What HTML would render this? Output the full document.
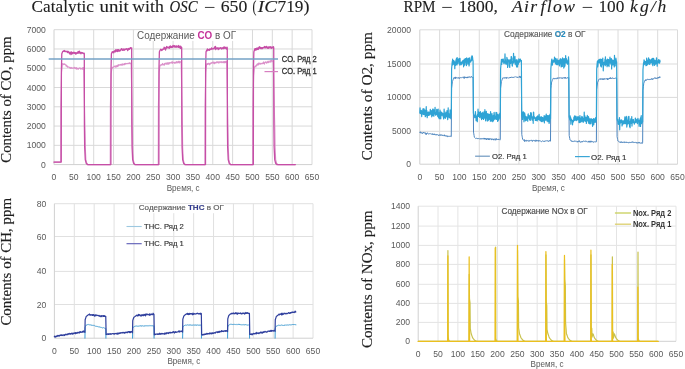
<!DOCTYPE html>
<html><head><meta charset="utf-8"><title>Charts</title>
<style>html,body{margin:0;padding:0;background:#fff;overflow:hidden;width:685px;height:369px;} svg{display:block;}</style>
</head><body>
<svg width="685" height="369" viewBox="0 0 685 369">
<rect width="685" height="369" fill="#fff"/>
<line x1="54.00" y1="145.33" x2="312.00" y2="145.33" stroke="#d9d9d9" stroke-width="1"/>
<line x1="54.00" y1="126.06" x2="312.00" y2="126.06" stroke="#d9d9d9" stroke-width="1"/>
<line x1="54.00" y1="106.79" x2="312.00" y2="106.79" stroke="#d9d9d9" stroke-width="1"/>
<line x1="54.00" y1="87.51" x2="312.00" y2="87.51" stroke="#d9d9d9" stroke-width="1"/>
<line x1="54.00" y1="68.24" x2="312.00" y2="68.24" stroke="#d9d9d9" stroke-width="1"/>
<line x1="54.00" y1="48.97" x2="312.00" y2="48.97" stroke="#d9d9d9" stroke-width="1"/>
<line x1="54.00" y1="29.70" x2="312.00" y2="29.70" stroke="#d9d9d9" stroke-width="1"/>
<line x1="73.85" y1="29.70" x2="73.85" y2="164.60" stroke="#d9d9d9" stroke-width="1"/>
<line x1="93.69" y1="29.70" x2="93.69" y2="164.60" stroke="#d9d9d9" stroke-width="1"/>
<line x1="113.54" y1="29.70" x2="113.54" y2="164.60" stroke="#d9d9d9" stroke-width="1"/>
<line x1="133.38" y1="29.70" x2="133.38" y2="164.60" stroke="#d9d9d9" stroke-width="1"/>
<line x1="153.23" y1="29.70" x2="153.23" y2="164.60" stroke="#d9d9d9" stroke-width="1"/>
<line x1="173.08" y1="29.70" x2="173.08" y2="164.60" stroke="#d9d9d9" stroke-width="1"/>
<line x1="192.92" y1="29.70" x2="192.92" y2="164.60" stroke="#d9d9d9" stroke-width="1"/>
<line x1="212.77" y1="29.70" x2="212.77" y2="164.60" stroke="#d9d9d9" stroke-width="1"/>
<line x1="232.62" y1="29.70" x2="232.62" y2="164.60" stroke="#d9d9d9" stroke-width="1"/>
<line x1="252.46" y1="29.70" x2="252.46" y2="164.60" stroke="#d9d9d9" stroke-width="1"/>
<line x1="272.31" y1="29.70" x2="272.31" y2="164.60" stroke="#d9d9d9" stroke-width="1"/>
<line x1="292.15" y1="29.70" x2="292.15" y2="164.60" stroke="#d9d9d9" stroke-width="1"/>
<line x1="312.00" y1="29.70" x2="312.00" y2="164.60" stroke="#d9d9d9" stroke-width="1"/>
<line x1="54.00" y1="29.70" x2="54.00" y2="164.60" stroke="#d0d0d0" stroke-width="1"/>
<line x1="54.00" y1="164.60" x2="312.00" y2="164.60" stroke="#d0d0d0" stroke-width="1"/>
<text x="45.80" y="167.60" text-anchor="end" font-family="'Liberation Sans', 'DejaVu Sans', sans-serif" font-size="8.6" fill="#595959">0</text>
<text x="45.80" y="148.33" text-anchor="end" font-family="'Liberation Sans', 'DejaVu Sans', sans-serif" font-size="8.6" fill="#595959">1000</text>
<text x="45.80" y="129.06" text-anchor="end" font-family="'Liberation Sans', 'DejaVu Sans', sans-serif" font-size="8.6" fill="#595959">2000</text>
<text x="45.80" y="109.79" text-anchor="end" font-family="'Liberation Sans', 'DejaVu Sans', sans-serif" font-size="8.6" fill="#595959">3000</text>
<text x="45.80" y="90.51" text-anchor="end" font-family="'Liberation Sans', 'DejaVu Sans', sans-serif" font-size="8.6" fill="#595959">4000</text>
<text x="45.80" y="71.24" text-anchor="end" font-family="'Liberation Sans', 'DejaVu Sans', sans-serif" font-size="8.6" fill="#595959">5000</text>
<text x="45.80" y="51.97" text-anchor="end" font-family="'Liberation Sans', 'DejaVu Sans', sans-serif" font-size="8.6" fill="#595959">6000</text>
<text x="45.80" y="32.70" text-anchor="end" font-family="'Liberation Sans', 'DejaVu Sans', sans-serif" font-size="8.6" fill="#595959">7000</text>
<text x="54.00" y="180.00" text-anchor="middle" font-family="'Liberation Sans', 'DejaVu Sans', sans-serif" font-size="8.6" fill="#595959">0</text>
<text x="73.85" y="180.00" text-anchor="middle" font-family="'Liberation Sans', 'DejaVu Sans', sans-serif" font-size="8.6" fill="#595959">50</text>
<text x="93.69" y="180.00" text-anchor="middle" font-family="'Liberation Sans', 'DejaVu Sans', sans-serif" font-size="8.6" fill="#595959">100</text>
<text x="113.54" y="180.00" text-anchor="middle" font-family="'Liberation Sans', 'DejaVu Sans', sans-serif" font-size="8.6" fill="#595959">150</text>
<text x="133.38" y="180.00" text-anchor="middle" font-family="'Liberation Sans', 'DejaVu Sans', sans-serif" font-size="8.6" fill="#595959">200</text>
<text x="153.23" y="180.00" text-anchor="middle" font-family="'Liberation Sans', 'DejaVu Sans', sans-serif" font-size="8.6" fill="#595959">250</text>
<text x="173.08" y="180.00" text-anchor="middle" font-family="'Liberation Sans', 'DejaVu Sans', sans-serif" font-size="8.6" fill="#595959">300</text>
<text x="192.92" y="180.00" text-anchor="middle" font-family="'Liberation Sans', 'DejaVu Sans', sans-serif" font-size="8.6" fill="#595959">350</text>
<text x="212.77" y="180.00" text-anchor="middle" font-family="'Liberation Sans', 'DejaVu Sans', sans-serif" font-size="8.6" fill="#595959">400</text>
<text x="232.62" y="180.00" text-anchor="middle" font-family="'Liberation Sans', 'DejaVu Sans', sans-serif" font-size="8.6" fill="#595959">450</text>
<text x="252.46" y="180.00" text-anchor="middle" font-family="'Liberation Sans', 'DejaVu Sans', sans-serif" font-size="8.6" fill="#595959">500</text>
<text x="272.31" y="180.00" text-anchor="middle" font-family="'Liberation Sans', 'DejaVu Sans', sans-serif" font-size="8.6" fill="#595959">550</text>
<text x="292.15" y="180.00" text-anchor="middle" font-family="'Liberation Sans', 'DejaVu Sans', sans-serif" font-size="8.6" fill="#595959">600</text>
<text x="312.00" y="180.00" text-anchor="middle" font-family="'Liberation Sans', 'DejaVu Sans', sans-serif" font-size="8.6" fill="#595959">650</text>
<rect x="135" y="30.4" width="103" height="10.5" fill="#fff"/>
<text x="137" y="38.7" font-family="'Liberation Sans', 'DejaVu Sans', sans-serif" font-size="10" fill="#595959" textLength="99" lengthAdjust="spacingAndGlyphs">Содержание <tspan font-weight="bold" fill="#c5339a">CO</tspan> в ОГ</text>
<polyline points="54.00,162.09 54.28,162.09 54.55,162.09 54.83,162.09 55.10,162.09 55.38,162.09 55.66,162.09 55.93,162.09 56.21,162.09 56.49,162.09 56.76,162.09 57.04,162.09 57.31,162.09 57.59,162.09 57.87,162.09 58.14,162.09 58.42,162.09 58.70,162.09 58.97,162.09 59.25,162.09 59.52,162.09 59.80,162.09 60.08,162.09 60.35,162.09 60.63,162.09 60.75,106.79 61.01,95.22 61.28,83.66 61.54,72.10 61.81,69.33 62.07,66.57 62.34,63.81 62.60,64.00 62.86,63.69 63.13,64.11 63.39,64.22 63.66,64.58 63.92,64.30 64.19,63.72 64.45,64.12 64.72,64.39 64.99,64.08 65.27,64.65 65.55,64.78 65.83,65.07 66.11,66.15 66.38,65.13 66.66,65.49 66.94,65.69 67.22,66.94 67.50,66.32 67.78,67.33 68.07,67.09 68.36,67.07 68.65,66.87 68.94,67.21 69.23,67.12 69.52,67.85 69.80,67.57 70.09,67.70 70.38,68.39 70.67,68.24 70.95,67.39 71.24,67.92 71.52,67.58 71.80,68.43 72.09,68.46 72.37,68.24 72.66,68.10 72.94,67.72 73.22,67.88 73.51,68.18 73.79,68.40 74.07,68.16 74.36,67.30 74.64,67.86 74.92,68.30 75.21,67.85 75.49,67.82 75.77,68.80 76.06,68.11 76.34,67.56 76.62,69.21 76.91,68.45 77.19,68.40 77.48,68.80 77.76,68.22 78.04,68.55 78.33,69.28 78.61,68.63 78.88,68.21 79.15,68.27 79.42,68.11 79.70,67.85 79.97,68.35 80.24,68.45 80.51,69.11 80.78,68.17 81.05,68.74 81.33,68.64 81.60,69.01 81.87,68.85 82.14,68.62 82.41,67.72 82.68,69.30 82.95,69.01 83.23,68.17 83.50,67.57 83.77,68.24 84.08,83.62 84.38,100.47 84.69,116.43 85.00,130.88 85.28,147.26 85.58,153.52 85.87,159.78 86.12,160.70 86.37,161.61 86.62,162.53 86.87,163.44 87.16,163.73 87.46,164.02 87.76,164.31 88.06,164.60 88.33,164.60 88.61,164.60 88.89,164.60 89.17,164.60 89.44,164.60 89.72,164.60 90.00,164.60 90.27,164.60 90.55,164.60 90.83,164.60 91.11,164.60 91.38,164.60 91.66,164.60 91.94,164.60 92.22,164.60 92.49,164.60 92.77,164.60 93.05,164.60 93.33,164.60 93.60,164.60 93.88,164.60 94.16,164.60 94.44,164.60 94.71,164.60 94.99,164.60 95.27,164.60 95.54,164.60 95.82,164.60 96.10,164.60 96.38,164.60 96.65,164.60 96.93,164.60 97.21,164.60 97.49,164.60 97.76,164.60 98.04,164.60 98.32,164.60 98.60,164.60 98.87,164.60 99.15,164.60 99.43,164.60 99.70,164.60 99.98,164.60 100.26,164.60 100.54,164.60 100.81,164.60 101.09,164.60 101.37,164.60 101.65,164.60 101.92,164.60 102.20,164.60 102.48,164.60 102.76,164.60 103.03,164.60 103.31,164.60 103.59,164.60 103.86,164.60 104.14,164.60 104.42,164.60 104.70,164.60 104.97,164.60 105.25,164.60 105.53,164.60 105.81,164.60 106.08,164.60 106.36,164.60 106.64,164.60 106.92,164.60 107.19,164.60 107.47,164.60 107.75,164.60 108.03,164.60 108.30,164.60 108.58,164.60 108.86,164.60 109.13,164.60 109.41,164.60 109.69,164.60 109.97,164.60 110.24,164.60 110.36,106.79 110.63,95.87 110.89,84.94 111.16,74.02 111.42,71.97 111.69,69.91 111.95,67.86 112.23,67.58 112.50,67.99 112.78,68.07 113.06,66.95 113.33,66.78 113.61,67.13 113.88,66.98 114.16,66.78 114.44,66.11 114.71,66.47 114.99,66.41 115.26,66.29 115.54,67.20 115.82,65.71 116.09,65.76 116.37,65.86 116.64,66.96 116.92,66.20 117.20,65.38 117.47,66.55 117.75,65.66 118.03,64.97 118.30,65.35 118.58,65.93 118.85,64.47 119.12,64.93 119.40,65.21 119.67,64.93 119.94,64.72 120.22,64.92 120.49,64.37 120.77,65.19 121.04,65.02 121.31,64.27 121.59,64.70 121.86,65.09 122.13,64.15 122.41,63.85 122.68,64.72 122.96,65.11 123.23,64.46 123.50,64.41 123.78,64.43 124.05,63.56 124.32,64.68 124.60,63.52 124.87,64.69 125.15,64.40 125.42,63.67 125.69,63.37 125.97,63.45 126.24,63.81 126.51,63.62 126.79,63.70 127.06,63.67 127.33,63.45 127.61,63.79 127.88,63.55 128.15,63.38 128.43,63.64 128.70,63.25 128.97,63.32 129.25,62.61 129.52,63.40 129.79,63.74 130.07,63.69 130.34,63.50 130.61,63.02 130.89,63.61 131.16,63.42 131.47,79.68 131.78,95.42 132.08,113.98 132.39,129.19 132.67,147.26 132.97,153.52 133.27,159.78 133.51,160.70 133.76,161.61 134.01,162.53 134.26,163.44 134.56,163.73 134.85,164.02 135.15,164.31 135.45,164.60 135.73,164.60 136.01,164.60 136.28,164.60 136.56,164.60 136.84,164.60 137.12,164.60 137.40,164.60 137.68,164.60 137.95,164.60 138.23,164.60 138.51,164.60 138.79,164.60 139.07,164.60 139.35,164.60 139.62,164.60 139.90,164.60 140.18,164.60 140.46,164.60 140.74,164.60 141.02,164.60 141.29,164.60 141.57,164.60 141.85,164.60 142.13,164.60 142.41,164.60 142.69,164.60 142.96,164.60 143.24,164.60 143.52,164.60 143.80,164.60 144.08,164.60 144.36,164.60 144.63,164.60 144.91,164.60 145.19,164.60 145.47,164.60 145.75,164.60 146.03,164.60 146.30,164.60 146.58,164.60 146.86,164.60 147.14,164.60 147.42,164.60 147.70,164.60 147.97,164.60 148.25,164.60 148.53,164.60 148.81,164.60 149.09,164.60 149.37,164.60 149.64,164.60 149.92,164.60 150.20,164.60 150.48,164.60 150.76,164.60 151.04,164.60 151.31,164.60 151.59,164.60 151.87,164.60 152.15,164.60 152.43,164.60 152.71,164.60 152.98,164.60 153.26,164.60 153.54,164.60 153.82,164.60 154.10,164.60 154.38,164.60 154.65,164.60 154.93,164.60 155.21,164.60 155.49,164.60 155.77,164.60 156.05,164.60 156.32,164.60 156.60,164.60 156.88,164.60 157.16,164.60 157.44,164.60 157.72,164.60 157.99,164.60 158.27,164.60 158.39,106.79 158.66,95.22 158.92,83.66 159.18,72.10 159.45,69.85 159.71,67.60 159.98,65.35 160.25,65.81 160.53,65.07 160.81,64.91 161.08,64.90 161.36,65.14 161.64,64.53 161.91,64.63 162.19,64.93 162.46,63.43 162.74,64.34 163.02,64.70 163.29,64.39 163.57,64.37 163.84,64.21 164.12,65.41 164.40,64.25 164.67,63.44 164.95,64.41 165.22,63.79 165.50,63.22 165.78,63.18 166.05,62.79 166.33,63.42 166.61,64.22 166.89,63.54 167.17,63.50 167.45,63.01 167.73,62.75 168.01,64.54 168.29,62.70 168.57,63.89 168.85,62.83 169.13,63.85 169.41,63.02 169.69,62.50 169.97,63.12 170.25,62.93 170.53,62.60 170.81,62.89 171.09,62.97 171.37,62.16 171.65,62.37 171.93,62.98 172.21,61.49 172.49,63.34 172.77,62.32 173.05,62.85 173.33,62.63 173.61,62.33 173.89,62.53 174.17,62.30 174.45,63.32 174.73,63.28 175.01,62.23 175.29,62.96 175.57,62.96 175.85,63.14 176.13,61.80 176.41,62.02 176.69,61.64 176.97,62.77 177.25,62.29 177.53,62.81 177.81,61.86 178.09,61.44 178.37,62.60 178.65,61.39 178.93,61.64 179.21,62.17 179.49,63.01 179.77,61.35 180.05,62.05 180.33,62.26 180.61,61.75 180.89,61.71 181.17,61.88 181.48,77.85 181.79,95.76 182.10,111.41 182.40,128.65 182.68,147.26 182.98,153.52 183.28,159.78 183.53,160.70 183.77,161.61 184.02,162.53 184.27,163.44 184.57,163.73 184.87,164.02 185.16,164.31 185.46,164.60 185.74,164.60 186.02,164.60 186.29,164.60 186.57,164.60 186.85,164.60 187.13,164.60 187.41,164.60 187.68,164.60 187.96,164.60 188.24,164.60 188.52,164.60 188.80,164.60 189.07,164.60 189.35,164.60 189.63,164.60 189.91,164.60 190.18,164.60 190.46,164.60 190.74,164.60 191.02,164.60 191.30,164.60 191.57,164.60 191.85,164.60 192.13,164.60 192.41,164.60 192.68,164.60 192.96,164.60 193.24,164.60 193.52,164.60 193.80,164.60 194.07,164.60 194.35,164.60 194.63,164.60 194.91,164.60 195.19,164.60 195.46,164.60 195.74,164.60 196.02,164.60 196.30,164.60 196.57,164.60 196.85,164.60 197.13,164.60 197.41,164.60 197.69,164.60 197.96,164.60 198.24,164.60 198.52,164.60 198.80,164.60 199.08,164.60 199.35,164.60 199.63,164.60 199.91,164.60 200.19,164.60 200.46,164.60 200.74,164.60 201.02,164.60 201.30,164.60 201.58,164.60 201.85,164.60 202.13,164.60 202.41,164.60 202.69,164.60 202.97,164.60 203.24,164.60 203.52,164.60 203.80,164.60 204.08,164.60 204.35,164.60 204.63,164.60 204.91,164.60 205.03,106.79 205.29,95.22 205.56,83.66 205.82,72.10 206.09,69.53 206.35,66.96 206.62,64.39 206.89,63.60 207.17,63.55 207.45,64.27 207.72,64.48 208.00,63.56 208.27,63.93 208.55,63.86 208.83,63.17 209.10,63.91 209.38,64.82 209.65,63.84 209.93,64.48 210.21,63.12 210.48,63.30 210.76,63.68 211.03,63.32 211.31,62.85 211.59,63.14 211.86,62.48 212.14,63.08 212.42,62.48 212.69,62.20 212.97,62.85 213.24,62.04 213.52,63.12 213.79,62.34 214.07,63.64 214.35,63.23 214.62,63.63 214.90,62.14 215.17,63.22 215.45,62.61 215.72,62.67 216.00,62.56 216.27,62.81 216.55,62.38 216.82,61.61 217.10,62.42 217.38,62.16 217.65,61.91 217.93,62.46 218.20,62.94 218.48,62.57 218.75,61.76 219.03,63.05 219.30,62.51 219.58,61.71 219.85,61.79 220.13,62.14 220.41,61.73 220.68,62.01 220.96,62.63 221.23,62.79 221.51,62.32 221.78,61.54 222.06,62.23 222.33,62.36 222.61,62.27 222.88,62.61 223.16,61.91 223.44,62.39 223.71,61.62 223.99,62.90 224.26,61.58 224.54,62.02 224.81,62.62 225.09,61.31 225.36,61.77 225.64,62.68 225.91,62.00 226.19,61.41 226.47,61.75 226.74,61.50 227.05,77.88 227.36,94.65 227.66,111.44 227.97,128.51 228.25,147.26 228.55,153.52 228.84,159.78 229.09,160.70 229.34,161.61 229.59,162.53 229.84,163.44 230.13,163.73 230.43,164.02 230.73,164.31 231.03,164.60 231.31,164.60 231.58,164.60 231.86,164.60 232.14,164.60 232.42,164.60 232.70,164.60 232.98,164.60 233.25,164.60 233.53,164.60 233.81,164.60 234.09,164.60 234.37,164.60 234.65,164.60 234.92,164.60 235.20,164.60 235.48,164.60 235.76,164.60 236.04,164.60 236.32,164.60 236.59,164.60 236.87,164.60 237.15,164.60 237.43,164.60 237.71,164.60 237.99,164.60 238.26,164.60 238.54,164.60 238.82,164.60 239.10,164.60 239.38,164.60 239.66,164.60 239.94,164.60 240.21,164.60 240.49,164.60 240.77,164.60 241.05,164.60 241.33,164.60 241.61,164.60 241.88,164.60 242.16,164.60 242.44,164.60 242.72,164.60 243.00,164.60 243.28,164.60 243.55,164.60 243.83,164.60 244.11,164.60 244.39,164.60 244.67,164.60 244.95,164.60 245.22,164.60 245.50,164.60 245.78,164.60 246.06,164.60 246.34,164.60 246.62,164.60 246.89,164.60 247.17,164.60 247.45,164.60 247.73,164.60 248.01,164.60 248.29,164.60 248.56,164.60 248.84,164.60 249.12,164.60 249.40,164.60 249.68,164.60 249.96,164.60 250.23,164.60 250.51,164.60 250.79,164.60 251.07,164.60 251.35,164.60 251.63,164.60 251.90,164.60 252.18,164.60 252.46,164.60 252.74,164.60 252.86,106.79 253.12,96.51 253.39,86.23 253.65,75.95 253.92,73.06 254.18,70.17 254.45,67.28 254.73,66.86 255.02,66.11 255.31,66.17 255.60,66.01 255.89,66.97 256.18,65.27 256.47,64.81 256.76,65.32 257.04,65.14 257.33,63.72 257.62,64.39 257.90,65.18 258.17,64.04 258.45,63.04 258.72,64.60 259.00,63.76 259.27,63.12 259.55,64.03 259.82,63.64 260.09,63.42 260.37,64.23 260.64,63.78 260.92,63.54 261.19,63.22 261.47,63.58 261.74,63.59 262.02,63.93 262.29,63.55 262.57,62.89 262.84,63.21 263.12,63.61 263.39,63.55 263.67,61.80 263.94,62.48 264.22,62.66 264.49,64.16 264.77,62.85 265.05,62.48 265.33,62.49 265.61,61.84 265.89,62.38 266.18,62.56 266.46,62.21 266.74,63.33 267.02,61.84 267.30,62.11 267.58,62.54 267.87,61.50 268.15,61.20 268.43,62.69 268.71,62.27 268.99,61.74 269.28,61.73 269.56,61.95 269.84,62.16 270.12,60.60 270.40,61.06 270.68,62.07 270.97,62.08 271.25,60.55 271.53,60.83 271.81,60.36 272.09,60.79 272.38,61.53 272.66,60.92 272.94,62.02 273.22,60.92 273.49,72.51 273.75,83.41 274.01,94.36 274.28,106.20 274.54,117.14 274.81,128.31 275.09,147.26 275.38,153.52 275.68,159.78 275.93,160.70 276.18,161.61 276.43,162.53 276.67,163.44 276.97,163.73 277.27,164.02 277.57,164.31 277.86,164.60 278.14,164.60 278.42,164.60 278.70,164.60 278.97,164.60 279.25,164.60 279.53,164.60 279.81,164.60 280.08,164.60 280.36,164.60 280.64,164.60 280.91,164.60 281.19,164.60 281.47,164.60 281.75,164.60 282.02,164.60 282.30,164.60 282.58,164.60 282.85,164.60 283.13,164.60 283.41,164.60 283.69,164.60 283.96,164.60 284.24,164.60 284.52,164.60 284.80,164.60 285.07,164.60 285.35,164.60 285.63,164.60 285.90,164.60 286.18,164.60 286.46,164.60 286.74,164.60 287.01,164.60 287.29,164.60 287.57,164.60 287.84,164.60 288.12,164.60 288.40,164.60 288.68,164.60 288.95,164.60 289.23,164.60 289.51,164.60 289.78,164.60 290.06,164.60 290.34,164.60 290.62,164.60 290.89,164.60 291.17,164.60 291.45,164.60 291.73,164.60 292.00,164.60 292.28,164.60 292.56,164.60 292.83,164.60 293.11,164.60 293.39,164.60 293.67,164.60 293.94,164.60 294.22,164.60 294.50,164.60 294.77,164.60 295.05,164.60 295.33,164.60" fill="none" stroke="#db92ca" stroke-width="1.1" stroke-linejoin="round" stroke-linecap="round" opacity="1.0"/>
<polyline points="54.00,162.09 54.28,162.09 54.56,162.09 54.84,162.09 55.12,162.09 55.40,162.09 55.68,162.09 55.96,162.09 56.23,162.09 56.51,162.09 56.79,162.09 57.07,162.09 57.35,162.09 57.63,162.09 57.91,162.09 58.19,162.09 58.47,162.09 58.75,162.09 59.03,162.09 59.31,162.09 59.59,162.09 59.87,162.09 60.15,162.09 60.43,162.09 60.70,162.09 60.98,162.09 61.26,162.09 61.38,72.10 61.78,53.79 62.04,53.15 62.31,52.50 62.57,51.86 62.86,51.42 63.14,51.33 63.42,51.02 63.71,51.17 63.99,51.39 64.27,50.50 64.56,50.90 64.84,50.96 65.12,51.64 65.40,51.59 65.68,51.26 65.96,51.43 66.24,51.34 66.52,51.53 66.80,51.51 67.08,51.81 67.36,52.65 67.64,51.61 67.92,51.28 68.20,51.78 68.48,52.30 68.76,51.96 69.04,53.00 69.32,52.44 69.60,53.77 69.89,52.51 70.17,53.23 70.46,52.16 70.74,53.45 71.02,54.54 71.31,53.53 71.59,51.82 71.87,53.19 72.16,53.91 72.44,53.56 72.72,52.75 73.01,52.82 73.29,53.09 73.57,52.27 73.86,52.84 74.14,53.39 74.42,53.03 74.71,52.37 74.99,52.89 75.28,53.60 75.56,52.85 75.84,54.22 76.13,53.53 76.41,52.88 76.69,53.52 76.98,52.55 77.26,52.81 77.54,52.54 77.83,53.24 78.11,51.33 78.39,52.15 78.68,53.08 78.96,52.82 79.24,52.83 79.52,51.12 79.80,53.14 80.08,52.36 80.36,52.34 80.64,53.04 80.92,53.87 81.20,53.00 81.48,52.93 81.76,52.45 82.04,52.73 82.32,53.28 82.60,52.76 82.88,53.02 83.17,53.29 83.45,53.43 83.73,53.68 84.01,53.09 84.29,53.60 84.40,125.75 84.68,147.26 84.98,153.52 85.28,159.78 85.53,160.70 85.77,161.61 86.02,162.53 86.27,163.44 86.57,163.73 86.87,164.02 87.16,164.31 87.46,164.60 87.74,164.60 88.02,164.60 88.30,164.60 88.58,164.60 88.85,164.60 89.13,164.60 89.41,164.60 89.69,164.60 89.97,164.60 90.25,164.60 90.53,164.60 90.81,164.60 91.08,164.60 91.36,164.60 91.64,164.60 91.92,164.60 92.20,164.60 92.48,164.60 92.76,164.60 93.04,164.60 93.32,164.60 93.59,164.60 93.87,164.60 94.15,164.60 94.43,164.60 94.71,164.60 94.99,164.60 95.27,164.60 95.55,164.60 95.82,164.60 96.10,164.60 96.38,164.60 96.66,164.60 96.94,164.60 97.22,164.60 97.50,164.60 97.78,164.60 98.05,164.60 98.33,164.60 98.61,164.60 98.89,164.60 99.17,164.60 99.45,164.60 99.73,164.60 100.01,164.60 100.29,164.60 100.56,164.60 100.84,164.60 101.12,164.60 101.40,164.60 101.68,164.60 101.96,164.60 102.24,164.60 102.52,164.60 102.79,164.60 103.07,164.60 103.35,164.60 103.63,164.60 103.91,164.60 104.19,164.60 104.47,164.60 104.75,164.60 105.02,164.60 105.30,164.60 105.58,164.60 105.86,164.60 106.14,164.60 106.42,164.60 106.70,164.60 106.98,164.60 107.25,164.60 107.53,164.60 107.81,164.60 108.09,164.60 108.37,164.60 108.65,164.60 108.93,164.60 109.21,164.60 109.49,164.60 109.76,164.60 110.04,164.60 110.32,164.60 110.60,164.60 110.88,164.60 111.00,70.17 111.40,53.79 111.66,53.15 111.92,52.50 112.19,51.86 112.47,52.49 112.75,52.13 113.03,51.62 113.31,52.53 113.59,51.75 113.88,52.74 114.16,51.76 114.44,50.84 114.72,50.76 115.00,51.10 115.28,51.14 115.56,51.85 115.84,49.59 116.13,50.39 116.41,49.92 116.69,51.17 116.97,50.62 117.25,51.64 117.53,49.81 117.81,49.63 118.09,51.46 118.37,50.13 118.66,49.59 118.94,49.93 119.21,51.09 119.48,51.10 119.76,50.55 120.03,50.23 120.31,50.72 120.58,49.71 120.85,49.53 121.13,49.24 121.40,49.16 121.67,48.59 121.95,48.78 122.22,50.42 122.50,49.84 122.77,50.18 123.04,50.16 123.32,49.46 123.59,49.37 123.86,49.01 124.14,50.37 124.41,50.11 124.69,49.25 124.96,49.34 125.23,49.38 125.51,49.18 125.78,49.62 126.05,48.60 126.33,48.80 126.60,49.06 126.88,48.97 127.16,49.36 127.44,48.95 127.72,50.60 128.01,49.36 128.29,48.61 128.57,49.58 128.85,48.36 129.14,48.33 129.42,49.29 129.70,48.46 129.98,48.43 130.27,47.85 130.55,47.67 130.83,48.04 131.11,48.53 131.40,47.98 131.68,47.82 131.80,123.73 132.07,147.26 132.37,153.52 132.67,159.78 132.92,160.70 133.17,161.61 133.41,162.53 133.66,163.44 133.96,163.73 134.26,164.02 134.56,164.31 134.85,164.60 135.13,164.60 135.41,164.60 135.69,164.60 135.97,164.60 136.25,164.60 136.53,164.60 136.81,164.60 137.09,164.60 137.37,164.60 137.65,164.60 137.92,164.60 138.20,164.60 138.48,164.60 138.76,164.60 139.04,164.60 139.32,164.60 139.60,164.60 139.88,164.60 140.16,164.60 140.44,164.60 140.72,164.60 141.00,164.60 141.28,164.60 141.55,164.60 141.83,164.60 142.11,164.60 142.39,164.60 142.67,164.60 142.95,164.60 143.23,164.60 143.51,164.60 143.79,164.60 144.07,164.60 144.35,164.60 144.63,164.60 144.91,164.60 145.18,164.60 145.46,164.60 145.74,164.60 146.02,164.60 146.30,164.60 146.58,164.60 146.86,164.60 147.14,164.60 147.42,164.60 147.70,164.60 147.98,164.60 148.26,164.60 148.54,164.60 148.81,164.60 149.09,164.60 149.37,164.60 149.65,164.60 149.93,164.60 150.21,164.60 150.49,164.60 150.77,164.60 151.05,164.60 151.33,164.60 151.61,164.60 151.89,164.60 152.17,164.60 152.44,164.60 152.72,164.60 153.00,164.60 153.28,164.60 153.56,164.60 153.84,164.60 154.12,164.60 154.40,164.60 154.68,164.60 154.96,164.60 155.24,164.60 155.52,164.60 155.80,164.60 156.07,164.60 156.35,164.60 156.63,164.60 156.91,164.60 157.19,164.60 157.47,164.60 157.75,164.60 158.03,164.60 158.31,164.60 158.59,164.60 158.87,164.60 158.99,68.24 159.38,51.86 159.65,51.22 159.91,50.58 160.18,49.93 160.46,49.90 160.74,49.28 161.02,49.50 161.30,50.10 161.58,50.45 161.86,49.70 162.14,49.87 162.43,50.04 162.71,49.29 162.99,49.46 163.27,48.98 163.55,48.62 163.83,49.17 164.11,47.24 164.39,48.95 164.68,47.91 164.96,48.49 165.24,47.74 165.52,50.01 165.80,48.84 166.08,48.08 166.36,47.76 166.64,46.51 166.92,48.01 167.20,47.73 167.47,47.03 167.75,47.31 168.02,47.13 168.30,47.37 168.57,47.76 168.85,47.25 169.12,48.26 169.40,46.68 169.67,48.10 169.95,47.19 170.22,45.87 170.50,47.39 170.77,47.16 171.05,46.33 171.32,47.04 171.60,47.54 171.87,46.77 172.15,46.49 172.42,46.34 172.70,47.28 172.97,45.52 173.24,45.52 173.52,46.57 173.79,46.34 174.07,46.47 174.35,46.79 174.63,45.58 174.92,47.05 175.20,46.15 175.48,46.97 175.76,47.15 176.05,46.23 176.33,45.85 176.61,46.79 176.89,47.28 177.17,46.31 177.46,46.93 177.74,46.72 178.02,45.94 178.30,46.24 178.59,47.39 178.87,45.53 179.15,47.11 179.43,46.61 179.71,47.62 180.00,47.25 180.28,48.43 180.56,46.08 180.84,46.40 181.13,48.18 181.41,48.41 181.69,47.43 181.81,123.59 182.09,147.26 182.38,153.52 182.68,159.78 182.93,160.70 183.18,161.61 183.43,162.53 183.67,163.44 183.97,163.73 184.27,164.02 184.57,164.31 184.87,164.60 185.14,164.60 185.42,164.60 185.70,164.60 185.98,164.60 186.26,164.60 186.54,164.60 186.82,164.60 187.10,164.60 187.38,164.60 187.65,164.60 187.93,164.60 188.21,164.60 188.49,164.60 188.77,164.60 189.05,164.60 189.33,164.60 189.61,164.60 189.89,164.60 190.16,164.60 190.44,164.60 190.72,164.60 191.00,164.60 191.28,164.60 191.56,164.60 191.84,164.60 192.12,164.60 192.40,164.60 192.68,164.60 192.95,164.60 193.23,164.60 193.51,164.60 193.79,164.60 194.07,164.60 194.35,164.60 194.63,164.60 194.91,164.60 195.19,164.60 195.46,164.60 195.74,164.60 196.02,164.60 196.30,164.60 196.58,164.60 196.86,164.60 197.14,164.60 197.42,164.60 197.70,164.60 197.97,164.60 198.25,164.60 198.53,164.60 198.81,164.60 199.09,164.60 199.37,164.60 199.65,164.60 199.93,164.60 200.21,164.60 200.48,164.60 200.76,164.60 201.04,164.60 201.32,164.60 201.60,164.60 201.88,164.60 202.16,164.60 202.44,164.60 202.72,164.60 203.00,164.60 203.27,164.60 203.55,164.60 203.83,164.60 204.11,164.60 204.39,164.60 204.67,164.60 204.95,164.60 205.23,164.60 205.51,164.60 205.62,68.24 206.02,51.86 206.29,51.22 206.55,50.58 206.82,49.93 207.10,50.96 207.38,49.01 207.66,50.05 207.94,49.72 208.22,49.82 208.50,49.63 208.78,50.22 209.06,49.40 209.35,50.33 209.63,49.34 209.91,49.02 210.19,48.85 210.47,49.26 210.75,49.65 211.03,48.86 211.31,49.23 211.59,47.79 211.88,48.26 212.16,48.79 212.44,48.97 212.72,49.06 213.00,49.15 213.28,48.70 213.56,48.39 213.84,48.19 214.12,48.03 214.40,47.99 214.68,46.95 214.96,48.83 215.24,48.34 215.52,46.45 215.80,49.59 216.08,48.67 216.36,48.20 216.64,48.20 216.92,48.02 217.20,48.45 217.48,48.04 217.76,48.24 218.03,47.75 218.31,49.54 218.59,48.85 218.87,48.25 219.15,48.93 219.43,48.93 219.71,47.80 219.99,48.65 220.27,47.78 220.55,47.69 220.83,47.98 221.11,47.84 221.39,48.24 221.67,49.12 221.95,48.18 222.23,47.84 222.51,48.50 222.79,48.20 223.06,47.62 223.34,48.71 223.62,47.68 223.90,46.85 224.18,48.47 224.46,47.99 224.74,48.18 225.02,47.03 225.30,47.85 225.58,47.45 225.86,48.51 226.14,48.05 226.42,48.04 226.70,49.22 226.98,47.04 227.26,48.01 227.38,123.79 227.65,147.26 227.95,153.52 228.25,159.78 228.50,160.70 228.75,161.61 228.99,162.53 229.24,163.44 229.54,163.73 229.84,164.02 230.13,164.31 230.43,164.60 230.71,164.60 230.99,164.60 231.27,164.60 231.55,164.60 231.83,164.60 232.11,164.60 232.39,164.60 232.67,164.60 232.95,164.60 233.23,164.60 233.50,164.60 233.78,164.60 234.06,164.60 234.34,164.60 234.62,164.60 234.90,164.60 235.18,164.60 235.46,164.60 235.74,164.60 236.02,164.60 236.30,164.60 236.58,164.60 236.86,164.60 237.14,164.60 237.41,164.60 237.69,164.60 237.97,164.60 238.25,164.60 238.53,164.60 238.81,164.60 239.09,164.60 239.37,164.60 239.65,164.60 239.93,164.60 240.21,164.60 240.49,164.60 240.77,164.60 241.05,164.60 241.32,164.60 241.60,164.60 241.88,164.60 242.16,164.60 242.44,164.60 242.72,164.60 243.00,164.60 243.28,164.60 243.56,164.60 243.84,164.60 244.12,164.60 244.40,164.60 244.68,164.60 244.96,164.60 245.24,164.60 245.51,164.60 245.79,164.60 246.07,164.60 246.35,164.60 246.63,164.60 246.91,164.60 247.19,164.60 247.47,164.60 247.75,164.60 248.03,164.60 248.31,164.60 248.59,164.60 248.87,164.60 249.15,164.60 249.42,164.60 249.70,164.60 249.98,164.60 250.26,164.60 250.54,164.60 250.82,164.60 251.10,164.60 251.38,164.60 251.66,164.60 251.94,164.60 252.22,164.60 252.50,164.60 252.78,164.60 253.06,164.60 253.33,164.60 253.45,68.24 253.85,51.86 254.12,51.03 254.38,50.19 254.64,49.36 254.93,48.69 255.21,50.41 255.49,48.66 255.77,49.19 256.05,48.73 256.33,48.72 256.61,49.92 256.89,48.99 257.18,47.77 257.46,49.10 257.74,49.34 258.02,49.50 258.30,49.35 258.58,48.23 258.86,47.25 259.14,48.04 259.42,48.10 259.71,46.69 259.99,48.49 260.27,48.53 260.55,47.65 260.83,47.57 261.11,48.56 261.39,47.82 261.67,48.58 261.94,47.57 262.21,47.57 262.49,48.59 262.76,47.82 263.03,48.02 263.31,47.32 263.58,47.68 263.86,47.63 264.13,47.79 264.40,46.81 264.68,46.56 264.95,47.72 265.22,46.87 265.50,47.93 265.77,47.34 266.05,46.86 266.32,46.32 266.59,47.57 266.87,47.33 267.14,47.12 267.41,48.24 267.69,47.19 267.96,47.63 268.24,46.90 268.51,47.89 268.78,48.43 269.06,47.05 269.33,47.04 269.61,46.92 269.88,47.51 270.16,46.59 270.43,47.42 270.71,47.69 270.98,47.01 271.26,48.44 271.53,47.89 271.81,47.49 272.08,46.95 272.36,47.68 272.64,47.41 272.91,48.11 273.19,47.52 273.46,46.64 273.74,47.82 273.86,123.73 274.13,147.26 274.43,153.52 274.73,159.78 274.98,160.70 275.23,161.61 275.47,162.53 275.72,163.44 276.02,163.73 276.32,164.02 276.61,164.31 276.91,164.60 277.19,164.60 277.47,164.60 277.75,164.60 278.03,164.60 278.31,164.60 278.59,164.60 278.87,164.60 279.14,164.60 279.42,164.60 279.70,164.60 279.98,164.60 280.26,164.60 280.54,164.60 280.82,164.60 281.10,164.60 281.38,164.60 281.66,164.60 281.93,164.60 282.21,164.60 282.49,164.60 282.77,164.60 283.05,164.60 283.33,164.60 283.61,164.60 283.89,164.60 284.17,164.60 284.45,164.60 284.73,164.60 285.00,164.60 285.28,164.60 285.56,164.60 285.84,164.60 286.12,164.60 286.40,164.60 286.68,164.60 286.96,164.60 287.24,164.60 287.52,164.60 287.79,164.60 288.07,164.60 288.35,164.60 288.63,164.60 288.91,164.60 289.19,164.60 289.47,164.60 289.75,164.60 290.03,164.60 290.31,164.60 290.59,164.60 290.86,164.60 291.14,164.60 291.42,164.60 291.70,164.60 291.98,164.60 292.26,164.60 292.54,164.60 292.82,164.60 293.10,164.60 293.38,164.60 293.65,164.60 293.93,164.60 294.21,164.60 294.49,164.60 294.77,164.60 295.05,164.60 295.33,164.60" fill="none" stroke="#c64ea6" stroke-width="1.3" stroke-linejoin="round" stroke-linecap="round" opacity="1.0"/>
<line x1="48.7" y1="59" x2="278" y2="59" stroke="#74a2c6" stroke-width="1.4"/>
<line x1="264.5" y1="71.6" x2="278" y2="71.6" stroke="#d77fc0" stroke-width="1.2"/>
<text x="281.80" y="61.60" text-anchor="start" font-family="'Liberation Sans', 'DejaVu Sans', sans-serif" font-size="8.2" fill="#333" font-weight="normal" stroke="#333" stroke-width="0.3" textLength="35" lengthAdjust="spacingAndGlyphs">CO. Ряд 2</text>
<text x="281.80" y="74.20" text-anchor="start" font-family="'Liberation Sans', 'DejaVu Sans', sans-serif" font-size="8.2" fill="#333" font-weight="normal" stroke="#333" stroke-width="0.3" textLength="35" lengthAdjust="spacingAndGlyphs">CO. Ряд 1</text>
<text x="183.20" y="191.00" text-anchor="middle" font-family="'Liberation Sans', 'DejaVu Sans', sans-serif" font-size="8.6" fill="#595959" font-weight="normal" textLength="33" lengthAdjust="spacingAndGlyphs">Время, с</text>
<line x1="419.80" y1="131.30" x2="677.50" y2="131.30" stroke="#dbdbdb" stroke-width="1"/>
<line x1="419.80" y1="97.40" x2="677.50" y2="97.40" stroke="#dbdbdb" stroke-width="1"/>
<line x1="419.80" y1="64.00" x2="677.50" y2="64.00" stroke="#dbdbdb" stroke-width="1"/>
<line x1="419.80" y1="29.80" x2="677.50" y2="29.80" stroke="#dbdbdb" stroke-width="1"/>
<line x1="439.62" y1="29.80" x2="439.62" y2="164.20" stroke="#dbdbdb" stroke-width="1"/>
<line x1="459.45" y1="29.80" x2="459.45" y2="164.20" stroke="#dbdbdb" stroke-width="1"/>
<line x1="479.27" y1="29.80" x2="479.27" y2="164.20" stroke="#dbdbdb" stroke-width="1"/>
<line x1="499.09" y1="29.80" x2="499.09" y2="164.20" stroke="#dbdbdb" stroke-width="1"/>
<line x1="518.92" y1="29.80" x2="518.92" y2="164.20" stroke="#dbdbdb" stroke-width="1"/>
<line x1="538.74" y1="29.80" x2="538.74" y2="164.20" stroke="#dbdbdb" stroke-width="1"/>
<line x1="558.56" y1="29.80" x2="558.56" y2="164.20" stroke="#dbdbdb" stroke-width="1"/>
<line x1="578.38" y1="29.80" x2="578.38" y2="164.20" stroke="#dbdbdb" stroke-width="1"/>
<line x1="598.21" y1="29.80" x2="598.21" y2="164.20" stroke="#dbdbdb" stroke-width="1"/>
<line x1="618.03" y1="29.80" x2="618.03" y2="164.20" stroke="#dbdbdb" stroke-width="1"/>
<line x1="637.85" y1="29.80" x2="637.85" y2="164.20" stroke="#dbdbdb" stroke-width="1"/>
<line x1="657.68" y1="29.80" x2="657.68" y2="164.20" stroke="#dbdbdb" stroke-width="1"/>
<line x1="677.50" y1="29.80" x2="677.50" y2="164.20" stroke="#dbdbdb" stroke-width="1"/>
<line x1="419.80" y1="29.80" x2="419.80" y2="164.20" stroke="#d0d0d0" stroke-width="1"/>
<line x1="419.80" y1="164.20" x2="677.50" y2="164.20" stroke="#d0d0d0" stroke-width="1"/>
<text x="411.00" y="167.20" text-anchor="end" font-family="'Liberation Sans', 'DejaVu Sans', sans-serif" font-size="8.6" fill="#595959">0</text>
<text x="411.00" y="134.30" text-anchor="end" font-family="'Liberation Sans', 'DejaVu Sans', sans-serif" font-size="8.6" fill="#595959">5000</text>
<text x="411.00" y="100.40" text-anchor="end" font-family="'Liberation Sans', 'DejaVu Sans', sans-serif" font-size="8.6" fill="#595959">10000</text>
<text x="411.00" y="67.00" text-anchor="end" font-family="'Liberation Sans', 'DejaVu Sans', sans-serif" font-size="8.6" fill="#595959">15000</text>
<text x="411.00" y="32.80" text-anchor="end" font-family="'Liberation Sans', 'DejaVu Sans', sans-serif" font-size="8.6" fill="#595959">20000</text>
<text x="419.80" y="180.30" text-anchor="middle" font-family="'Liberation Sans', 'DejaVu Sans', sans-serif" font-size="8.6" fill="#595959">0</text>
<text x="439.62" y="180.30" text-anchor="middle" font-family="'Liberation Sans', 'DejaVu Sans', sans-serif" font-size="8.6" fill="#595959">50</text>
<text x="459.45" y="180.30" text-anchor="middle" font-family="'Liberation Sans', 'DejaVu Sans', sans-serif" font-size="8.6" fill="#595959">100</text>
<text x="479.27" y="180.30" text-anchor="middle" font-family="'Liberation Sans', 'DejaVu Sans', sans-serif" font-size="8.6" fill="#595959">150</text>
<text x="499.09" y="180.30" text-anchor="middle" font-family="'Liberation Sans', 'DejaVu Sans', sans-serif" font-size="8.6" fill="#595959">200</text>
<text x="518.92" y="180.30" text-anchor="middle" font-family="'Liberation Sans', 'DejaVu Sans', sans-serif" font-size="8.6" fill="#595959">250</text>
<text x="538.74" y="180.30" text-anchor="middle" font-family="'Liberation Sans', 'DejaVu Sans', sans-serif" font-size="8.6" fill="#595959">300</text>
<text x="558.56" y="180.30" text-anchor="middle" font-family="'Liberation Sans', 'DejaVu Sans', sans-serif" font-size="8.6" fill="#595959">350</text>
<text x="578.38" y="180.30" text-anchor="middle" font-family="'Liberation Sans', 'DejaVu Sans', sans-serif" font-size="8.6" fill="#595959">400</text>
<text x="598.21" y="180.30" text-anchor="middle" font-family="'Liberation Sans', 'DejaVu Sans', sans-serif" font-size="8.6" fill="#595959">450</text>
<text x="618.03" y="180.30" text-anchor="middle" font-family="'Liberation Sans', 'DejaVu Sans', sans-serif" font-size="8.6" fill="#595959">500</text>
<text x="637.85" y="180.30" text-anchor="middle" font-family="'Liberation Sans', 'DejaVu Sans', sans-serif" font-size="8.6" fill="#595959">550</text>
<text x="657.68" y="180.30" text-anchor="middle" font-family="'Liberation Sans', 'DejaVu Sans', sans-serif" font-size="8.6" fill="#595959">600</text>
<text x="677.50" y="180.30" text-anchor="middle" font-family="'Liberation Sans', 'DejaVu Sans', sans-serif" font-size="8.6" fill="#595959">650</text>
<rect x="502" y="30.5" width="86" height="9" fill="#fff"/>
<text x="504.1" y="37" font-family="'Liberation Sans', 'DejaVu Sans', sans-serif" font-size="8.4" fill="#595959" stroke="#595959" stroke-width="0.15" textLength="81.5" lengthAdjust="spacingAndGlyphs">Содержание <tspan font-weight="bold" fill="#1f8fc8">O2</tspan> в ОГ</text>
<polyline points="419.80,132.62 420.12,132.93 420.44,131.76 420.75,132.99 421.07,132.77 421.39,132.75 421.71,132.45 422.03,133.38 422.34,133.76 422.66,132.74 422.98,132.70 423.30,132.81 423.62,132.06 423.93,133.05 424.25,133.07 424.57,132.85 424.89,133.11 425.21,132.64 425.52,133.82 425.84,133.52 426.16,134.77 426.48,133.13 426.80,133.64 427.11,133.17 427.43,132.72 427.75,133.62 428.07,133.75 428.39,133.89 428.70,134.06 429.02,134.02 429.34,133.56 429.66,133.84 429.98,133.87 430.29,134.00 430.61,133.61 430.93,133.82 431.25,134.11 431.56,133.83 431.88,134.19 432.20,134.63 432.52,133.64 432.84,134.07 433.15,134.67 433.47,133.90 433.79,134.23 434.11,135.03 434.43,133.81 434.74,134.36 435.06,134.18 435.38,134.49 435.70,134.67 436.02,135.26 436.33,134.31 436.65,134.72 436.97,134.88 437.29,134.67 437.61,134.82 437.92,134.62 438.24,135.08 438.56,134.98 438.88,135.85 439.20,135.22 439.51,134.82 439.83,134.60 440.15,135.31 440.47,135.26 440.79,134.62 441.10,135.42 441.42,135.04 441.74,134.71 442.06,135.39 442.38,134.96 442.69,135.77 443.01,135.45 443.33,135.60 443.65,135.56 443.97,135.20 444.28,134.74 444.60,135.99 444.92,135.99 445.24,135.61 445.56,136.26 445.87,135.69 446.19,135.70 446.51,136.08 446.83,135.80 447.15,136.66 447.46,135.79 447.78,136.74 448.10,136.44 448.42,136.42 448.74,136.40 449.05,135.95 449.37,136.29 449.69,136.52 450.01,136.19 450.33,135.82 450.64,136.48 450.96,136.38 451.28,136.56 451.60,88.37 451.99,84.92 452.39,81.47 452.74,80.61 453.08,79.75 453.43,78.89 453.78,78.03 454.09,77.51 454.41,77.89 454.73,78.49 455.04,76.96 455.36,77.06 455.68,78.72 455.99,77.93 456.31,77.73 456.63,77.49 456.94,77.60 457.26,77.96 457.57,78.25 457.89,77.77 458.21,77.38 458.52,78.22 458.84,78.18 459.16,77.76 459.47,78.51 459.79,77.82 460.11,77.87 460.42,77.50 460.74,77.95 461.06,78.00 461.37,77.79 461.69,77.64 462.01,77.87 462.32,77.58 462.64,77.27 462.96,77.08 463.27,76.85 463.59,77.83 463.91,77.67 464.22,78.48 464.54,76.71 464.85,77.74 465.17,77.45 465.49,77.21 465.80,77.95 466.12,77.20 466.44,77.38 466.75,78.09 467.07,77.22 467.39,76.84 467.70,78.05 468.02,76.97 468.34,77.19 468.65,77.07 468.97,77.06 469.29,76.70 469.60,77.30 469.92,76.84 470.24,77.34 470.55,76.87 470.87,77.47 471.19,77.17 471.50,76.41 471.82,76.91 472.13,77.14 472.45,77.52 472.77,77.36 473.08,77.03 473.52,132.12 473.81,133.83 474.10,135.54 474.39,137.25 474.69,137.58 474.99,137.90 475.28,138.22 475.58,138.54 475.90,138.47 476.22,138.19 476.53,138.41 476.85,138.38 477.17,138.62 477.48,138.08 477.80,138.78 478.12,138.86 478.43,138.30 478.75,138.64 479.07,138.79 479.38,138.92 479.70,138.80 480.02,138.47 480.33,138.59 480.65,139.22 480.97,138.58 481.28,138.70 481.60,139.17 481.92,138.49 482.23,138.91 482.55,138.95 482.87,138.51 483.18,138.32 483.50,139.13 483.82,138.69 484.13,139.23 484.45,137.98 484.77,139.10 485.08,138.45 485.40,139.19 485.72,138.62 486.03,138.08 486.35,139.97 486.67,139.15 486.98,138.80 487.30,139.04 487.62,139.28 487.93,138.18 488.25,139.01 488.57,139.71 488.88,138.73 489.20,139.76 489.52,138.64 489.83,139.34 490.15,139.06 490.47,138.63 490.78,139.10 491.10,139.71 491.42,139.84 491.73,138.72 492.05,138.90 492.37,139.53 492.68,138.88 493.00,139.04 493.32,138.99 493.63,140.15 493.95,139.39 494.27,138.93 494.58,139.01 494.90,138.96 495.22,140.29 495.53,139.27 495.85,139.15 496.17,138.35 496.48,139.75 496.80,139.52 497.12,139.38 497.43,139.06 497.75,139.60 498.07,138.98 498.38,139.76 498.70,139.36 499.02,139.68 499.33,139.42 499.65,139.77 499.97,140.14 500.28,139.53 500.60,88.37 501.00,84.92 501.39,81.47 501.74,80.61 502.09,79.75 502.43,78.89 502.78,78.03 503.09,77.57 503.41,77.86 503.72,78.18 504.04,77.86 504.36,77.52 504.67,78.28 504.99,77.91 505.30,77.63 505.62,77.61 505.93,77.94 506.25,78.62 506.56,77.26 506.88,77.60 507.19,77.71 507.51,77.80 507.82,77.56 508.14,77.81 508.45,78.03 508.77,77.89 509.08,77.81 509.40,77.80 509.71,77.99 510.03,77.25 510.34,78.01 510.66,77.20 510.97,77.85 511.29,77.28 511.60,76.84 511.92,77.29 512.23,77.64 512.55,77.31 512.86,77.24 513.18,77.98 513.49,77.50 513.81,77.17 514.12,77.40 514.44,77.16 514.76,76.87 515.07,76.84 515.39,76.76 515.70,76.86 516.02,77.19 516.33,77.06 516.65,77.14 516.96,77.13 517.28,77.06 517.59,77.65 517.91,77.07 518.22,76.93 518.54,77.29 518.85,76.88 519.17,76.64 519.48,76.89 519.80,75.97 520.11,77.83 520.43,76.84 520.74,77.47 521.06,76.32 521.37,76.69 521.81,134.59 522.10,136.17 522.39,137.75 522.68,139.33 522.98,139.62 523.28,139.92 523.57,140.22 523.87,140.51 524.19,139.47 524.51,141.52 524.82,140.48 525.14,140.34 525.46,140.67 525.77,140.34 526.09,141.45 526.41,140.24 526.73,140.44 527.04,140.58 527.36,140.83 527.68,140.35 527.99,140.81 528.31,140.53 528.63,140.83 528.95,141.52 529.26,140.66 529.58,140.57 529.90,140.36 530.21,141.01 530.53,140.69 530.85,140.44 531.17,140.63 531.48,140.21 531.80,139.92 532.12,141.07 532.43,141.48 532.75,140.39 533.07,140.14 533.39,140.38 533.70,140.43 534.02,141.01 534.34,141.05 534.65,140.43 534.97,141.15 535.29,141.51 535.61,141.20 535.92,139.83 536.24,140.06 536.56,141.10 536.88,141.12 537.19,140.75 537.51,141.14 537.83,140.34 538.14,140.90 538.46,141.30 538.78,140.36 539.10,141.12 539.41,140.81 539.73,140.91 540.05,141.04 540.36,140.79 540.68,141.20 541.00,141.66 541.32,141.81 541.63,141.45 541.95,141.26 542.27,140.98 542.58,140.95 542.90,140.76 543.22,140.94 543.54,141.31 543.85,141.29 544.17,141.85 544.49,141.09 544.80,140.84 545.12,140.83 545.44,141.09 545.76,141.12 546.07,140.69 546.39,141.06 546.71,140.78 547.02,140.85 547.34,141.01 547.66,140.58 547.98,141.33 548.29,141.26 548.61,141.44 548.93,141.45 549.24,140.52 549.56,140.45 549.88,141.15 550.20,140.94 550.51,141.17 550.83,88.96 551.23,85.54 551.62,82.12 551.97,81.26 552.32,80.41 552.66,79.55 553.01,78.70 553.33,78.20 553.64,78.33 553.96,78.15 554.27,79.12 554.59,78.85 554.90,78.39 555.21,77.98 555.53,78.49 555.84,78.86 556.16,78.64 556.47,78.74 556.79,78.80 557.10,77.83 557.42,78.67 557.73,78.39 558.05,77.51 558.36,77.88 558.68,78.20 558.99,78.56 559.31,78.13 559.62,77.63 559.94,78.01 560.25,77.73 560.57,78.18 560.88,77.99 561.20,78.26 561.51,77.98 561.83,77.61 562.14,78.69 562.45,78.12 562.77,77.98 563.08,78.28 563.40,78.16 563.71,77.70 564.03,77.19 564.34,77.72 564.66,77.82 564.97,78.56 565.29,77.14 565.60,77.86 565.92,77.89 566.23,78.30 566.55,77.86 566.86,78.25 567.18,77.77 567.49,77.59 567.81,77.74 568.12,77.62 568.44,78.06 568.75,77.69 569.19,135.41 569.48,136.95 569.77,138.48 570.06,140.02 570.36,140.31 570.65,140.59 570.95,140.88 571.25,141.17 571.57,140.61 571.88,141.44 572.20,141.91 572.52,141.28 572.84,141.51 573.16,141.62 573.48,141.37 573.79,141.12 574.11,141.71 574.43,141.31 574.75,140.70 575.07,141.00 575.38,141.34 575.70,141.24 576.02,141.34 576.34,141.32 576.66,141.02 576.98,141.36 577.29,142.28 577.61,141.35 577.93,141.70 578.25,141.10 578.57,141.60 578.88,141.31 579.20,140.52 579.52,141.80 579.84,141.84 580.16,141.96 580.48,142.36 580.79,142.16 581.11,141.28 581.43,141.69 581.75,142.18 582.07,142.04 582.38,141.22 582.70,141.78 583.02,141.62 583.34,141.36 583.66,140.96 583.98,140.74 584.29,141.10 584.61,141.46 584.93,141.46 585.25,140.82 585.57,140.98 585.88,141.68 586.20,141.38 586.52,141.46 586.84,141.56 587.16,141.78 587.48,142.12 587.79,141.81 588.11,142.22 588.43,141.14 588.75,141.42 589.07,142.11 589.38,141.09 589.70,141.30 590.02,142.41 590.34,140.94 590.66,141.36 590.98,140.87 591.29,142.18 591.61,141.49 591.93,141.54 592.25,141.64 592.57,141.66 592.88,141.32 593.20,142.33 593.52,142.24 593.84,142.31 594.16,141.99 594.47,142.02 594.79,141.64 595.11,141.69 595.43,141.79 595.75,142.08 596.07,141.99 596.38,141.83 596.70,89.54 597.10,86.15 597.49,82.76 597.84,81.91 598.19,81.06 598.53,80.21 598.88,79.36 599.20,78.96 599.52,79.01 599.83,79.25 600.15,79.40 600.47,78.62 600.78,79.46 601.10,78.94 601.42,78.71 601.74,79.26 602.05,78.79 602.37,79.55 602.69,78.67 603.00,78.97 603.32,79.67 603.64,78.74 603.96,79.34 604.27,78.44 604.59,79.21 604.91,78.98 605.23,78.77 605.54,79.00 605.86,78.74 606.18,79.04 606.49,78.52 606.81,78.77 607.13,78.66 607.45,79.82 607.76,78.23 608.08,78.66 608.40,79.36 608.71,78.59 609.03,78.41 609.35,78.15 609.67,78.99 609.98,77.91 610.30,78.57 610.62,77.52 610.93,78.52 611.25,78.16 611.57,78.56 611.89,78.83 612.20,77.92 612.52,77.97 612.84,77.70 613.15,77.95 613.47,78.50 613.79,78.91 614.11,78.48 614.42,78.47 614.74,78.50 615.06,77.91 615.37,77.99 615.69,78.21 616.01,78.01 616.33,78.11 616.64,78.03 617.08,136.65 617.37,138.12 617.66,139.59 617.95,141.05 618.25,141.33 618.55,141.61 618.84,141.88 619.14,142.16 619.46,142.08 619.78,141.88 620.09,141.80 620.41,142.46 620.73,142.80 621.05,141.65 621.36,142.17 621.68,141.79 622.00,142.89 622.32,142.38 622.64,142.24 622.95,142.83 623.27,142.48 623.59,142.00 623.91,141.86 624.22,141.67 624.54,142.65 624.86,142.87 625.18,142.12 625.49,141.96 625.81,142.27 626.13,142.87 626.45,142.05 626.77,142.06 627.08,142.16 627.40,142.58 627.72,142.28 628.04,142.09 628.35,142.64 628.67,143.15 628.99,142.30 629.31,142.25 629.63,142.45 629.94,142.11 630.26,142.70 630.58,142.51 630.90,142.61 631.21,142.27 631.53,141.87 631.85,142.61 632.17,141.71 632.48,141.93 632.80,142.23 633.12,142.32 633.44,141.86 633.76,142.64 634.07,142.62 634.39,143.00 634.71,142.41 635.03,142.07 635.34,142.40 635.66,142.45 635.98,142.71 636.30,142.57 636.61,143.21 636.93,142.24 637.25,142.83 637.57,143.11 637.89,142.98 638.20,143.02 638.52,142.36 638.84,142.29 639.16,143.25 639.47,142.36 639.79,142.38 640.11,142.97 640.43,143.34 640.74,143.06 641.06,143.02 641.38,142.64 641.70,142.93 642.02,143.60 642.33,142.71 642.65,142.81 642.97,90.13 643.36,86.77 643.76,83.40 644.11,82.56 644.45,81.72 644.80,80.87 645.15,80.03 645.47,80.59 645.78,79.56 646.10,80.35 646.42,80.08 646.73,80.09 647.05,79.91 647.37,79.11 647.69,79.24 648.00,79.28 648.32,79.34 648.64,80.03 648.95,79.56 649.27,79.51 649.59,79.63 649.91,78.98 650.22,79.42 650.54,79.35 650.86,79.43 651.17,79.78 651.49,78.66 651.81,78.30 652.13,78.71 652.44,79.12 652.76,79.75 653.08,78.54 653.40,78.07 653.71,78.38 654.03,78.07 654.35,77.79 654.66,77.87 654.98,78.45 655.30,77.79 655.62,77.85 655.93,78.72 656.25,78.20 656.57,78.56 656.88,77.97 657.20,77.64 657.52,78.24 657.84,78.58 658.15,77.18 658.47,77.49 658.79,77.00 659.10,78.06 659.42,77.05 659.74,76.59 660.06,77.36" fill="none" stroke="#4e86bf" stroke-width="1.0" stroke-linejoin="round" stroke-linecap="round" opacity="1.0"/>
<polyline points="419.80,112.99 420.04,107.83 420.28,113.56 420.52,112.33 420.75,113.43 420.99,110.47 421.23,110.38 421.47,112.84 421.71,116.58 421.95,111.18 422.18,114.31 422.42,111.49 422.66,112.44 422.90,108.94 423.14,110.21 423.38,114.31 423.62,112.26 423.85,108.62 424.09,114.56 424.33,112.07 424.57,110.13 424.81,109.97 425.05,111.88 425.28,116.63 425.52,116.49 425.76,112.61 426.00,112.26 426.24,106.71 426.48,115.50 426.72,110.36 426.95,111.32 427.19,117.62 427.43,115.43 427.67,112.90 427.91,114.61 428.15,113.75 428.39,112.15 428.62,115.46 428.86,112.18 429.10,115.03 429.34,114.81 429.58,112.03 429.82,114.90 430.05,112.70 430.29,109.33 430.53,113.39 430.77,113.84 431.01,111.58 431.25,114.43 431.49,110.71 431.72,116.81 431.96,111.92 432.20,114.85 432.44,115.60 432.68,108.99 432.92,115.75 433.15,109.04 433.39,111.88 433.63,109.85 433.87,116.12 434.11,110.52 434.35,109.87 434.59,113.93 434.82,113.97 435.06,107.32 435.30,113.20 435.54,114.76 435.78,115.31 436.02,112.54 436.25,112.85 436.49,113.26 436.73,109.29 436.97,114.58 437.21,112.52 437.45,109.99 437.69,116.35 437.92,111.10 438.16,109.06 438.40,117.29 438.64,116.63 438.88,116.49 439.12,118.58 439.36,112.67 439.59,118.63 439.83,112.57 440.07,110.12 440.31,118.04 440.55,114.70 440.79,118.84 441.02,111.90 441.26,115.82 441.50,114.61 441.74,113.80 441.98,112.54 442.22,114.85 442.46,113.93 442.69,115.39 442.93,113.70 443.17,117.02 443.41,113.85 443.65,119.00 443.89,115.29 444.12,109.11 444.36,113.85 444.60,117.31 444.84,113.41 445.08,116.59 445.32,118.35 445.56,116.00 445.79,112.22 446.03,113.13 446.27,114.38 446.51,116.53 446.75,116.93 446.99,110.69 447.22,113.55 447.46,116.64 447.70,119.63 447.94,117.74 448.18,107.84 448.42,117.19 448.66,114.43 448.89,113.71 449.13,114.66 449.37,114.98 449.61,117.82 449.85,117.00 450.09,109.95 450.33,116.26 450.56,112.14 450.80,118.69 451.04,115.05 451.28,114.35 451.60,69.15 451.89,65.57 452.19,61.95 452.43,61.25 452.67,59.22 452.90,64.80 453.14,60.34 453.38,60.87 453.62,63.77 453.85,60.60 454.09,64.15 454.33,63.88 454.57,61.84 454.80,68.72 455.04,62.05 455.28,64.34 455.51,65.50 455.75,62.82 455.99,59.72 456.23,62.73 456.46,58.38 456.70,64.65 456.94,65.02 457.18,57.59 457.41,60.57 457.65,59.13 457.89,63.72 458.13,59.47 458.36,60.87 458.60,59.84 458.84,61.45 459.08,58.36 459.31,63.17 459.55,63.97 459.79,65.26 460.03,58.42 460.26,63.34 460.50,64.11 460.74,63.83 460.98,62.53 461.21,64.65 461.45,62.10 461.69,62.96 461.93,62.74 462.16,63.79 462.40,61.18 462.64,62.46 462.88,60.95 463.11,60.58 463.35,60.33 463.59,66.82 463.82,62.58 464.06,63.24 464.30,59.14 464.54,65.21 464.77,62.98 465.01,61.87 465.25,61.97 465.49,58.50 465.72,62.21 465.96,58.54 466.20,64.82 466.44,65.69 466.67,57.83 466.91,59.85 467.15,59.70 467.39,60.63 467.62,59.68 467.86,64.08 468.10,58.44 468.34,62.27 468.57,58.31 468.81,60.63 469.05,65.93 469.29,64.17 469.52,57.88 469.76,61.15 470.00,61.81 470.24,60.14 470.47,61.86 470.71,62.15 470.95,60.45 471.19,60.33 471.42,56.75 471.66,60.55 471.90,55.77 472.13,55.96 472.37,56.16 472.61,57.85 472.85,60.26 473.08,60.58 473.26,86.83 473.44,113.23 473.72,114.47 474.00,115.71 474.23,115.36 474.47,116.09 474.71,117.62 474.94,115.91 475.18,117.40 475.42,111.54 475.65,114.39 475.89,116.93 476.13,120.72 476.36,115.94 476.60,116.88 476.84,118.61 477.07,118.75 477.31,121.63 477.55,114.38 477.79,116.02 478.02,109.21 478.26,115.95 478.50,116.26 478.73,112.17 478.97,115.55 479.21,115.48 479.44,116.87 479.68,117.49 479.92,112.07 480.15,113.37 480.39,111.53 480.63,116.86 480.86,115.89 481.10,118.25 481.34,113.50 481.57,119.59 481.81,114.55 482.05,113.19 482.28,112.39 482.52,118.46 482.76,113.24 482.99,117.89 483.23,118.01 483.47,119.48 483.71,113.10 483.94,111.84 484.18,117.63 484.42,118.07 484.65,116.99 484.89,109.67 485.13,113.55 485.36,117.54 485.60,120.78 485.84,117.90 486.07,113.11 486.31,111.37 486.55,116.88 486.78,117.98 487.02,117.52 487.26,121.08 487.49,113.89 487.73,119.03 487.97,113.51 488.20,120.66 488.44,119.54 488.68,115.53 488.92,118.25 489.15,114.28 489.39,116.28 489.63,119.34 489.86,114.72 490.10,114.16 490.34,121.27 490.57,111.64 490.81,115.08 491.05,114.41 491.28,121.17 491.52,118.24 491.76,117.29 491.99,113.63 492.23,120.17 492.47,118.70 492.70,121.66 492.94,117.06 493.18,115.56 493.41,120.80 493.65,117.99 493.89,115.16 494.12,112.40 494.36,114.78 494.60,117.29 494.84,119.55 495.07,118.93 495.31,118.24 495.55,116.16 495.78,116.68 496.02,112.26 496.26,115.83 496.49,119.34 496.73,112.61 496.97,114.15 497.20,116.34 497.44,118.47 497.68,121.44 497.91,119.26 498.15,114.29 498.39,118.72 498.62,120.06 498.86,116.16 499.10,116.05 499.33,115.12 499.57,115.01 499.81,113.07 500.04,118.88 500.28,116.72 500.60,69.15 500.90,65.57 501.19,61.95 501.43,59.39 501.67,64.47 501.91,60.10 502.14,61.42 502.38,61.24 502.62,59.34 502.86,61.88 503.09,58.93 503.33,59.53 503.57,61.43 503.81,63.24 504.04,63.71 504.28,63.11 504.52,62.25 504.75,61.77 504.99,53.94 505.23,60.02 505.47,59.66 505.70,63.88 505.94,63.47 506.18,62.44 506.42,61.09 506.65,64.26 506.89,57.37 507.13,63.01 507.37,58.73 507.60,67.50 507.84,61.52 508.08,60.76 508.32,60.97 508.55,59.89 508.79,60.71 509.03,60.99 509.27,66.27 509.50,63.24 509.74,67.38 509.98,59.72 510.22,60.54 510.45,61.83 510.69,63.44 510.93,62.80 511.16,56.48 511.40,56.76 511.64,61.39 511.88,57.88 512.11,65.30 512.35,66.17 512.59,62.43 512.83,63.43 513.06,62.60 513.30,60.64 513.54,53.25 513.78,62.81 514.01,60.95 514.25,60.34 514.49,61.14 514.73,58.61 514.96,56.40 515.20,64.23 515.44,60.56 515.68,61.65 515.91,60.02 516.15,64.89 516.39,65.45 516.63,66.85 516.86,59.52 517.10,60.37 517.34,60.66 517.57,66.92 517.81,61.79 518.05,62.77 518.29,64.45 518.52,63.15 518.76,58.94 519.00,59.33 519.24,60.78 519.47,59.37 519.71,62.26 519.95,60.49 520.19,60.56 520.42,59.20 520.66,60.81 520.90,60.98 521.14,60.95 521.37,60.58 521.55,87.88 521.73,115.37 522.01,116.55 522.29,117.74 522.52,119.41 522.76,112.00 523.00,116.44 523.23,116.67 523.47,111.88 523.71,114.18 523.95,121.81 524.18,116.02 524.42,115.66 524.66,112.97 524.89,114.44 525.13,115.86 525.37,120.88 525.61,120.10 525.84,117.18 526.08,116.58 526.32,120.52 526.56,118.88 526.79,118.93 527.03,117.75 527.27,117.05 527.50,118.67 527.74,121.12 527.98,114.74 528.22,113.84 528.45,118.24 528.69,115.33 528.93,116.83 529.16,116.29 529.40,116.76 529.64,119.97 529.88,116.53 530.11,115.42 530.35,120.34 530.59,112.97 530.82,112.66 531.06,113.36 531.30,112.94 531.54,116.16 531.77,118.95 532.01,119.64 532.25,120.19 532.49,117.81 532.72,118.20 532.96,116.40 533.20,123.34 533.43,112.18 533.67,112.29 533.91,118.23 534.15,116.43 534.38,116.95 534.62,117.48 534.86,118.73 535.09,118.52 535.33,120.33 535.57,117.76 535.81,118.29 536.04,117.41 536.28,120.45 536.52,118.15 536.76,118.14 536.99,116.71 537.23,121.02 537.47,117.21 537.70,115.76 537.94,116.77 538.18,119.26 538.42,119.59 538.65,118.94 538.89,116.46 539.13,114.35 539.36,118.76 539.60,120.02 539.84,117.40 540.08,117.85 540.31,120.73 540.55,120.30 540.79,118.67 541.02,116.68 541.26,121.50 541.50,121.06 541.74,117.16 541.97,121.60 542.21,118.18 542.45,117.56 542.69,118.76 542.92,121.11 543.16,118.65 543.40,119.36 543.63,117.64 543.87,120.68 544.11,115.71 544.35,122.85 544.58,119.00 544.82,118.53 545.06,116.08 545.29,120.14 545.53,117.17 545.77,120.05 546.01,116.69 546.24,114.13 546.48,119.64 546.72,117.48 546.96,121.02 547.19,116.13 547.43,115.53 547.67,118.56 547.90,121.59 548.14,117.63 548.38,115.72 548.62,115.88 548.85,116.60 549.09,123.42 549.33,120.47 549.56,115.06 549.80,121.89 550.04,115.83 550.28,113.90 550.51,118.76 550.83,69.15 551.13,65.57 551.43,61.95 551.66,59.96 551.90,59.02 552.14,62.78 552.37,65.07 552.61,62.17 552.85,62.41 553.09,62.01 553.32,60.06 553.56,62.24 553.80,61.36 554.04,60.74 554.27,61.85 554.51,57.03 554.75,60.67 554.99,61.59 555.22,62.34 555.46,63.41 555.70,58.29 555.93,61.38 556.17,64.55 556.41,63.21 556.65,62.10 556.88,62.89 557.12,58.90 557.36,64.72 557.60,60.43 557.83,61.32 558.07,64.73 558.31,61.55 558.55,61.91 558.78,60.35 559.02,62.82 559.26,60.85 559.49,65.91 559.73,64.43 559.97,59.57 560.21,58.89 560.44,61.63 560.68,63.14 560.92,58.76 561.16,66.93 561.39,63.63 561.63,59.80 561.87,59.84 562.11,64.20 562.34,66.37 562.58,57.73 562.82,61.10 563.05,63.82 563.29,61.34 563.53,59.13 563.77,68.10 564.00,58.57 564.24,59.52 564.48,66.78 564.72,59.42 564.95,65.99 565.19,58.44 565.43,60.36 565.67,55.53 565.90,62.96 566.14,61.35 566.38,58.64 566.61,63.01 566.85,63.17 567.09,62.30 567.33,61.51 567.56,64.12 567.80,60.04 568.04,59.88 568.28,61.10 568.51,56.85 568.75,61.26 568.93,88.92 569.11,116.79 569.38,117.94 569.66,119.10 569.90,119.95 570.14,115.74 570.38,120.52 570.62,117.17 570.86,124.11 571.09,118.62 571.33,119.59 571.57,120.42 571.81,120.72 572.05,120.05 572.29,121.02 572.53,124.82 572.76,120.71 573.00,120.60 573.24,120.54 573.48,121.92 573.72,119.55 573.96,117.18 574.20,119.86 574.43,120.49 574.67,115.73 574.91,116.71 575.15,116.86 575.39,116.26 575.63,120.09 575.87,119.59 576.10,116.39 576.34,120.69 576.58,119.58 576.82,118.30 577.06,118.32 577.30,120.00 577.54,116.76 577.77,119.76 578.01,117.44 578.25,116.56 578.49,117.62 578.73,117.44 578.97,122.32 579.21,122.72 579.44,120.94 579.68,118.13 579.92,115.49 580.16,122.51 580.40,118.58 580.64,121.58 580.88,121.27 581.11,120.10 581.35,117.61 581.59,118.85 581.83,116.37 582.07,121.95 582.31,117.13 582.55,117.03 582.78,119.25 583.02,118.21 583.26,120.89 583.50,122.26 583.74,120.50 583.98,121.11 584.22,112.02 584.45,120.72 584.69,115.23 584.93,118.96 585.17,118.69 585.41,117.58 585.65,121.51 585.89,117.15 586.12,118.54 586.36,123.43 586.60,117.98 586.84,118.11 587.08,118.37 587.32,115.46 587.56,120.62 587.79,118.24 588.03,117.63 588.27,121.89 588.51,116.48 588.75,123.32 588.99,122.94 589.23,118.25 589.47,122.40 589.70,119.90 589.94,123.85 590.18,119.44 590.42,122.54 590.66,118.75 590.90,123.58 591.14,118.48 591.37,120.33 591.61,119.49 591.85,119.83 592.09,119.33 592.33,123.08 592.57,126.29 592.81,119.60 593.04,122.10 593.28,120.87 593.52,118.60 593.76,124.82 594.00,121.68 594.24,121.29 594.48,122.45 594.71,118.89 594.95,120.10 595.19,121.86 595.43,122.29 595.67,117.68 595.91,121.46 596.15,118.26 596.38,119.77 596.70,69.15 597.00,65.57 597.30,61.95 597.53,60.78 597.77,66.80 598.01,64.75 598.25,61.94 598.49,61.06 598.73,59.92 598.97,59.86 599.21,59.26 599.45,62.92 599.68,62.49 599.92,59.93 600.16,63.05 600.40,59.20 600.64,66.03 600.88,60.25 601.12,62.40 601.36,66.99 601.60,59.40 601.83,61.14 602.07,61.89 602.31,64.73 602.55,63.16 602.79,58.02 603.03,64.10 603.27,70.81 603.51,64.17 603.74,65.04 603.98,62.29 604.22,62.97 604.46,64.31 604.70,64.13 604.94,59.22 605.18,65.66 605.42,56.86 605.66,63.36 605.89,64.77 606.13,59.90 606.37,60.48 606.61,64.64 606.85,60.00 607.09,66.67 607.33,64.34 607.57,59.02 607.81,62.61 608.04,65.30 608.28,60.61 608.52,59.57 608.76,62.01 609.00,66.58 609.24,62.85 609.48,60.86 609.72,59.95 609.96,57.13 610.19,62.60 610.43,63.20 610.67,62.05 610.91,58.81 611.15,64.39 611.39,58.56 611.63,68.97 611.87,59.88 612.10,63.70 612.34,60.75 612.58,60.16 612.82,65.00 613.06,62.17 613.30,61.32 613.54,60.42 613.78,64.36 614.02,64.51 614.25,66.88 614.49,55.35 614.73,62.45 614.97,62.53 615.21,65.79 615.45,59.53 615.69,63.34 615.93,58.22 616.17,59.73 616.40,61.89 616.64,61.95 616.82,90.30 617.00,118.93 617.28,120.03 617.56,121.13 617.79,119.26 618.03,124.01 618.27,121.99 618.50,122.64 618.74,124.43 618.98,121.12 619.21,121.55 619.45,117.48 619.69,129.83 619.92,122.93 620.16,123.57 620.40,122.40 620.63,120.13 620.87,120.18 621.11,121.15 621.34,122.45 621.58,119.96 621.82,120.32 622.05,126.00 622.29,121.93 622.53,124.81 622.76,124.32 623.00,120.90 623.24,121.13 623.47,121.00 623.71,123.55 623.95,121.82 624.18,123.66 624.42,120.33 624.66,119.55 624.89,116.81 625.13,118.07 625.37,123.42 625.60,122.53 625.84,123.77 626.08,120.57 626.31,116.26 626.55,119.55 626.79,127.05 627.03,124.63 627.26,124.72 627.50,120.07 627.74,121.40 627.97,120.64 628.21,116.83 628.45,123.56 628.68,123.61 628.92,116.37 629.16,120.56 629.39,123.46 629.63,126.68 629.87,125.39 630.10,127.77 630.34,121.30 630.58,121.37 630.81,118.93 631.05,121.85 631.29,123.29 631.52,123.42 631.76,116.62 632.00,126.07 632.23,121.08 632.47,121.47 632.71,119.95 632.94,122.59 633.18,120.27 633.42,119.46 633.65,121.94 633.89,122.75 634.13,122.06 634.36,124.07 634.60,122.13 634.84,122.37 635.07,121.06 635.31,118.17 635.55,118.25 635.79,122.77 636.02,120.08 636.26,120.88 636.50,119.68 636.73,121.59 636.97,120.97 637.21,122.87 637.44,123.69 637.68,119.43 637.92,118.33 638.15,119.98 638.39,120.57 638.63,121.01 638.86,122.87 639.10,126.31 639.34,120.01 639.57,121.21 639.81,123.16 640.05,124.22 640.28,118.45 640.52,126.40 640.76,117.22 640.99,120.12 641.23,115.66 641.47,123.63 641.70,121.84 641.94,123.09 642.18,121.40 642.41,122.34 642.65,121.81 642.97,69.77 643.27,66.22 643.56,62.63 643.80,64.55 644.04,59.82 644.28,64.63 644.52,63.91 644.76,61.14 645.00,63.97 645.24,63.69 645.48,61.63 645.71,63.50 645.95,65.73 646.19,62.79 646.43,63.08 646.67,58.07 646.91,65.31 647.15,59.96 647.39,64.50 647.63,63.39 647.87,63.30 648.10,61.74 648.34,60.19 648.58,57.88 648.82,64.07 649.06,58.95 649.30,59.81 649.54,60.27 649.78,64.34 650.02,60.02 650.26,62.63 650.49,61.43 650.73,63.03 650.97,60.60 651.21,59.42 651.45,59.37 651.69,62.83 651.93,59.70 652.17,58.50 652.41,64.68 652.65,58.43 652.88,65.68 653.12,60.82 653.36,60.68 653.60,58.36 653.84,61.48 654.08,63.45 654.32,64.25 654.56,65.39 654.80,60.18 655.04,62.77 655.28,64.01 655.51,60.75 655.75,64.11 655.99,63.25 656.23,63.30 656.47,57.80 656.71,58.28 656.95,62.49 657.19,66.10 657.43,61.34 657.67,61.86 657.90,61.13 658.14,60.56 658.38,62.85 658.62,59.60 658.86,59.82 659.10,61.44 659.34,63.03 659.58,63.22 659.82,60.16 660.06,61.95" fill="none" stroke="#2ea3d5" stroke-width="1.2" stroke-linejoin="round" stroke-linecap="round" opacity="1.0"/>
<line x1="475.1" y1="156.2" x2="489.9" y2="156.2" stroke="#6f98c0" stroke-width="1.2"/>
<text x="492.00" y="159.40" text-anchor="start" font-family="'Liberation Sans', 'DejaVu Sans', sans-serif" font-size="7.6" fill="#333" font-weight="normal" stroke="#333" stroke-width="0.15" textLength="34.7" lengthAdjust="spacingAndGlyphs">O2. Ряд 1</text>
<line x1="575" y1="156.6" x2="589.8" y2="156.6" stroke="#3aa6d6" stroke-width="1.2"/>
<text x="591.00" y="159.80" text-anchor="start" font-family="'Liberation Sans', 'DejaVu Sans', sans-serif" font-size="7.6" fill="#333" font-weight="normal" stroke="#333" stroke-width="0.15" textLength="35.5" lengthAdjust="spacingAndGlyphs">O2. Ряд 1</text>
<text x="548.40" y="191.00" text-anchor="middle" font-family="'Liberation Sans', 'DejaVu Sans', sans-serif" font-size="8.6" fill="#595959" font-weight="normal" textLength="33" lengthAdjust="spacingAndGlyphs">Время, с</text>
<line x1="54.40" y1="304.50" x2="313.00" y2="304.50" stroke="#e0e0e0" stroke-width="1"/>
<line x1="54.40" y1="271.40" x2="313.00" y2="271.40" stroke="#e0e0e0" stroke-width="1"/>
<line x1="54.40" y1="236.50" x2="313.00" y2="236.50" stroke="#e0e0e0" stroke-width="1"/>
<line x1="54.40" y1="203.70" x2="313.00" y2="203.70" stroke="#e0e0e0" stroke-width="1"/>
<line x1="74.29" y1="203.70" x2="74.29" y2="338.20" stroke="#e0e0e0" stroke-width="1"/>
<line x1="94.18" y1="203.70" x2="94.18" y2="338.20" stroke="#e0e0e0" stroke-width="1"/>
<line x1="114.08" y1="203.70" x2="114.08" y2="338.20" stroke="#e0e0e0" stroke-width="1"/>
<line x1="133.97" y1="203.70" x2="133.97" y2="338.20" stroke="#e0e0e0" stroke-width="1"/>
<line x1="153.86" y1="203.70" x2="153.86" y2="338.20" stroke="#e0e0e0" stroke-width="1"/>
<line x1="173.75" y1="203.70" x2="173.75" y2="338.20" stroke="#e0e0e0" stroke-width="1"/>
<line x1="193.65" y1="203.70" x2="193.65" y2="338.20" stroke="#e0e0e0" stroke-width="1"/>
<line x1="213.54" y1="203.70" x2="213.54" y2="338.20" stroke="#e0e0e0" stroke-width="1"/>
<line x1="233.43" y1="203.70" x2="233.43" y2="338.20" stroke="#e0e0e0" stroke-width="1"/>
<line x1="253.32" y1="203.70" x2="253.32" y2="338.20" stroke="#e0e0e0" stroke-width="1"/>
<line x1="273.22" y1="203.70" x2="273.22" y2="338.20" stroke="#e0e0e0" stroke-width="1"/>
<line x1="293.11" y1="203.70" x2="293.11" y2="338.20" stroke="#e0e0e0" stroke-width="1"/>
<line x1="313.00" y1="203.70" x2="313.00" y2="338.20" stroke="#e0e0e0" stroke-width="1"/>
<line x1="54.40" y1="203.70" x2="54.40" y2="338.20" stroke="#d0d0d0" stroke-width="1"/>
<line x1="54.40" y1="338.20" x2="313.00" y2="338.20" stroke="#d0d0d0" stroke-width="1"/>
<text x="46.40" y="341.20" text-anchor="end" font-family="'Liberation Sans', 'DejaVu Sans', sans-serif" font-size="8.6" fill="#595959">0</text>
<text x="46.40" y="307.50" text-anchor="end" font-family="'Liberation Sans', 'DejaVu Sans', sans-serif" font-size="8.6" fill="#595959">20</text>
<text x="46.40" y="274.40" text-anchor="end" font-family="'Liberation Sans', 'DejaVu Sans', sans-serif" font-size="8.6" fill="#595959">40</text>
<text x="46.40" y="239.50" text-anchor="end" font-family="'Liberation Sans', 'DejaVu Sans', sans-serif" font-size="8.6" fill="#595959">60</text>
<text x="46.40" y="206.70" text-anchor="end" font-family="'Liberation Sans', 'DejaVu Sans', sans-serif" font-size="8.6" fill="#595959">80</text>
<text x="54.40" y="353.90" text-anchor="middle" font-family="'Liberation Sans', 'DejaVu Sans', sans-serif" font-size="8.6" fill="#595959">0</text>
<text x="74.29" y="353.90" text-anchor="middle" font-family="'Liberation Sans', 'DejaVu Sans', sans-serif" font-size="8.6" fill="#595959">50</text>
<text x="94.18" y="353.90" text-anchor="middle" font-family="'Liberation Sans', 'DejaVu Sans', sans-serif" font-size="8.6" fill="#595959">100</text>
<text x="114.08" y="353.90" text-anchor="middle" font-family="'Liberation Sans', 'DejaVu Sans', sans-serif" font-size="8.6" fill="#595959">150</text>
<text x="133.97" y="353.90" text-anchor="middle" font-family="'Liberation Sans', 'DejaVu Sans', sans-serif" font-size="8.6" fill="#595959">200</text>
<text x="153.86" y="353.90" text-anchor="middle" font-family="'Liberation Sans', 'DejaVu Sans', sans-serif" font-size="8.6" fill="#595959">250</text>
<text x="173.75" y="353.90" text-anchor="middle" font-family="'Liberation Sans', 'DejaVu Sans', sans-serif" font-size="8.6" fill="#595959">300</text>
<text x="193.65" y="353.90" text-anchor="middle" font-family="'Liberation Sans', 'DejaVu Sans', sans-serif" font-size="8.6" fill="#595959">350</text>
<text x="213.54" y="353.90" text-anchor="middle" font-family="'Liberation Sans', 'DejaVu Sans', sans-serif" font-size="8.6" fill="#595959">400</text>
<text x="233.43" y="353.90" text-anchor="middle" font-family="'Liberation Sans', 'DejaVu Sans', sans-serif" font-size="8.6" fill="#595959">450</text>
<text x="253.32" y="353.90" text-anchor="middle" font-family="'Liberation Sans', 'DejaVu Sans', sans-serif" font-size="8.6" fill="#595959">500</text>
<text x="273.22" y="353.90" text-anchor="middle" font-family="'Liberation Sans', 'DejaVu Sans', sans-serif" font-size="8.6" fill="#595959">550</text>
<text x="293.11" y="353.90" text-anchor="middle" font-family="'Liberation Sans', 'DejaVu Sans', sans-serif" font-size="8.6" fill="#595959">600</text>
<text x="313.00" y="353.90" text-anchor="middle" font-family="'Liberation Sans', 'DejaVu Sans', sans-serif" font-size="8.6" fill="#595959">650</text>
<rect x="137" y="204.2" width="88" height="9" fill="#fff"/>
<text x="138.8" y="210.2" font-family="'Liberation Sans', 'DejaVu Sans', sans-serif" font-size="7.8" fill="#595959" stroke="#595959" stroke-width="0.15" textLength="85" lengthAdjust="spacingAndGlyphs">Содержание <tspan font-weight="bold" fill="#2e3a9e">THC</tspan> в ОГ</text>
<polyline points="84.95,338.20 85.11,327.15 85.47,326.46 85.83,325.76 86.19,325.07 86.52,324.96 86.85,324.84 87.18,324.73 87.51,324.61 87.85,324.50 88.18,324.38 88.50,324.64 88.82,324.56 89.14,324.73 89.46,324.91 89.78,324.65 90.10,324.83 90.42,324.89 90.74,324.82 91.06,325.30 91.38,325.13 91.70,325.14 92.02,325.13 92.34,325.52 92.66,325.29 92.98,325.45 93.30,325.33 93.62,325.44 93.95,325.61 94.27,325.42 94.59,325.85 94.91,326.00 95.23,326.06 95.55,326.23 95.87,326.15 96.19,326.54 96.51,326.31 96.83,326.30 97.15,326.27 97.47,326.57 97.79,326.35 98.11,326.77 98.43,326.76 98.75,327.13 99.07,327.01 99.39,327.09 99.71,326.78 100.03,327.02 100.35,327.36 100.67,327.16 101.00,327.24 101.32,327.44 101.64,327.47 101.96,327.59 102.28,327.71 102.60,327.98 102.92,327.78 103.24,327.63 103.56,327.68 103.88,328.03 104.20,328.18 104.52,328.17 104.84,328.06 105.16,328.22 105.48,328.45 105.80,328.43 105.92,338.20" fill="none" stroke="#3c9ad2" stroke-width="1.0" stroke-linejoin="round" stroke-linecap="round" opacity="1.0"/>
<polyline points="132.54,338.20 132.70,328.49 133.05,327.89 133.41,327.28 133.77,326.67 134.10,326.57 134.43,326.47 134.76,326.37 135.10,326.27 135.43,326.17 135.76,326.07 136.08,326.00 136.40,326.09 136.72,325.97 137.04,326.11 137.36,326.28 137.68,326.02 138.00,325.90 138.32,326.20 138.64,326.03 138.96,325.86 139.28,326.06 139.60,326.10 139.92,325.66 140.23,325.85 140.55,325.81 140.87,326.13 141.19,325.70 141.51,326.23 141.83,326.04 142.15,325.83 142.47,325.73 142.79,326.09 143.11,326.04 143.43,325.89 143.75,326.24 144.07,325.81 144.39,325.82 144.71,325.98 145.03,325.81 145.35,325.76 145.67,325.83 145.99,325.79 146.31,325.63 146.63,325.95 146.95,325.83 147.27,325.94 147.59,325.68 147.91,325.91 148.23,325.76 148.55,325.81 148.87,325.81 149.19,325.54 149.51,325.83 149.83,325.58 150.14,325.67 150.46,325.58 150.78,325.82 151.10,325.63 151.42,325.65 151.74,325.87 152.06,325.72 152.38,325.78 152.70,325.76 153.02,325.54 153.34,325.86 153.66,326.01 153.98,325.73 154.10,338.20" fill="none" stroke="#3c9ad2" stroke-width="1.0" stroke-linejoin="round" stroke-linecap="round" opacity="1.0"/>
<polyline points="182.63,338.20 182.78,327.69 183.14,327.03 183.50,326.37 183.86,325.71 184.19,325.60 184.52,325.50 184.85,325.39 185.19,325.28 185.52,325.17 185.85,325.06 186.17,325.34 186.48,325.13 186.80,325.16 187.11,325.05 187.43,324.96 187.75,324.77 188.06,325.01 188.38,324.98 188.70,325.18 189.01,324.96 189.33,324.84 189.65,324.84 189.96,325.37 190.28,324.91 190.60,324.80 190.91,324.92 191.23,325.30 191.55,325.11 191.86,324.96 192.18,324.99 192.50,325.19 192.81,325.20 193.13,324.90 193.45,325.27 193.76,324.82 194.08,325.05 194.40,325.01 194.71,325.27 195.03,325.15 195.35,324.95 195.66,325.30 195.98,324.72 196.30,325.28 196.61,325.26 196.93,325.05 197.25,324.98 197.56,324.94 197.88,325.12 198.20,325.09 198.51,325.10 198.83,325.15 199.15,325.47 199.46,324.90 199.78,325.02 200.10,325.03 200.41,325.16 200.73,325.02 201.05,325.06 201.36,325.06 201.48,338.20" fill="none" stroke="#3c9ad2" stroke-width="1.0" stroke-linejoin="round" stroke-linecap="round" opacity="1.0"/>
<polyline points="227.58,338.20 227.74,327.01 228.10,326.31 228.46,325.61 228.82,324.91 229.15,324.80 229.48,324.68 229.81,324.56 230.14,324.45 230.47,324.33 230.80,324.21 231.12,324.24 231.44,324.06 231.75,324.54 232.07,324.23 232.39,324.46 232.70,324.35 233.02,324.07 233.34,324.50 233.65,324.36 233.97,324.45 234.28,324.22 234.60,324.54 234.92,324.67 235.23,324.33 235.55,324.49 235.87,324.49 236.18,324.28 236.50,324.62 236.81,324.55 237.13,324.48 237.45,324.45 237.76,324.61 238.08,324.38 238.40,324.19 238.71,324.64 239.03,324.28 239.34,324.94 239.66,324.39 239.98,324.68 240.29,324.62 240.61,324.71 240.93,324.77 241.24,324.89 241.56,324.76 241.87,324.50 242.19,324.54 242.51,324.80 242.82,324.84 243.14,324.88 243.46,324.98 243.77,324.51 244.09,324.71 244.40,324.81 244.72,324.92 245.04,325.02 245.35,324.66 245.67,324.76 245.99,325.05 246.30,324.75 246.62,325.11 246.93,324.84 247.25,325.11 247.57,325.04 247.88,324.91 248.20,324.93 248.52,324.85 248.83,325.16 249.15,324.79 249.46,325.06 249.58,338.20" fill="none" stroke="#3c9ad2" stroke-width="1.0" stroke-linejoin="round" stroke-linecap="round" opacity="1.0"/>
<polyline points="275.09,338.20 275.24,327.96 275.60,327.31 275.96,326.67 276.32,326.03 276.65,325.93 276.98,325.82 277.31,325.71 277.64,325.61 277.98,325.50 278.31,325.39 278.63,325.16 278.95,325.37 279.27,325.28 279.59,325.47 279.91,325.36 280.23,325.53 280.55,325.29 280.87,325.26 281.19,325.07 281.51,325.12 281.82,325.13 282.14,325.31 282.46,325.27 282.78,325.28 283.10,325.17 283.42,325.51 283.74,325.06 284.06,325.43 284.38,325.24 284.70,325.15 285.02,325.22 285.34,324.86 285.66,325.13 285.98,324.85 286.30,324.90 286.62,325.16 286.94,325.00 287.26,324.84 287.58,325.09 287.90,325.01 288.22,325.10 288.54,324.99 288.86,325.05 289.18,324.96 289.50,324.80 289.82,324.73 290.14,324.92 290.46,324.90 290.78,324.78 291.10,324.95 291.42,325.06 291.74,324.70 292.06,325.02 292.38,324.70 292.70,325.00 293.02,324.53 293.33,324.99 293.65,324.67 293.97,324.55 294.29,324.94 294.61,324.53 294.93,324.89 295.25,325.03 295.57,324.62 295.89,324.72" fill="none" stroke="#3c9ad2" stroke-width="1.0" stroke-linejoin="round" stroke-linecap="round" opacity="1.0"/>
<polyline points="54.40,336.51 54.68,336.24 54.96,336.49 55.24,337.19 55.52,336.35 55.80,336.38 56.08,336.36 56.36,336.28 56.64,336.72 56.92,336.28 57.20,335.46 57.48,335.50 57.76,336.07 58.03,336.14 58.31,335.73 58.59,335.47 58.87,335.53 59.15,336.10 59.43,335.62 59.71,335.58 59.99,335.11 60.27,335.15 60.55,335.32 60.83,335.05 61.11,335.52 61.39,334.85 61.67,335.44 61.95,335.12 62.23,334.91 62.51,335.45 62.79,335.34 63.07,335.63 63.35,334.96 63.63,334.99 63.91,335.03 64.19,334.72 64.47,335.51 64.75,334.79 65.02,334.71 65.30,334.78 65.58,334.39 65.86,334.03 66.14,334.69 66.42,334.81 66.70,334.65 66.98,334.38 67.26,334.17 67.54,334.59 67.82,333.95 68.10,334.55 68.38,333.91 68.66,333.99 68.94,333.93 69.22,333.34 69.50,334.07 69.78,333.99 70.06,333.74 70.34,333.57 70.62,334.23 70.90,333.66 71.18,333.95 71.46,333.46 71.74,333.17 72.01,333.55 72.29,333.55 72.57,333.41 72.85,334.38 73.13,333.13 73.41,333.15 73.69,333.23 73.97,333.37 74.25,333.43 74.53,333.20 74.81,332.71 75.09,333.08 75.37,332.57 75.65,333.79 75.93,333.06 76.21,332.78 76.49,332.82 76.77,333.31 77.05,332.94 77.33,332.27 77.61,333.05 77.89,332.90 78.17,332.89 78.45,332.67 78.72,332.23 79.00,332.20 79.28,333.01 79.56,331.83 79.84,332.45 80.12,332.40 80.40,331.62 80.68,332.14 80.96,332.47 81.24,332.23 81.52,332.21 81.80,332.25 82.08,331.99 82.36,331.55 82.64,331.67 82.92,332.19 83.20,330.79 83.48,331.97 83.76,331.56 84.04,331.54 84.32,331.26 84.60,331.46 84.91,332.47 85.15,319.80 85.41,318.97 85.67,318.15 85.93,317.32 86.19,316.50 86.45,316.29 86.72,316.08 86.98,315.87 87.25,315.66 87.51,315.45 87.78,315.24 88.04,315.03 88.31,314.82 88.57,314.61 88.85,314.75 89.13,314.50 89.41,313.94 89.68,314.68 89.96,315.13 90.24,314.66 90.52,315.09 90.79,314.96 91.07,314.79 91.35,314.76 91.62,315.01 91.90,314.63 92.18,315.03 92.46,315.45 92.73,314.71 93.01,315.17 93.29,314.64 93.56,315.33 93.84,314.92 94.12,315.04 94.40,316.14 94.67,315.74 94.95,315.63 95.23,314.76 95.51,315.96 95.78,314.99 96.06,314.96 96.34,315.19 96.61,315.16 96.89,315.60 97.17,315.46 97.45,315.40 97.72,315.36 98.00,315.28 98.28,315.63 98.55,315.84 98.83,315.82 99.11,315.50 99.39,316.26 99.66,316.14 99.94,315.87 100.22,315.95 100.49,315.87 100.77,316.75 101.05,315.95 101.33,315.95 101.60,315.61 101.88,316.62 102.16,316.05 102.44,315.80 102.71,315.82 102.99,315.60 103.27,315.67 103.54,316.45 103.82,315.88 104.10,316.25 104.38,316.45 104.65,315.64 104.93,316.44 105.21,316.54 105.48,316.41 105.76,316.30 106.12,334.49 106.40,334.41 106.68,334.32 106.95,334.57 107.23,333.94 107.51,334.12 107.79,333.76 108.06,334.05 108.34,334.36 108.62,333.79 108.89,334.32 109.17,334.23 109.45,334.10 109.73,334.01 110.00,333.61 110.28,334.16 110.56,333.83 110.83,333.92 111.11,334.29 111.39,334.21 111.67,333.90 111.94,333.67 112.22,333.67 112.50,333.59 112.78,333.70 113.05,333.84 113.33,333.53 113.61,333.96 113.88,334.05 114.16,333.69 114.44,334.02 114.72,333.69 114.99,333.74 115.27,333.65 115.55,333.46 115.82,333.68 116.10,333.53 116.38,333.92 116.66,333.29 116.93,333.59 117.21,333.15 117.49,334.17 117.76,333.49 118.04,333.12 118.32,333.96 118.60,333.26 118.87,333.08 119.15,333.05 119.43,333.55 119.71,332.96 119.98,332.96 120.26,333.29 120.54,332.71 120.81,332.94 121.09,332.89 121.37,333.01 121.65,332.66 121.92,332.78 122.20,332.42 122.48,332.61 122.75,332.93 123.03,332.78 123.31,332.38 123.59,332.77 123.86,332.50 124.14,332.42 124.42,332.62 124.69,333.30 124.97,332.47 125.25,332.41 125.53,332.41 125.80,332.68 126.08,332.01 126.36,332.42 126.64,332.55 126.91,332.55 127.19,332.17 127.47,332.62 127.74,332.56 128.02,331.56 128.30,331.75 128.58,331.81 128.85,331.68 129.13,331.91 129.41,332.62 129.68,331.65 129.96,331.61 130.24,331.83 130.52,332.60 130.79,331.53 131.07,331.46 131.35,332.04 131.62,331.81 131.90,331.57 132.18,331.80 132.50,332.81 132.74,320.59 132.99,319.80 133.25,319.01 133.51,318.22 133.77,317.43 134.04,317.23 134.30,317.03 134.57,316.83 134.83,316.62 135.10,316.42 135.36,316.22 135.63,316.02 135.89,315.82 136.16,315.62 136.44,315.63 136.71,315.18 136.99,315.53 137.27,315.29 137.55,315.49 137.82,316.03 138.10,315.83 138.38,314.32 138.66,315.33 138.94,314.94 139.21,314.98 139.49,314.75 139.77,315.15 140.05,315.54 140.33,315.30 140.60,315.97 140.88,315.33 141.16,314.92 141.44,316.00 141.71,315.13 141.99,314.88 142.27,314.68 142.55,315.47 142.83,315.35 143.10,315.77 143.38,315.44 143.66,314.86 143.94,314.29 144.22,315.42 144.49,314.49 144.77,314.81 145.05,315.13 145.33,314.14 145.60,315.81 145.88,314.91 146.16,314.78 146.44,314.07 146.72,314.17 146.99,313.98 147.27,314.73 147.55,314.40 147.83,314.25 148.11,314.53 148.38,314.56 148.66,314.74 148.94,314.80 149.22,315.07 149.50,313.91 149.77,314.75 150.05,315.32 150.33,314.45 150.61,314.54 150.88,314.44 151.16,313.83 151.44,314.50 151.72,314.54 152.00,314.69 152.27,314.41 152.55,314.54 152.83,314.28 153.11,313.21 153.39,314.17 153.66,314.60 153.94,314.27 154.30,334.83 154.58,334.75 154.86,334.66 155.14,333.99 155.42,334.31 155.70,334.29 155.97,334.28 156.25,334.21 156.53,334.22 156.81,333.95 157.09,334.04 157.37,333.89 157.65,334.46 157.93,334.27 158.21,334.47 158.49,333.88 158.77,333.88 159.05,334.27 159.33,333.89 159.61,333.19 159.89,333.61 160.17,334.34 160.45,333.97 160.73,333.69 161.01,333.88 161.29,333.70 161.57,333.41 161.85,333.65 162.13,334.08 162.41,333.45 162.69,333.68 162.97,333.58 163.25,333.76 163.53,334.00 163.81,333.92 164.09,333.59 164.37,333.78 164.65,334.29 164.93,332.98 165.21,333.71 165.49,333.53 165.76,333.08 166.04,334.01 166.32,332.74 166.60,333.40 166.88,332.89 167.16,333.23 167.44,332.94 167.72,332.97 168.00,332.96 168.28,333.53 168.56,333.37 168.84,332.87 169.12,332.36 169.40,332.96 169.68,332.57 169.96,332.66 170.24,332.52 170.52,332.31 170.80,333.10 171.08,332.48 171.36,332.59 171.64,332.60 171.92,332.74 172.20,332.68 172.48,332.72 172.76,332.71 173.04,331.49 173.32,331.72 173.60,332.24 173.88,331.96 174.16,332.49 174.44,333.05 174.72,332.70 175.00,332.02 175.27,331.55 175.55,332.00 175.83,332.28 176.11,332.00 176.39,332.21 176.67,332.30 176.95,331.89 177.23,331.90 177.51,332.00 177.79,331.99 178.07,331.97 178.35,331.55 178.63,331.13 178.91,331.63 179.19,330.79 179.47,332.02 179.75,331.36 180.03,331.79 180.31,331.43 180.59,331.31 180.87,331.12 181.15,330.90 181.43,331.41 181.71,331.60 181.99,331.22 182.27,331.12 182.59,332.13 182.82,319.27 183.08,318.42 183.34,317.58 183.60,316.73 183.86,315.88 184.12,315.66 184.39,315.45 184.65,315.23 184.92,315.01 185.19,314.80 185.45,314.58 185.72,314.37 185.98,314.15 186.25,313.94 186.53,313.82 186.80,314.18 187.08,313.59 187.36,313.30 187.64,314.42 187.92,313.77 188.20,313.53 188.48,314.58 188.76,313.81 189.04,313.96 189.32,314.38 189.60,313.39 189.88,313.78 190.16,314.02 190.43,313.68 190.71,313.60 190.99,313.55 191.27,313.61 191.55,313.67 191.83,314.24 192.11,313.96 192.39,313.75 192.67,314.79 192.95,313.02 193.23,313.92 193.51,314.15 193.79,314.42 194.06,313.67 194.34,313.74 194.62,313.96 194.90,313.89 195.18,314.06 195.46,314.00 195.74,313.76 196.02,313.95 196.30,313.47 196.58,313.76 196.86,313.65 197.14,313.55 197.42,313.23 197.69,313.46 197.97,313.59 198.25,313.73 198.53,313.95 198.81,313.78 199.09,313.40 199.37,313.56 199.65,313.78 199.93,314.11 200.21,314.18 200.49,313.50 200.77,313.24 201.05,313.47 201.32,313.60 201.68,334.83 201.96,334.75 202.24,334.66 202.52,335.07 202.79,334.64 203.07,334.45 203.35,334.78 203.63,334.32 203.91,334.46 204.18,334.62 204.46,334.71 204.74,333.99 205.02,334.10 205.29,334.46 205.57,334.46 205.85,333.79 206.13,333.84 206.40,334.09 206.68,333.42 206.96,333.99 207.24,334.20 207.51,333.45 207.79,333.82 208.07,333.60 208.35,333.66 208.62,333.96 208.90,333.97 209.18,333.60 209.46,333.03 209.74,333.78 210.01,332.96 210.29,333.29 210.57,333.68 210.85,333.18 211.12,333.04 211.40,333.47 211.68,333.83 211.96,332.97 212.23,333.41 212.51,332.85 212.79,333.58 213.07,332.96 213.34,333.13 213.62,333.30 213.90,332.85 214.18,332.67 214.45,332.87 214.73,333.03 215.01,332.52 215.29,333.12 215.56,332.33 215.84,332.30 216.12,331.86 216.40,332.08 216.68,332.21 216.95,332.19 217.23,332.23 217.51,332.62 217.79,331.67 218.06,331.93 218.34,332.15 218.62,332.39 218.90,331.48 219.17,331.75 219.45,332.26 219.73,331.61 220.01,331.16 220.28,331.75 220.56,331.56 220.84,331.79 221.12,331.81 221.39,331.21 221.67,330.51 221.95,331.43 222.23,331.47 222.51,331.12 222.78,331.44 223.06,331.05 223.34,330.98 223.62,331.53 223.89,331.51 224.17,331.14 224.45,330.79 224.73,330.93 225.00,330.57 225.28,331.38 225.56,330.73 225.84,331.05 226.11,330.76 226.39,330.65 226.67,331.02 226.95,330.74 227.22,330.62 227.54,331.63 227.78,318.88 228.04,318.01 228.30,317.15 228.56,316.28 228.82,315.41 229.08,315.19 229.35,314.97 229.61,314.75 229.88,314.53 230.14,314.31 230.41,314.09 230.67,313.87 230.94,313.65 231.20,313.43 231.48,313.85 231.76,313.33 232.04,313.73 232.32,313.60 232.60,313.34 232.88,313.65 233.17,313.00 233.45,313.64 233.73,313.10 234.01,313.30 234.29,313.77 234.57,313.48 234.85,313.70 235.13,313.52 235.41,313.49 235.69,312.74 235.97,313.54 236.25,312.82 236.53,313.22 236.81,313.85 237.09,314.21 237.37,313.13 237.65,314.09 237.93,313.11 238.21,313.00 238.49,313.22 238.77,313.44 239.05,313.45 239.33,313.26 239.61,313.46 239.89,313.54 240.17,313.48 240.45,312.92 240.73,313.57 241.01,313.20 241.29,313.75 241.57,313.59 241.86,313.83 242.14,313.40 242.42,313.08 242.70,313.21 242.98,313.50 243.26,313.10 243.54,313.44 243.82,313.18 244.10,313.21 244.38,313.11 244.66,314.20 244.94,313.77 245.22,313.02 245.50,313.34 245.78,312.49 246.06,313.38 246.34,313.49 246.62,312.75 246.90,313.09 247.18,312.60 247.46,313.10 247.74,313.35 248.02,313.02 248.30,313.55 248.58,313.43 248.86,313.47 249.14,313.34 249.42,313.26 249.78,334.49 250.06,334.41 250.34,334.32 250.62,334.03 250.89,334.39 251.17,334.09 251.45,334.31 251.72,333.82 252.00,334.96 252.28,334.08 252.56,333.92 252.83,334.28 253.11,333.55 253.39,333.77 253.66,333.38 253.94,333.44 254.22,333.50 254.50,333.71 254.77,333.97 255.05,333.65 255.33,333.68 255.60,333.41 255.88,333.60 256.16,332.40 256.44,333.88 256.71,332.93 256.99,333.42 257.27,333.30 257.54,332.88 257.82,333.13 258.10,333.49 258.38,332.91 258.65,333.07 258.93,333.63 259.21,332.85 259.48,333.21 259.76,333.07 260.04,332.63 260.32,332.64 260.59,332.79 260.87,331.94 261.15,332.47 261.42,332.76 261.70,332.44 261.98,332.51 262.26,333.15 262.53,332.90 262.81,332.80 263.09,331.63 263.36,332.31 263.64,332.30 263.92,332.35 264.20,331.80 264.47,332.07 264.75,331.48 265.03,331.73 265.30,331.41 265.58,331.94 265.86,331.74 266.14,331.96 266.41,331.83 266.69,332.29 266.97,331.87 267.24,331.95 267.52,331.81 267.80,331.15 268.08,331.42 268.35,331.06 268.63,331.14 268.91,331.07 269.18,331.00 269.46,331.48 269.74,330.98 270.02,331.30 270.29,331.33 270.57,330.72 270.85,330.36 271.12,331.34 271.40,330.41 271.68,330.66 271.96,331.16 272.23,330.76 272.51,330.68 272.79,330.64 273.06,330.83 273.34,331.09 273.62,330.62 273.90,330.30 274.17,330.28 274.45,330.28 274.73,330.45 275.05,331.46 275.28,319.80 275.54,318.97 275.80,318.15 276.06,317.32 276.32,316.50 276.58,316.29 276.85,316.08 277.11,315.87 277.38,315.66 277.64,315.45 277.91,315.24 278.18,315.03 278.44,314.82 278.71,314.61 278.98,314.17 279.26,314.88 279.54,314.49 279.81,314.31 280.09,314.04 280.37,314.29 280.65,314.12 280.92,314.21 281.20,313.47 281.48,314.95 281.75,314.14 282.03,313.20 282.31,313.96 282.59,314.66 282.86,313.91 283.14,314.43 283.42,314.11 283.70,313.75 283.97,313.17 284.25,313.58 284.53,313.46 284.80,313.29 285.08,313.54 285.36,313.87 285.64,313.56 285.91,313.36 286.19,313.53 286.47,313.63 286.74,313.48 287.02,313.84 287.30,313.63 287.58,313.25 287.85,313.30 288.13,313.12 288.41,312.59 288.69,312.94 288.96,313.01 289.24,313.38 289.52,313.30 289.79,312.74 290.07,313.14 290.35,312.63 290.63,313.12 290.90,312.65 291.18,312.68 291.46,312.25 291.73,312.71 292.01,312.66 292.29,312.39 292.57,312.42 292.84,311.79 293.12,312.44 293.40,312.50 293.67,312.38 293.95,312.05 294.23,312.09 294.51,311.88 294.78,312.58 295.06,311.16 295.34,311.34 295.62,311.97 295.89,311.91" fill="none" stroke="#30409e" stroke-width="1.2" stroke-linejoin="round" stroke-linecap="round" opacity="1.0"/>
<line x1="126.5" y1="226.5" x2="141.7" y2="226.5" stroke="#9dc8e0" stroke-width="1.1"/>
<text x="144.00" y="228.80" text-anchor="start" font-family="'Liberation Sans', 'DejaVu Sans', sans-serif" font-size="7.8" fill="#333" font-weight="normal" stroke="#333" stroke-width="0.15" textLength="39.8" lengthAdjust="spacingAndGlyphs">THC. Ряд 2</text>
<line x1="126.5" y1="243.7" x2="141.7" y2="243.7" stroke="#5a5ab5" stroke-width="1.1"/>
<text x="144.00" y="246.00" text-anchor="start" font-family="'Liberation Sans', 'DejaVu Sans', sans-serif" font-size="7.8" fill="#333" font-weight="normal" stroke="#333" stroke-width="0.15" textLength="39.8" lengthAdjust="spacingAndGlyphs">THC. Ряд 1</text>
<text x="183.90" y="363.90" text-anchor="middle" font-family="'Liberation Sans', 'DejaVu Sans', sans-serif" font-size="8.6" fill="#595959" font-weight="normal" textLength="33" lengthAdjust="spacingAndGlyphs">Время, с</text>
<line x1="418.20" y1="322.40" x2="676.00" y2="322.40" stroke="#e4e4e4" stroke-width="1"/>
<line x1="418.20" y1="303.40" x2="676.00" y2="303.40" stroke="#e4e4e4" stroke-width="1"/>
<line x1="418.20" y1="284.30" x2="676.00" y2="284.30" stroke="#e4e4e4" stroke-width="1"/>
<line x1="418.20" y1="264.40" x2="676.00" y2="264.40" stroke="#e4e4e4" stroke-width="1"/>
<line x1="418.20" y1="245.40" x2="676.00" y2="245.40" stroke="#e4e4e4" stroke-width="1"/>
<line x1="418.20" y1="226.10" x2="676.00" y2="226.10" stroke="#e4e4e4" stroke-width="1"/>
<line x1="418.20" y1="206.20" x2="676.00" y2="206.20" stroke="#e4e4e4" stroke-width="1"/>
<line x1="438.03" y1="206.20" x2="438.03" y2="341.30" stroke="#e4e4e4" stroke-width="1"/>
<line x1="457.86" y1="206.20" x2="457.86" y2="341.30" stroke="#e4e4e4" stroke-width="1"/>
<line x1="477.69" y1="206.20" x2="477.69" y2="341.30" stroke="#e4e4e4" stroke-width="1"/>
<line x1="497.52" y1="206.20" x2="497.52" y2="341.30" stroke="#e4e4e4" stroke-width="1"/>
<line x1="517.35" y1="206.20" x2="517.35" y2="341.30" stroke="#e4e4e4" stroke-width="1"/>
<line x1="537.18" y1="206.20" x2="537.18" y2="341.30" stroke="#e4e4e4" stroke-width="1"/>
<line x1="557.02" y1="206.20" x2="557.02" y2="341.30" stroke="#e4e4e4" stroke-width="1"/>
<line x1="576.85" y1="206.20" x2="576.85" y2="341.30" stroke="#e4e4e4" stroke-width="1"/>
<line x1="596.68" y1="206.20" x2="596.68" y2="341.30" stroke="#e4e4e4" stroke-width="1"/>
<line x1="616.51" y1="206.20" x2="616.51" y2="341.30" stroke="#e4e4e4" stroke-width="1"/>
<line x1="636.34" y1="206.20" x2="636.34" y2="341.30" stroke="#e4e4e4" stroke-width="1"/>
<line x1="656.17" y1="206.20" x2="656.17" y2="341.30" stroke="#e4e4e4" stroke-width="1"/>
<line x1="676.00" y1="206.20" x2="676.00" y2="341.30" stroke="#e4e4e4" stroke-width="1"/>
<line x1="418.20" y1="206.20" x2="418.20" y2="341.30" stroke="#d0d0d0" stroke-width="1"/>
<line x1="418.20" y1="341.30" x2="676.00" y2="341.30" stroke="#d0d0d0" stroke-width="1"/>
<text x="410.00" y="344.30" text-anchor="end" font-family="'Liberation Sans', 'DejaVu Sans', sans-serif" font-size="8.6" fill="#595959">0</text>
<text x="410.00" y="325.40" text-anchor="end" font-family="'Liberation Sans', 'DejaVu Sans', sans-serif" font-size="8.6" fill="#595959">200</text>
<text x="410.00" y="306.40" text-anchor="end" font-family="'Liberation Sans', 'DejaVu Sans', sans-serif" font-size="8.6" fill="#595959">400</text>
<text x="410.00" y="287.30" text-anchor="end" font-family="'Liberation Sans', 'DejaVu Sans', sans-serif" font-size="8.6" fill="#595959">600</text>
<text x="410.00" y="267.40" text-anchor="end" font-family="'Liberation Sans', 'DejaVu Sans', sans-serif" font-size="8.6" fill="#595959">800</text>
<text x="410.00" y="248.40" text-anchor="end" font-family="'Liberation Sans', 'DejaVu Sans', sans-serif" font-size="8.6" fill="#595959">1000</text>
<text x="410.00" y="229.10" text-anchor="end" font-family="'Liberation Sans', 'DejaVu Sans', sans-serif" font-size="8.6" fill="#595959">1200</text>
<text x="410.00" y="209.20" text-anchor="end" font-family="'Liberation Sans', 'DejaVu Sans', sans-serif" font-size="8.6" fill="#595959">1400</text>
<text x="418.20" y="357.30" text-anchor="middle" font-family="'Liberation Sans', 'DejaVu Sans', sans-serif" font-size="8.6" fill="#595959">0</text>
<text x="438.03" y="357.30" text-anchor="middle" font-family="'Liberation Sans', 'DejaVu Sans', sans-serif" font-size="8.6" fill="#595959">50</text>
<text x="457.86" y="357.30" text-anchor="middle" font-family="'Liberation Sans', 'DejaVu Sans', sans-serif" font-size="8.6" fill="#595959">100</text>
<text x="477.69" y="357.30" text-anchor="middle" font-family="'Liberation Sans', 'DejaVu Sans', sans-serif" font-size="8.6" fill="#595959">150</text>
<text x="497.52" y="357.30" text-anchor="middle" font-family="'Liberation Sans', 'DejaVu Sans', sans-serif" font-size="8.6" fill="#595959">200</text>
<text x="517.35" y="357.30" text-anchor="middle" font-family="'Liberation Sans', 'DejaVu Sans', sans-serif" font-size="8.6" fill="#595959">250</text>
<text x="537.18" y="357.30" text-anchor="middle" font-family="'Liberation Sans', 'DejaVu Sans', sans-serif" font-size="8.6" fill="#595959">300</text>
<text x="557.02" y="357.30" text-anchor="middle" font-family="'Liberation Sans', 'DejaVu Sans', sans-serif" font-size="8.6" fill="#595959">350</text>
<text x="576.85" y="357.30" text-anchor="middle" font-family="'Liberation Sans', 'DejaVu Sans', sans-serif" font-size="8.6" fill="#595959">400</text>
<text x="596.68" y="357.30" text-anchor="middle" font-family="'Liberation Sans', 'DejaVu Sans', sans-serif" font-size="8.6" fill="#595959">450</text>
<text x="616.51" y="357.30" text-anchor="middle" font-family="'Liberation Sans', 'DejaVu Sans', sans-serif" font-size="8.6" fill="#595959">500</text>
<text x="636.34" y="357.30" text-anchor="middle" font-family="'Liberation Sans', 'DejaVu Sans', sans-serif" font-size="8.6" fill="#595959">550</text>
<text x="656.17" y="357.30" text-anchor="middle" font-family="'Liberation Sans', 'DejaVu Sans', sans-serif" font-size="8.6" fill="#595959">600</text>
<text x="676.00" y="357.30" text-anchor="middle" font-family="'Liberation Sans', 'DejaVu Sans', sans-serif" font-size="8.6" fill="#595959">650</text>
<rect x="500" y="207" width="90" height="9" fill="#fff"/>
<text x="501.5" y="213.5" font-family="'Liberation Sans', 'DejaVu Sans', sans-serif" font-size="8.4" fill="#4a4a4a" stroke="#4a4a4a" stroke-width="0.15" textLength="86.3" lengthAdjust="spacingAndGlyphs">Содержание NOx в ОГ</text>
<polyline points="418.20,341.30 418.30,341.30 418.40,341.30 418.50,341.30 418.60,341.30 418.70,341.30 418.79,341.30 418.89,341.30 418.99,341.30 419.09,341.30 419.19,341.30 419.29,341.30 419.39,341.30 419.49,341.30 419.59,341.30 419.69,341.30 419.79,341.30 419.89,341.30 419.98,341.30 420.08,341.30 420.18,341.30 420.28,341.30 420.38,341.30 420.48,341.30 420.58,341.30 420.68,341.30 420.78,341.30 420.88,341.30 420.98,341.30 421.08,341.30 421.17,341.30 421.27,341.30 421.37,341.30 421.47,341.30 421.57,341.30 421.67,341.30 421.77,341.30 421.87,341.30 421.97,341.30 422.07,341.30 422.17,341.30 422.27,341.30 422.36,341.30 422.46,341.30 422.56,341.30 422.66,341.30 422.76,341.30 422.86,341.30 422.96,341.30 423.06,341.30 423.16,341.30 423.26,341.30 423.36,341.30 423.46,341.30 423.55,341.30 423.65,341.30 423.75,341.30 423.85,341.30 423.95,341.30 424.05,341.30 424.15,341.30 424.25,341.30 424.35,341.30 424.45,341.30 424.55,341.30 424.64,341.30 424.74,341.30 424.84,341.30 424.94,341.30 425.04,341.30 425.14,341.30 425.24,341.30 425.34,341.30 425.44,341.30 425.54,341.30 425.64,341.30 425.74,341.30 425.83,341.30 425.93,341.30 426.03,341.30 426.13,341.30 426.23,341.30 426.33,341.30 426.43,341.30 426.53,341.30 426.63,341.30 426.73,341.30 426.83,341.30 426.93,341.30 427.02,341.30 427.12,341.30 427.22,341.30 427.32,341.30 427.42,341.30 427.52,341.30 427.62,341.30 427.72,341.30 427.82,341.30 427.92,341.30 428.02,341.30 428.12,341.30 428.21,341.30 428.31,341.30 428.41,341.30 428.51,341.30 428.61,341.30 428.71,341.30 428.81,341.30 428.91,341.30 429.01,341.30 429.11,341.30 429.21,341.30 429.31,341.30 429.40,341.30 429.50,341.30 429.60,341.30 429.70,341.30 429.80,341.30 429.90,341.30 430.00,341.30 430.10,341.30 430.20,341.30 430.30,341.30 430.40,341.30 430.50,341.30 430.59,341.30 430.69,341.30 430.79,341.30 430.89,341.30 430.99,341.30 431.09,341.30 431.19,341.30 431.29,341.30 431.39,341.30 431.49,341.30 431.59,341.30 431.68,341.30 431.78,341.30 431.88,341.30 431.98,341.30 432.08,341.30 432.18,341.30 432.28,341.30 432.38,341.30 432.48,341.30 432.58,341.30 432.68,341.30 432.78,341.30 432.87,341.30 432.97,341.30 433.07,341.30 433.17,341.30 433.27,341.30 433.37,341.30 433.47,341.30 433.57,341.30 433.67,341.30 433.77,341.30 433.87,341.30 433.97,341.30 434.06,341.30 434.16,341.30 434.26,341.30 434.36,341.30 434.46,341.30 434.56,341.30 434.66,341.30 434.76,341.30 434.86,341.30 434.96,341.30 435.06,341.30 435.16,341.30 435.25,341.30 435.35,341.30 435.45,341.30 435.55,341.30 435.65,341.30 435.75,341.30 435.85,341.30 435.95,341.30 436.05,341.30 436.15,341.30 436.25,341.30 436.35,341.30 436.44,341.30 436.54,341.30 436.64,341.30 436.74,341.30 436.84,341.30 436.94,341.30 437.04,341.30 437.14,341.30 437.24,341.30 437.34,341.30 437.44,341.30 437.53,341.30 437.63,341.30 437.73,341.30 437.83,341.30 437.93,341.30 438.03,341.30 438.13,341.30 438.23,341.30 438.33,341.30 438.43,341.30 438.53,341.30 438.63,341.30 438.72,341.30 438.82,341.30 438.92,341.30 439.02,341.30 439.12,341.30 439.22,341.30 439.32,341.30 439.42,341.30 439.52,341.30 439.62,341.30 439.72,341.30 439.82,341.30 439.91,341.30 440.01,341.30 440.11,341.30 440.21,341.30 440.31,341.30 440.41,341.30 440.51,341.30 440.61,341.30 440.71,341.30 440.81,341.30 440.91,341.30 441.01,341.30 441.10,341.30 441.20,341.30 441.30,341.30 441.40,341.30 441.50,341.30 441.60,341.30 441.70,341.30 441.80,341.30 441.90,341.30 442.00,341.30 442.10,341.30 442.20,341.30 442.29,341.30 442.39,341.30 442.49,341.30 442.59,341.30 442.69,341.30 442.79,341.30 442.89,341.30 442.99,341.30 443.09,341.30 443.19,341.30 443.29,341.30 443.39,341.30 443.48,341.30 443.58,341.30 443.68,341.30 443.78,341.30 443.88,341.30 443.98,341.30 444.08,341.30 444.18,341.30 444.28,341.30 444.38,341.30 444.48,341.30 444.57,341.30 444.67,341.30 444.77,341.30 444.87,341.30 444.97,341.30 445.07,341.30 445.17,341.30 445.27,341.30 445.37,341.30 445.47,341.30 445.57,341.30 445.67,341.30 445.76,341.30 445.86,341.30 445.96,341.30 446.06,341.30 446.16,341.30 446.26,341.30 446.36,341.30 446.46,341.30 446.56,341.30 446.66,341.30 446.76,341.30 446.86,341.30 446.95,341.30 447.05,341.30 447.15,341.30 447.25,341.30 447.35,341.30 447.45,341.30 447.55,341.30 447.65,341.30 447.75,341.30 447.83,296.43 447.91,250.53 448.01,293.56 448.10,335.63 448.20,336.39 448.29,337.14 448.38,337.90 448.47,338.65 448.57,339.41 448.66,340.17 448.76,340.26 448.86,340.36 448.96,340.45 449.06,340.54 449.16,340.64 449.25,340.73 449.35,340.83 449.45,340.92 449.55,341.02 449.65,341.11 449.75,341.21 449.85,341.30 449.95,341.30 450.05,341.30 450.15,341.30 450.25,341.30 450.34,341.30 450.44,341.30 450.54,341.30 450.64,341.30 450.74,341.30 450.84,341.30 450.94,341.30 451.04,341.30 451.14,341.30 451.24,341.30 451.33,341.30 451.43,341.30 451.53,341.30 451.63,341.30 451.73,341.30 451.83,341.30 451.93,341.30 452.03,341.30 452.13,341.30 452.22,341.30 452.32,341.30 452.42,341.30 452.52,341.30 452.62,341.30 452.72,341.30 452.82,341.30 452.92,341.30 453.02,341.30 453.12,341.30 453.21,341.30 453.31,341.30 453.41,341.30 453.51,341.30 453.61,341.30 453.71,341.30 453.81,341.30 453.91,341.30 454.01,341.30 454.10,341.30 454.20,341.30 454.30,341.30 454.40,341.30 454.50,341.30 454.60,341.30 454.70,341.30 454.80,341.30 454.90,341.30 455.00,341.30 455.09,341.30 455.19,341.30 455.29,341.30 455.39,341.30 455.49,341.30 455.59,341.30 455.69,341.30 455.79,341.30 455.89,341.30 455.98,341.30 456.08,341.30 456.18,341.30 456.28,341.30 456.38,341.30 456.48,341.30 456.58,341.30 456.68,341.30 456.78,341.30 456.88,341.30 456.97,341.30 457.07,341.30 457.17,341.30 457.27,341.30 457.37,341.30 457.47,341.30 457.57,341.30 457.67,341.30 457.77,341.30 457.86,341.30 457.96,341.30 458.06,341.30 458.16,341.30 458.26,341.30 458.36,341.30 458.46,341.30 458.56,341.30 458.66,341.30 458.76,341.30 458.85,341.30 458.95,341.30 459.05,341.30 459.15,341.30 459.25,341.30 459.35,341.30 459.45,341.30 459.55,341.30 459.65,341.30 459.74,341.30 459.84,341.30 459.94,341.30 460.04,341.30 460.14,341.30 460.24,341.30 460.34,341.30 460.44,341.30 460.54,341.30 460.64,341.30 460.73,341.30 460.83,341.30 460.93,341.30 461.03,341.30 461.13,341.30 461.23,341.30 461.33,341.30 461.43,341.30 461.53,341.30 461.62,341.30 461.72,341.30 461.82,341.30 461.92,341.30 462.02,341.30 462.12,341.30 462.22,341.30 462.32,341.30 462.42,341.30 462.52,341.30 462.61,341.30 462.71,341.30 462.81,341.30 462.91,341.30 463.01,341.30 463.11,341.30 463.21,341.30 463.31,341.30 463.41,341.30 463.50,341.30 463.60,341.30 463.70,341.30 463.80,341.30 463.90,341.30 464.00,341.30 464.10,341.30 464.20,341.30 464.30,341.30 464.40,341.30 464.49,341.30 464.59,341.30 464.69,341.30 464.79,341.30 464.89,341.30 464.99,341.30 465.09,341.30 465.19,341.30 465.29,341.30 465.38,341.30 465.48,341.30 465.58,341.30 465.68,341.30 465.78,341.30 465.88,341.30 465.98,341.30 466.08,341.30 466.18,341.30 466.28,341.30 466.37,341.30 466.47,341.30 466.57,341.30 466.67,341.30 466.77,341.30 466.87,341.30 466.97,341.30 467.07,341.30 467.17,341.30 467.27,341.30 467.36,341.30 467.46,341.30 467.56,341.30 467.66,341.30 467.76,341.30 467.86,341.30 467.96,341.30 468.06,341.30 468.16,341.30 468.25,341.30 468.35,341.30 468.45,341.30 468.55,341.30 468.65,341.30 468.75,341.30 468.85,341.30 468.95,341.30 469.05,341.30 469.13,308.15 469.20,274.35 469.30,282.64 469.39,290.67 469.48,298.62 469.57,299.34 469.67,300.06 469.76,300.77 469.85,301.49 469.95,302.21 470.04,302.92 470.16,315.75 470.28,328.54 470.37,329.12 470.47,329.70 470.57,330.27 470.66,330.85 470.76,331.43 470.86,332.01 470.95,332.58 471.05,333.16 471.15,333.74 471.25,334.01 471.35,334.27 471.45,334.54 471.54,334.80 471.64,335.07 471.74,335.33 471.84,335.60 471.94,335.87 472.04,336.13 472.14,336.40 472.24,336.66 472.34,336.93 472.44,337.20 472.54,337.46 472.64,337.73 472.73,337.99 472.83,338.11 472.93,338.23 473.03,338.35 473.13,338.47 473.23,338.58 473.33,338.70 473.43,338.82 473.53,338.94 473.63,339.06 473.73,339.17 473.83,339.29 473.92,339.41 474.02,339.53 474.12,339.65 474.22,339.76 474.32,339.88 474.42,340.00 474.52,340.12 474.62,340.24 474.72,340.36 474.82,340.40 474.92,340.45 475.02,340.50 475.11,340.54 475.21,340.59 475.31,340.64 475.41,340.69 475.51,340.73 475.61,340.78 475.71,340.83 475.81,340.87 475.91,340.92 476.01,340.97 476.11,341.02 476.20,341.06 476.30,341.11 476.40,341.16 476.50,341.21 476.60,341.25 476.70,341.30 476.80,341.30 476.90,341.30 477.00,341.30 477.10,341.30 477.20,341.30 477.29,341.30 477.39,341.30 477.49,341.30 477.59,341.30 477.69,341.30 477.79,341.30 477.89,341.30 477.99,341.30 478.09,341.30 478.18,341.30 478.28,341.30 478.38,341.30 478.48,341.30 478.58,341.30 478.68,341.30 478.78,341.30 478.88,341.30 478.98,341.30 479.08,341.30 479.17,341.30 479.27,341.30 479.37,341.30 479.47,341.30 479.57,341.30 479.67,341.30 479.77,341.30 479.87,341.30 479.97,341.30 480.06,341.30 480.16,341.30 480.26,341.30 480.36,341.30 480.46,341.30 480.56,341.30 480.66,341.30 480.76,341.30 480.86,341.30 480.96,341.30 481.05,341.30 481.15,341.30 481.25,341.30 481.35,341.30 481.45,341.30 481.55,341.30 481.65,341.30 481.75,341.30 481.85,341.30 481.94,341.30 482.04,341.30 482.14,341.30 482.24,341.30 482.34,341.30 482.44,341.30 482.54,341.30 482.64,341.30 482.74,341.30 482.84,341.30 482.93,341.30 483.03,341.30 483.13,341.30 483.23,341.30 483.33,341.30 483.43,341.30 483.53,341.30 483.63,341.30 483.73,341.30 483.82,341.30 483.92,341.30 484.02,341.30 484.12,341.30 484.22,341.30 484.32,341.30 484.42,341.30 484.52,341.30 484.62,341.30 484.72,341.30 484.81,341.30 484.91,341.30 485.01,341.30 485.11,341.30 485.21,341.30 485.31,341.30 485.41,341.30 485.51,341.30 485.61,341.30 485.70,341.30 485.80,341.30 485.90,341.30 486.00,341.30 486.10,341.30 486.20,341.30 486.30,341.30 486.40,341.30 486.50,341.30 486.60,341.30 486.69,341.30 486.79,341.30 486.89,341.30 486.99,341.30 487.09,341.30 487.19,341.30 487.29,341.30 487.39,341.30 487.49,341.30 487.58,341.30 487.68,341.30 487.78,341.30 487.88,341.30 487.98,341.30 488.08,341.30 488.18,341.30 488.28,341.30 488.38,341.30 488.48,341.30 488.57,341.30 488.67,341.30 488.77,341.30 488.87,341.30 488.97,341.30 489.07,341.30 489.17,341.30 489.27,341.30 489.37,341.30 489.46,341.30 489.56,341.30 489.66,341.30 489.76,341.30 489.86,341.30 489.96,341.30 490.06,341.30 490.16,341.30 490.26,341.30 490.36,341.30 490.45,341.30 490.55,341.30 490.65,341.30 490.75,341.30 490.85,341.30 490.95,341.30 491.05,341.30 491.15,341.30 491.25,341.30 491.34,341.30 491.44,341.30 491.54,341.30 491.64,341.30 491.74,341.30 491.84,341.30 491.94,341.30 492.04,341.30 492.14,341.30 492.24,341.30 492.33,341.30 492.43,341.30 492.53,341.30 492.63,341.30 492.73,341.30 492.83,341.30 492.93,341.30 493.03,341.30 493.13,341.30 493.22,341.30 493.32,341.30 493.42,341.30 493.52,341.30 493.62,341.30 493.72,341.30 493.82,341.30 493.92,341.30 494.02,341.30 494.12,341.30 494.21,341.30 494.31,341.30 494.41,341.30 494.51,341.30 494.61,341.30 494.71,341.30 494.81,341.30 494.91,341.30 495.01,341.30 495.10,341.30 495.20,341.30 495.30,341.30 495.40,341.30 495.50,341.30 495.58,294.71 495.66,247.11 495.76,293.28 495.86,338.47 495.95,338.84 496.04,339.22 496.13,339.60 496.23,339.98 496.32,340.36 496.41,340.73 496.51,340.78 496.61,340.83 496.71,340.87 496.81,340.92 496.91,340.97 497.01,341.02 497.11,341.06 497.21,341.11 497.30,341.16 497.40,341.21 497.50,341.25 497.60,341.30 497.70,341.30 497.80,341.30 497.90,341.30 498.00,341.30 498.10,341.30 498.20,341.30 498.30,341.30 498.39,341.30 498.49,341.30 498.59,341.30 498.69,341.30 498.79,341.30 498.89,341.30 498.99,341.30 499.09,341.30 499.19,341.30 499.28,341.30 499.38,341.30 499.48,341.30 499.58,341.30 499.68,341.30 499.78,341.30 499.88,341.30 499.98,341.30 500.08,341.30 500.18,341.30 500.27,341.30 500.37,341.30 500.47,341.30 500.57,341.30 500.67,341.30 500.77,341.30 500.87,341.30 500.97,341.30 501.07,341.30 501.16,341.30 501.26,341.30 501.36,341.30 501.46,341.30 501.56,341.30 501.66,341.30 501.76,341.30 501.86,341.30 501.96,341.30 502.06,341.30 502.15,341.30 502.25,341.30 502.35,341.30 502.45,341.30 502.55,341.30 502.65,341.30 502.75,341.30 502.85,341.30 502.95,341.30 503.04,341.30 503.14,341.30 503.24,341.30 503.34,341.30 503.44,341.30 503.54,341.30 503.64,341.30 503.74,341.30 503.84,341.30 503.94,341.30 504.03,341.30 504.13,341.30 504.23,341.30 504.33,341.30 504.43,341.30 504.53,341.30 504.63,341.30 504.73,341.30 504.83,341.30 504.93,341.30 505.02,341.30 505.12,341.30 505.22,341.30 505.32,341.30 505.42,341.30 505.52,341.30 505.62,341.30 505.72,341.30 505.82,341.30 505.91,341.30 506.01,341.30 506.11,341.30 506.21,341.30 506.31,341.30 506.41,341.30 506.51,341.30 506.61,341.30 506.71,341.30 506.81,341.30 506.90,341.30 507.00,341.30 507.10,341.30 507.20,341.30 507.30,341.30 507.40,341.30 507.50,341.30 507.60,341.30 507.70,341.30 507.79,341.30 507.89,341.30 507.99,341.30 508.09,341.30 508.19,341.30 508.29,341.30 508.39,341.30 508.49,341.30 508.59,341.30 508.69,341.30 508.78,341.30 508.88,341.30 508.98,341.30 509.08,341.30 509.18,341.30 509.28,341.30 509.38,341.30 509.48,341.30 509.58,341.30 509.67,341.30 509.77,341.30 509.87,341.30 509.97,341.30 510.07,341.30 510.17,341.30 510.27,341.30 510.37,341.30 510.47,341.30 510.57,341.30 510.66,341.30 510.76,341.30 510.86,341.30 510.96,341.30 511.06,341.30 511.16,341.30 511.26,341.30 511.36,341.30 511.46,341.30 511.56,341.30 511.65,341.30 511.75,341.30 511.85,341.30 511.95,341.30 512.05,341.30 512.15,341.30 512.25,341.30 512.35,341.30 512.45,341.30 512.54,341.30 512.64,341.30 512.74,341.30 512.84,341.30 512.94,341.30 513.04,341.30 513.14,341.30 513.24,341.30 513.34,341.30 513.44,341.30 513.53,341.30 513.63,341.30 513.73,341.30 513.83,341.30 513.93,341.30 514.03,341.30 514.13,341.30 514.23,341.30 514.33,341.30 514.42,341.30 514.52,341.30 514.62,341.30 514.72,341.30 514.82,341.30 514.92,341.30 515.02,341.30 515.12,341.30 515.22,341.30 515.32,341.30 515.41,341.30 515.51,341.30 515.61,341.30 515.71,341.30 515.81,341.30 515.91,341.30 516.01,341.30 516.11,341.30 516.21,341.30 516.30,341.30 516.40,341.30 516.50,341.30 516.60,341.30 516.70,341.30 516.80,341.30 516.90,341.30 517.00,341.30 517.10,341.30 517.20,341.30 517.29,341.30 517.39,341.30 517.47,296.24 517.55,250.15 517.64,265.23 517.74,280.98 517.83,296.24 517.92,296.99 518.01,297.75 518.11,298.51 518.20,299.26 518.29,300.02 518.39,300.77 518.50,314.32 518.62,327.83 518.72,328.49 518.82,329.15 518.91,329.80 519.01,330.46 519.11,331.12 519.20,331.77 519.30,332.43 519.40,333.08 519.50,333.74 519.59,334.01 519.69,334.27 519.79,334.54 519.89,334.80 519.99,335.07 520.09,335.33 520.19,335.60 520.29,335.87 520.39,336.13 520.49,336.40 520.59,336.66 520.69,336.93 520.78,337.20 520.88,337.46 520.98,337.73 521.08,337.99 521.18,338.11 521.28,338.23 521.38,338.35 521.48,338.47 521.58,338.58 521.68,338.70 521.78,338.82 521.88,338.94 521.97,339.06 522.07,339.17 522.17,339.29 522.27,339.41 522.37,339.53 522.47,339.65 522.57,339.76 522.67,339.88 522.77,340.00 522.87,340.12 522.97,340.24 523.07,340.36 523.16,340.40 523.26,340.45 523.36,340.50 523.46,340.54 523.56,340.59 523.66,340.64 523.76,340.69 523.86,340.73 523.96,340.78 524.06,340.83 524.16,340.87 524.25,340.92 524.35,340.97 524.45,341.02 524.55,341.06 524.65,341.11 524.75,341.16 524.85,341.21 524.95,341.25 525.05,341.30 525.15,341.30 525.25,341.30 525.35,341.30 525.45,341.30 525.54,341.30 525.64,341.30 525.74,341.30 525.84,341.30 525.94,341.30 526.04,341.30 526.14,341.30 526.24,341.30 526.34,341.30 526.44,341.30 526.54,341.30 526.64,341.30 526.74,341.30 526.83,341.30 526.93,341.30 527.03,341.30 527.13,341.30 527.23,341.30 527.33,341.30 527.43,341.30 527.53,341.30 527.63,341.30 527.73,341.30 527.83,341.30 527.93,341.30 528.03,341.30 528.12,341.30 528.22,341.30 528.32,341.30 528.42,341.30 528.52,341.30 528.62,341.30 528.72,341.30 528.82,341.30 528.92,341.30 529.02,341.30 529.12,341.30 529.22,341.30 529.32,341.30 529.42,341.30 529.51,341.30 529.61,341.30 529.71,341.30 529.81,341.30 529.91,341.30 530.01,341.30 530.11,341.30 530.21,341.30 530.31,341.30 530.41,341.30 530.51,341.30 530.61,341.30 530.71,341.30 530.80,341.30 530.90,341.30 531.00,341.30 531.10,341.30 531.20,341.30 531.30,341.30 531.40,341.30 531.50,341.30 531.60,341.30 531.70,341.30 531.80,341.30 531.90,341.30 532.00,341.30 532.09,341.30 532.19,341.30 532.29,341.30 532.39,341.30 532.49,341.30 532.59,341.30 532.69,341.30 532.79,341.30 532.89,341.30 532.99,341.30 533.09,341.30 533.19,341.30 533.29,341.30 533.39,341.30 533.48,341.30 533.58,341.30 533.68,341.30 533.78,341.30 533.88,341.30 533.98,341.30 534.08,341.30 534.18,341.30 534.28,341.30 534.38,341.30 534.48,341.30 534.58,341.30 534.68,341.30 534.77,341.30 534.87,341.30 534.97,341.30 535.07,341.30 535.17,341.30 535.27,341.30 535.37,341.30 535.47,341.30 535.57,341.30 535.67,341.30 535.77,341.30 535.87,341.30 535.97,341.30 536.06,341.30 536.16,341.30 536.26,341.30 536.36,341.30 536.46,341.30 536.56,341.30 536.66,341.30 536.76,341.30 536.86,341.30 536.96,341.30 537.06,341.30 537.16,341.30 537.26,341.30 537.36,341.30 537.45,341.30 537.55,341.30 537.65,341.30 537.75,341.30 537.85,341.30 537.95,341.30 538.05,341.30 538.15,341.30 538.25,341.30 538.35,341.30 538.45,341.30 538.55,341.30 538.65,341.30 538.74,341.30 538.84,341.30 538.94,341.30 539.04,341.30 539.14,341.30 539.24,341.30 539.34,341.30 539.44,341.30 539.54,341.30 539.64,341.30 539.74,341.30 539.84,341.30 539.94,341.30 540.03,341.30 540.13,341.30 540.23,341.30 540.33,341.30 540.43,341.30 540.53,341.30 540.63,341.30 540.73,341.30 540.83,341.30 540.93,341.30 541.03,341.30 541.13,341.30 541.23,341.30 541.32,341.30 541.42,341.30 541.52,341.30 541.62,341.30 541.72,341.30 541.82,341.30 541.92,341.30 542.02,341.30 542.12,341.30 542.22,341.30 542.32,341.30 542.42,341.30 542.52,341.30 542.62,341.30 542.71,341.30 542.81,341.30 542.91,341.30 543.01,341.30 543.11,341.30 543.21,341.30 543.31,341.30 543.41,341.30 543.51,341.30 543.61,341.30 543.71,341.30 543.81,341.30 543.91,341.30 544.00,341.30 544.10,341.30 544.20,341.30 544.30,341.30 544.40,341.30 544.50,341.30 544.60,341.30 544.70,341.30 544.80,341.30 544.90,341.30 545.00,341.30 545.10,341.30 545.20,341.30 545.29,341.30 545.39,341.30 545.49,341.30 545.59,341.30 545.69,341.30 545.79,341.30 545.87,298.62 545.95,254.90 546.04,270.37 546.13,286.21 546.23,301.49 546.32,302.16 546.41,302.83 546.51,303.50 546.60,304.16 546.69,304.82 546.78,305.49 546.90,317.46 547.02,329.39 547.12,329.88 547.21,330.36 547.31,330.84 547.41,331.32 547.51,331.81 547.60,332.29 547.70,332.77 547.80,333.26 547.89,333.74 547.99,334.01 548.09,334.27 548.19,334.54 548.29,334.80 548.39,335.07 548.49,335.33 548.59,335.60 548.69,335.87 548.79,336.13 548.88,336.40 548.98,336.66 549.08,336.93 549.18,337.20 549.28,337.46 549.38,337.73 549.48,337.99 549.58,338.11 549.68,338.23 549.78,338.35 549.88,338.47 549.98,338.58 550.07,338.70 550.17,338.82 550.27,338.94 550.37,339.06 550.47,339.17 550.57,339.29 550.67,339.41 550.77,339.53 550.87,339.65 550.97,339.76 551.07,339.88 551.17,340.00 551.26,340.12 551.36,340.24 551.46,340.36 551.56,340.40 551.66,340.45 551.76,340.50 551.86,340.54 551.96,340.59 552.06,340.64 552.16,340.69 552.26,340.73 552.36,340.78 552.45,340.83 552.55,340.87 552.65,340.92 552.75,340.97 552.85,341.02 552.95,341.06 553.05,341.11 553.15,341.16 553.25,341.21 553.35,341.25 553.45,341.30 553.54,341.30 553.64,341.30 553.74,341.30 553.84,341.30 553.94,341.30 554.04,341.30 554.14,341.30 554.24,341.30 554.34,341.30 554.44,341.30 554.54,341.30 554.64,341.30 554.73,341.30 554.83,341.30 554.93,341.30 555.03,341.30 555.13,341.30 555.23,341.30 555.33,341.30 555.43,341.30 555.53,341.30 555.63,341.30 555.73,341.30 555.83,341.30 555.92,341.30 556.02,341.30 556.12,341.30 556.22,341.30 556.32,341.30 556.42,341.30 556.52,341.30 556.62,341.30 556.72,341.30 556.82,341.30 556.92,341.30 557.02,341.30 557.11,341.30 557.21,341.30 557.31,341.30 557.41,341.30 557.51,341.30 557.61,341.30 557.71,341.30 557.81,341.30 557.91,341.30 558.01,341.30 558.11,341.30 558.21,341.30 558.30,341.30 558.40,341.30 558.50,341.30 558.60,341.30 558.70,341.30 558.80,341.30 558.90,341.30 559.00,341.30 559.10,341.30 559.20,341.30 559.30,341.30 559.40,341.30 559.49,341.30 559.59,341.30 559.69,341.30 559.79,341.30 559.89,341.30 559.99,341.30 560.09,341.30 560.19,341.30 560.29,341.30 560.39,341.30 560.49,341.30 560.58,341.30 560.68,341.30 560.78,341.30 560.88,341.30 560.98,341.30 561.08,341.30 561.18,341.30 561.28,341.30 561.38,341.30 561.48,341.30 561.58,341.30 561.68,341.30 561.77,341.30 561.87,341.30 561.97,341.30 562.07,341.30 562.17,341.30 562.27,341.30 562.37,341.30 562.47,341.30 562.57,341.30 562.67,341.30 562.77,341.30 562.87,341.30 562.96,341.30 563.06,341.30 563.16,341.30 563.26,341.30 563.36,341.30 563.46,341.30 563.56,341.30 563.66,341.30 563.76,341.30 563.86,341.30 563.96,341.30 564.06,341.30 564.15,341.30 564.25,341.30 564.35,341.30 564.43,301.01 564.51,259.65 564.60,266.06 564.70,272.69 564.79,279.32 564.88,280.40 564.97,281.48 565.07,282.56 565.16,283.64 565.25,284.70 565.34,285.73 565.46,304.35 565.58,322.87 565.68,324.08 565.78,325.29 565.87,326.50 565.97,327.70 566.07,328.91 566.16,330.12 566.26,331.32 566.36,332.53 566.45,333.74 566.55,334.01 566.65,334.27 566.75,334.54 566.85,334.80 566.95,335.07 567.05,335.33 567.15,335.60 567.25,335.87 567.35,336.13 567.45,336.40 567.55,336.66 567.64,336.93 567.74,337.20 567.84,337.46 567.94,337.73 568.04,337.99 568.14,338.11 568.24,338.23 568.34,338.35 568.44,338.47 568.54,338.58 568.64,338.70 568.74,338.82 568.83,338.94 568.93,339.06 569.03,339.17 569.13,339.29 569.23,339.41 569.33,339.53 569.43,339.65 569.53,339.76 569.63,339.88 569.73,340.00 569.83,340.12 569.93,340.24 570.02,340.36 570.12,340.40 570.22,340.45 570.32,340.50 570.42,340.54 570.52,340.59 570.62,340.64 570.72,340.69 570.82,340.73 570.92,340.78 571.02,340.83 571.12,340.87 571.21,340.92 571.31,340.97 571.41,341.02 571.51,341.06 571.61,341.11 571.71,341.16 571.81,341.21 571.91,341.25 572.01,341.30 572.11,341.30 572.21,341.30 572.30,341.30 572.40,341.30 572.50,341.30 572.60,341.30 572.70,341.30 572.80,341.30 572.90,341.30 573.00,341.30 573.10,341.30 573.19,341.30 573.29,341.30 573.39,341.30 573.49,341.30 573.59,341.30 573.69,341.30 573.79,341.30 573.89,341.30 573.99,341.30 574.09,341.30 574.18,341.30 574.28,341.30 574.38,341.30 574.48,341.30 574.58,341.30 574.68,341.30 574.78,341.30 574.88,341.30 574.98,341.30 575.07,341.30 575.17,341.30 575.27,341.30 575.37,341.30 575.47,341.30 575.57,341.30 575.67,341.30 575.77,341.30 575.87,341.30 575.97,341.30 576.06,341.30 576.16,341.30 576.26,341.30 576.36,341.30 576.46,341.30 576.56,341.30 576.66,341.30 576.76,341.30 576.86,341.30 576.95,341.30 577.05,341.30 577.15,341.30 577.25,341.30 577.35,341.30 577.45,341.30 577.55,341.30 577.65,341.30 577.75,341.30 577.85,341.30 577.94,341.30 578.04,341.30 578.14,341.30 578.24,341.30 578.34,341.30 578.44,341.30 578.54,341.30 578.64,341.30 578.74,341.30 578.83,341.30 578.93,341.30 579.03,341.30 579.13,341.30 579.23,341.30 579.33,341.30 579.43,341.30 579.53,341.30 579.63,341.30 579.73,341.30 579.82,341.30 579.92,341.30 580.02,341.30 580.12,341.30 580.22,341.30 580.32,341.30 580.42,341.30 580.52,341.30 580.62,341.30 580.71,341.30 580.81,341.30 580.91,341.30 581.01,341.30 581.11,341.30 581.21,341.30 581.31,341.30 581.41,341.30 581.51,341.30 581.61,341.30 581.70,341.30 581.80,341.30 581.90,341.30 582.00,341.30 582.10,341.30 582.20,341.30 582.30,341.30 582.40,341.30 582.50,341.30 582.59,341.30 582.69,341.30 582.79,341.30 582.89,341.30 582.99,341.30 583.09,341.30 583.19,341.30 583.29,341.30 583.39,341.30 583.49,341.30 583.58,341.30 583.68,341.30 583.78,341.30 583.88,341.30 583.98,341.30 584.08,341.30 584.18,341.30 584.28,341.30 584.38,341.30 584.47,341.30 584.57,341.30 584.67,341.30 584.77,341.30 584.87,341.30 584.97,341.30 585.07,341.30 585.17,341.30 585.27,341.30 585.37,341.30 585.46,341.30 585.56,341.30 585.66,341.30 585.76,341.30 585.86,341.30 585.96,341.30 586.06,341.30 586.16,341.30 586.26,341.30 586.35,341.30 586.45,341.30 586.55,341.30 586.65,341.30 586.75,341.30 586.85,341.30 586.95,341.30 587.05,341.30 587.15,341.30 587.24,341.30 587.34,341.30 587.44,341.30 587.54,341.30 587.64,341.30 587.74,341.30 587.84,341.30 587.94,341.30 588.04,341.30 588.14,341.30 588.23,341.30 588.33,341.30 588.43,341.30 588.53,341.30 588.63,341.30 588.73,341.30 588.83,341.30 588.93,341.30 589.03,341.30 589.12,341.30 589.22,341.30 589.32,341.30 589.42,341.30 589.52,341.30 589.62,341.30 589.72,341.30 589.82,341.30 589.92,341.30 590.02,341.30 590.11,341.30 590.21,341.30 590.31,341.30 590.41,341.30 590.51,341.30 590.61,341.30 590.71,341.30 590.81,341.30 590.89,298.62 590.97,254.90 591.06,279.32 591.15,303.40 591.24,327.12 591.34,327.36 591.43,327.60 591.52,327.83 591.61,328.07 591.71,328.31 591.80,328.54 591.92,332.80 592.04,337.05 592.13,336.68 592.23,336.31 592.33,335.94 592.42,335.58 592.52,335.21 592.62,334.84 592.72,334.48 592.81,334.11 592.91,333.74 593.01,334.01 593.11,334.27 593.21,334.54 593.31,334.80 593.40,335.07 593.50,335.33 593.60,335.60 593.70,335.87 593.80,336.13 593.90,336.40 594.00,336.66 594.10,336.93 594.20,337.20 594.30,337.46 594.40,337.73 594.50,337.99 594.59,338.11 594.69,338.23 594.79,338.35 594.89,338.47 594.99,338.58 595.09,338.70 595.19,338.82 595.29,338.94 595.39,339.06 595.49,339.17 595.59,339.29 595.69,339.41 595.78,339.53 595.88,339.65 595.98,339.76 596.08,339.88 596.18,340.00 596.28,340.12 596.38,340.24 596.48,340.36 596.58,340.40 596.68,340.45 596.78,340.50 596.88,340.54 596.97,340.59 597.07,340.64 597.17,340.69 597.27,340.73 597.37,340.78 597.47,340.83 597.57,340.87 597.67,340.92 597.77,340.97 597.87,341.02 597.97,341.06 598.07,341.11 598.16,341.16 598.26,341.21 598.36,341.25 598.46,341.30 598.56,341.30 598.66,341.30 598.76,341.30 598.86,341.30 598.96,341.30 599.06,341.30 599.15,341.30 599.25,341.30 599.35,341.30 599.45,341.30 599.55,341.30 599.65,341.30 599.75,341.30 599.85,341.30 599.95,341.30 600.05,341.30 600.14,341.30 600.24,341.30 600.34,341.30 600.44,341.30 600.54,341.30 600.64,341.30 600.74,341.30 600.84,341.30 600.94,341.30 601.04,341.30 601.13,341.30 601.23,341.30 601.33,341.30 601.43,341.30 601.53,341.30 601.63,341.30 601.73,341.30 601.83,341.30 601.93,341.30 602.03,341.30 602.13,341.30 602.22,341.30 602.32,341.30 602.42,341.30 602.52,341.30 602.62,341.30 602.72,341.30 602.82,341.30 602.92,341.30 603.02,341.30 603.12,341.30 603.21,341.30 603.31,341.30 603.41,341.30 603.51,341.30 603.61,341.30 603.71,341.30 603.81,341.30 603.91,341.30 604.01,341.30 604.11,341.30 604.20,341.30 604.30,341.30 604.40,341.30 604.50,341.30 604.60,341.30 604.70,341.30 604.80,341.30 604.90,341.30 605.00,341.30 605.10,341.30 605.19,341.30 605.29,341.30 605.39,341.30 605.49,341.30 605.59,341.30 605.69,341.30 605.79,341.30 605.89,341.30 605.99,341.30 606.09,341.30 606.18,341.30 606.28,341.30 606.38,341.30 606.48,341.30 606.58,341.30 606.68,341.30 606.78,341.30 606.88,341.30 606.98,341.30 607.08,341.30 607.17,341.30 607.27,341.30 607.37,341.30 607.47,341.30 607.57,341.30 607.67,341.30 607.77,341.30 607.87,341.30 607.97,341.30 608.07,341.30 608.16,341.30 608.26,341.30 608.36,341.30 608.46,341.30 608.56,341.30 608.66,341.30 608.76,341.30 608.86,341.30 608.96,341.30 609.06,341.30 609.15,341.30 609.25,341.30 609.35,341.30 609.45,341.30 609.55,341.30 609.65,341.30 609.75,341.30 609.85,341.30 609.95,341.30 610.05,341.30 610.15,341.30 610.24,341.30 610.34,341.30 610.44,341.30 610.54,341.30 610.64,341.30 610.74,341.30 610.84,341.30 610.94,341.30 611.04,341.30 611.14,341.30 611.23,341.30 611.33,341.30 611.43,341.30 611.53,341.30 611.63,341.30 611.73,341.30 611.83,341.30 611.93,341.30 612.03,341.30 612.13,341.30 612.22,341.30 612.30,299.58 612.38,256.80 612.48,281.98 612.57,306.57 612.66,330.90 612.75,331.08 612.85,331.25 612.94,331.42 613.03,331.60 613.12,331.77 613.22,331.94 613.33,335.06 613.45,338.18 613.55,337.69 613.65,337.19 613.74,336.70 613.84,336.21 613.94,335.71 614.04,335.22 614.13,334.73 614.23,334.23 614.33,333.74 614.43,334.01 614.52,334.27 614.62,334.54 614.72,334.80 614.82,335.07 614.92,335.33 615.02,335.60 615.12,335.87 615.22,336.13 615.32,336.40 615.42,336.66 615.52,336.93 615.62,337.20 615.71,337.46 615.81,337.73 615.91,337.99 616.01,338.11 616.11,338.23 616.21,338.35 616.31,338.47 616.41,338.58 616.51,338.70 616.61,338.82 616.71,338.94 616.81,339.06 616.90,339.17 617.00,339.29 617.10,339.41 617.20,339.53 617.30,339.65 617.40,339.76 617.50,339.88 617.60,340.00 617.70,340.12 617.80,340.24 617.90,340.36 618.00,340.40 618.09,340.45 618.19,340.50 618.29,340.54 618.39,340.59 618.49,340.64 618.59,340.69 618.69,340.73 618.79,340.78 618.89,340.83 618.99,340.87 619.09,340.92 619.18,340.97 619.28,341.02 619.38,341.06 619.48,341.11 619.58,341.16 619.68,341.21 619.78,341.25 619.88,341.30 619.98,341.30 620.08,341.30 620.18,341.30 620.28,341.30 620.38,341.30 620.47,341.30 620.57,341.30 620.67,341.30 620.77,341.30 620.87,341.30 620.97,341.30 621.07,341.30 621.17,341.30 621.27,341.30 621.37,341.30 621.47,341.30 621.57,341.30 621.67,341.30 621.76,341.30 621.86,341.30 621.96,341.30 622.06,341.30 622.16,341.30 622.26,341.30 622.36,341.30 622.46,341.30 622.56,341.30 622.66,341.30 622.76,341.30 622.86,341.30 622.96,341.30 623.06,341.30 623.15,341.30 623.25,341.30 623.35,341.30 623.45,341.30 623.55,341.30 623.65,341.30 623.75,341.30 623.85,341.30 623.95,341.30 624.05,341.30 624.15,341.30 624.25,341.30 624.35,341.30 624.45,341.30 624.54,341.30 624.64,341.30 624.74,341.30 624.84,341.30 624.94,341.30 625.04,341.30 625.14,341.30 625.24,341.30 625.34,341.30 625.44,341.30 625.54,341.30 625.64,341.30 625.74,341.30 625.83,341.30 625.93,341.30 626.03,341.30 626.13,341.30 626.23,341.30 626.33,341.30 626.43,341.30 626.53,341.30 626.63,341.30 626.73,341.30 626.83,341.30 626.93,341.30 627.03,341.30 627.13,341.30 627.22,341.30 627.32,341.30 627.42,341.30 627.52,341.30 627.62,341.30 627.72,341.30 627.82,341.30 627.92,341.30 628.02,341.30 628.12,341.30 628.22,341.30 628.32,341.30 628.42,341.30 628.51,341.30 628.61,341.30 628.71,341.30 628.81,341.30 628.91,341.30 629.01,341.30 629.11,341.30 629.21,341.30 629.31,341.30 629.41,341.30 629.51,341.30 629.61,341.30 629.71,341.30 629.81,341.30 629.90,341.30 630.00,341.30 630.10,341.30 630.20,341.30 630.30,341.30 630.40,341.30 630.50,341.30 630.60,341.30 630.70,341.30 630.80,341.30 630.90,341.30 631.00,341.30 631.10,341.30 631.19,341.30 631.29,341.30 631.39,341.30 631.49,341.30 631.59,341.30 631.69,341.30 631.79,341.30 631.89,341.30 631.99,341.30 632.09,341.30 632.19,341.30 632.29,341.30 632.39,341.30 632.49,341.30 632.58,341.30 632.68,341.30 632.78,341.30 632.88,341.30 632.98,341.30 633.08,341.30 633.18,341.30 633.28,341.30 633.38,341.30 633.48,341.30 633.58,341.30 633.68,341.30 633.78,341.30 633.88,341.30 633.97,341.30 634.07,341.30 634.17,341.30 634.27,341.30 634.37,341.30 634.47,341.30 634.57,341.30 634.67,341.30 634.77,341.30 634.87,341.30 634.97,341.30 635.07,341.30 635.17,341.30 635.26,341.30 635.36,341.30 635.46,341.30 635.56,341.30 635.66,341.30 635.76,341.30 635.86,341.30 635.96,341.30 636.06,341.30 636.16,341.30 636.26,341.30 636.36,341.30 636.46,341.30 636.56,341.30 636.65,341.30 636.75,341.30 636.85,341.30 636.95,341.30 637.05,341.30 637.15,341.30 637.25,341.30 637.35,341.30 637.45,341.30 637.55,341.30 637.65,341.30 637.75,341.30 637.85,341.30 637.92,297.19 638.00,252.05 638.10,295.28 638.20,337.52 638.30,338.02 638.39,338.53 638.48,339.03 638.57,339.54 638.67,340.04 638.76,340.54 638.86,340.61 638.96,340.67 639.06,340.73 639.15,340.80 639.25,340.86 639.35,340.92 639.45,340.99 639.55,341.05 639.65,341.11 639.75,341.17 639.85,341.24 639.95,341.30 640.05,341.30 640.15,341.30 640.24,341.30 640.34,341.30 640.44,341.30 640.54,341.30 640.64,341.30 640.74,341.30 640.84,341.30 640.94,341.30 641.04,341.30 641.13,341.30 641.23,341.30 641.33,341.30 641.43,341.30 641.53,341.30 641.63,341.30 641.73,341.30 641.83,341.30 641.93,341.30 642.03,341.30 642.12,341.30 642.22,341.30 642.32,341.30 642.42,341.30 642.52,341.30 642.62,341.30 642.72,341.30 642.82,341.30 642.92,341.30 643.01,341.30 643.11,341.30 643.21,341.30 643.31,341.30 643.41,341.30 643.51,341.30 643.61,341.30 643.71,341.30 643.81,341.30 643.91,341.30 644.00,341.30 644.10,341.30 644.20,341.30 644.30,341.30 644.40,341.30 644.50,341.30 644.60,341.30 644.70,341.30 644.80,341.30 644.89,341.30 644.99,341.30 645.09,341.30 645.19,341.30 645.29,341.30 645.39,341.30 645.49,341.30 645.59,341.30 645.69,341.30 645.79,341.30 645.88,341.30 645.98,341.30 646.08,341.30 646.18,341.30 646.28,341.30 646.38,341.30 646.48,341.30 646.58,341.30 646.68,341.30 646.77,341.30 646.87,341.30 646.97,341.30 647.07,341.30 647.17,341.30 647.27,341.30 647.37,341.30 647.47,341.30 647.57,341.30 647.66,341.30 647.76,341.30 647.86,341.30 647.96,341.30 648.06,341.30 648.16,341.30 648.26,341.30 648.36,341.30 648.46,341.30 648.56,341.30 648.65,341.30 648.75,341.30 648.85,341.30 648.95,341.30 649.05,341.30 649.15,341.30 649.25,341.30 649.35,341.30 649.45,341.30 649.54,341.30 649.64,341.30 649.74,341.30 649.84,341.30 649.94,341.30 650.04,341.30 650.14,341.30 650.24,341.30 650.34,341.30 650.44,341.30 650.53,341.30 650.63,341.30 650.73,341.30 650.83,341.30 650.93,341.30 651.03,341.30 651.13,341.30 651.23,341.30 651.33,341.30 651.42,341.30 651.52,341.30 651.62,341.30 651.72,341.30 651.82,341.30 651.92,341.30 652.02,341.30 652.12,341.30 652.22,341.30 652.31,341.30 652.41,341.30 652.51,341.30 652.61,341.30 652.71,341.30 652.81,341.30 652.91,341.30 653.01,341.30 653.11,341.30 653.21,341.30 653.30,341.30 653.40,341.30 653.50,341.30 653.60,341.30 653.70,341.30 653.80,341.30 653.90,341.30 654.00,341.30 654.10,341.30 654.19,341.30 654.29,341.30 654.39,341.30 654.49,341.30 654.59,341.30 654.69,341.30 654.79,341.30 654.89,341.30 654.99,341.30 655.09,341.30 655.18,341.30 655.28,341.30 655.38,341.30 655.48,341.30 655.58,341.30 655.68,341.30 655.78,341.30 655.88,341.30 655.98,341.30 656.07,341.30 656.17,341.30 656.27,341.30 656.37,341.30 656.47,341.30 656.57,341.30 656.67,341.30 656.77,341.30 656.87,341.30 656.97,341.30 657.06,341.30 657.16,341.30 657.26,341.30 657.36,341.30 657.46,341.30 657.56,341.30 657.66,341.30 657.76,341.30 657.86,341.30 657.95,341.30 658.05,341.30 658.15,341.30" fill="none" stroke="#c8c24e" stroke-width="1.2" stroke-linejoin="round" stroke-linecap="round" opacity="1.0"/>
<polyline points="418.20,341.30 418.30,341.30 418.40,341.30 418.50,341.30 418.60,341.30 418.70,341.30 418.79,341.30 418.89,341.30 418.99,341.30 419.09,341.30 419.19,341.30 419.29,341.30 419.39,341.30 419.49,341.30 419.59,341.30 419.69,341.30 419.78,341.30 419.88,341.30 419.98,341.30 420.08,341.30 420.18,341.30 420.28,341.30 420.38,341.30 420.48,341.30 420.58,341.30 420.68,341.30 420.77,341.30 420.87,341.30 420.97,341.30 421.07,341.30 421.17,341.30 421.27,341.30 421.37,341.30 421.47,341.30 421.57,341.30 421.67,341.30 421.76,341.30 421.86,341.30 421.96,341.30 422.06,341.30 422.16,341.30 422.26,341.30 422.36,341.30 422.46,341.30 422.56,341.30 422.66,341.30 422.75,341.30 422.85,341.30 422.95,341.30 423.05,341.30 423.15,341.30 423.25,341.30 423.35,341.30 423.45,341.30 423.55,341.30 423.65,341.30 423.75,341.30 423.84,341.30 423.94,341.30 424.04,341.30 424.14,341.30 424.24,341.30 424.34,341.30 424.44,341.30 424.54,341.30 424.64,341.30 424.74,341.30 424.83,341.30 424.93,341.30 425.03,341.30 425.13,341.30 425.23,341.30 425.33,341.30 425.43,341.30 425.53,341.30 425.63,341.30 425.73,341.30 425.82,341.30 425.92,341.30 426.02,341.30 426.12,341.30 426.22,341.30 426.32,341.30 426.42,341.30 426.52,341.30 426.62,341.30 426.72,341.30 426.81,341.30 426.91,341.30 427.01,341.30 427.11,341.30 427.21,341.30 427.31,341.30 427.41,341.30 427.51,341.30 427.61,341.30 427.71,341.30 427.81,341.30 427.90,341.30 428.00,341.30 428.10,341.30 428.20,341.30 428.30,341.30 428.40,341.30 428.50,341.30 428.60,341.30 428.70,341.30 428.80,341.30 428.89,341.30 428.99,341.30 429.09,341.30 429.19,341.30 429.29,341.30 429.39,341.30 429.49,341.30 429.59,341.30 429.69,341.30 429.79,341.30 429.88,341.30 429.98,341.30 430.08,341.30 430.18,341.30 430.28,341.30 430.38,341.30 430.48,341.30 430.58,341.30 430.68,341.30 430.78,341.30 430.87,341.30 430.97,341.30 431.07,341.30 431.17,341.30 431.27,341.30 431.37,341.30 431.47,341.30 431.57,341.30 431.67,341.30 431.77,341.30 431.86,341.30 431.96,341.30 432.06,341.30 432.16,341.30 432.26,341.30 432.36,341.30 432.46,341.30 432.56,341.30 432.66,341.30 432.76,341.30 432.86,341.30 432.95,341.30 433.05,341.30 433.15,341.30 433.25,341.30 433.35,341.30 433.45,341.30 433.55,341.30 433.65,341.30 433.75,341.30 433.85,341.30 433.94,341.30 434.04,341.30 434.14,341.30 434.24,341.30 434.34,341.30 434.44,341.30 434.54,341.30 434.64,341.30 434.74,341.30 434.84,341.30 434.93,341.30 435.03,341.30 435.13,341.30 435.23,341.30 435.33,341.30 435.43,341.30 435.53,341.30 435.63,341.30 435.73,341.30 435.83,341.30 435.92,341.30 436.02,341.30 436.12,341.30 436.22,341.30 436.32,341.30 436.42,341.30 436.52,341.30 436.62,341.30 436.72,341.30 436.82,341.30 436.91,341.30 437.01,341.30 437.11,341.30 437.21,341.30 437.31,341.30 437.41,341.30 437.51,341.30 437.61,341.30 437.71,341.30 437.81,341.30 437.91,341.30 438.00,341.30 438.10,341.30 438.20,341.30 438.30,341.30 438.40,341.30 438.50,341.30 438.60,341.30 438.70,341.30 438.80,341.30 438.90,341.30 438.99,341.30 439.09,341.30 439.19,341.30 439.29,341.30 439.39,341.30 439.49,341.30 439.59,341.30 439.69,341.30 439.79,341.30 439.89,341.30 439.98,341.30 440.08,341.30 440.18,341.30 440.28,341.30 440.38,341.30 440.48,341.30 440.58,341.30 440.68,341.30 440.78,341.30 440.88,341.30 440.97,341.30 441.07,341.30 441.17,341.30 441.27,341.30 441.37,341.30 441.47,341.30 441.57,341.30 441.67,341.30 441.77,341.30 441.87,341.30 441.96,341.30 442.06,341.30 442.16,341.30 442.26,341.30 442.36,341.30 442.46,341.30 442.56,341.30 442.66,341.30 442.76,341.30 442.86,341.30 442.96,341.30 443.05,341.30 443.15,341.30 443.25,341.30 443.35,341.30 443.45,341.30 443.55,341.30 443.65,341.30 443.75,341.30 443.85,341.30 443.95,341.30 444.04,341.30 444.14,341.30 444.24,341.30 444.34,341.30 444.44,341.30 444.54,341.30 444.64,341.30 444.74,341.30 444.84,341.30 444.94,341.30 445.03,341.30 445.13,341.30 445.23,341.30 445.33,341.30 445.43,341.30 445.53,341.30 445.63,341.30 445.73,341.30 445.83,341.30 445.93,341.30 446.02,341.30 446.12,341.30 446.22,341.30 446.32,341.30 446.42,341.30 446.52,341.30 446.62,341.30 446.72,341.30 446.82,341.30 446.92,341.30 447.02,341.30 447.11,341.30 447.21,341.30 447.31,341.30 447.41,341.30 447.51,341.30 447.61,341.30 447.71,341.30 447.79,299.10 447.87,255.85 447.97,297.67 448.07,338.47 448.16,339.41 448.25,340.36 448.34,341.30 448.44,341.30 448.54,341.30 448.64,341.30 448.74,341.30 448.84,341.30 448.94,341.30 449.04,341.30 449.14,341.30 449.24,341.30 449.34,341.30 449.44,341.30 449.53,341.30 449.63,341.30 449.73,341.30 449.83,341.30 449.93,341.30 450.03,341.30 450.13,341.30 450.23,341.30 450.33,341.30 450.43,341.30 450.53,341.30 450.63,341.30 450.73,341.30 450.83,341.30 450.93,341.30 451.03,341.30 451.12,341.30 451.22,341.30 451.32,341.30 451.42,341.30 451.52,341.30 451.62,341.30 451.72,341.30 451.82,341.30 451.92,341.30 452.02,341.30 452.12,341.30 452.22,341.30 452.32,341.30 452.42,341.30 452.52,341.30 452.61,341.30 452.71,341.30 452.81,341.30 452.91,341.30 453.01,341.30 453.11,341.30 453.21,341.30 453.31,341.30 453.41,341.30 453.51,341.30 453.61,341.30 453.71,341.30 453.81,341.30 453.91,341.30 454.01,341.30 454.10,341.30 454.20,341.30 454.30,341.30 454.40,341.30 454.50,341.30 454.60,341.30 454.70,341.30 454.80,341.30 454.90,341.30 455.00,341.30 455.10,341.30 455.20,341.30 455.30,341.30 455.40,341.30 455.50,341.30 455.59,341.30 455.69,341.30 455.79,341.30 455.89,341.30 455.99,341.30 456.09,341.30 456.19,341.30 456.29,341.30 456.39,341.30 456.49,341.30 456.59,341.30 456.69,341.30 456.79,341.30 456.89,341.30 456.99,341.30 457.09,341.30 457.18,341.30 457.28,341.30 457.38,341.30 457.48,341.30 457.58,341.30 457.68,341.30 457.78,341.30 457.88,341.30 457.98,341.30 458.08,341.30 458.18,341.30 458.28,341.30 458.38,341.30 458.48,341.30 458.58,341.30 458.67,341.30 458.77,341.30 458.87,341.30 458.97,341.30 459.07,341.30 459.17,341.30 459.27,341.30 459.37,341.30 459.47,341.30 459.57,341.30 459.67,341.30 459.77,341.30 459.87,341.30 459.97,341.30 460.07,341.30 460.16,341.30 460.26,341.30 460.36,341.30 460.46,341.30 460.56,341.30 460.66,341.30 460.76,341.30 460.86,341.30 460.96,341.30 461.06,341.30 461.16,341.30 461.26,341.30 461.36,341.30 461.46,341.30 461.56,341.30 461.65,341.30 461.75,341.30 461.85,341.30 461.95,341.30 462.05,341.30 462.15,341.30 462.25,341.30 462.35,341.30 462.45,341.30 462.55,341.30 462.65,341.30 462.75,341.30 462.85,341.30 462.95,341.30 463.05,341.30 463.15,341.30 463.24,341.30 463.34,341.30 463.44,341.30 463.54,341.30 463.64,341.30 463.74,341.30 463.84,341.30 463.94,341.30 464.04,341.30 464.14,341.30 464.24,341.30 464.34,341.30 464.44,341.30 464.54,341.30 464.64,341.30 464.73,341.30 464.83,341.30 464.93,341.30 465.03,341.30 465.13,341.30 465.23,341.30 465.33,341.30 465.43,341.30 465.53,341.30 465.63,341.30 465.73,341.30 465.83,341.30 465.93,341.30 466.03,341.30 466.13,341.30 466.22,341.30 466.32,341.30 466.42,341.30 466.52,341.30 466.62,341.30 466.72,341.30 466.82,341.30 466.92,341.30 467.02,341.30 467.12,341.30 467.22,341.30 467.32,341.30 467.42,341.30 467.52,341.30 467.62,341.30 467.71,341.30 467.81,341.30 467.91,341.30 468.01,341.30 468.11,341.30 468.21,341.30 468.31,341.30 468.41,341.30 468.51,341.30 468.61,341.30 468.71,341.30 468.81,341.30 468.91,341.30 469.01,341.30 469.09,299.58 469.17,256.80 469.26,288.84 469.36,320.02 469.46,327.12 469.55,334.21 469.64,341.30 469.74,341.30 469.84,341.30 469.94,341.30 470.04,341.30 470.14,341.30 470.24,341.30 470.34,341.30 470.44,341.30 470.53,341.30 470.63,341.30 470.73,341.30 470.83,341.30 470.93,341.30 471.03,341.30 471.13,341.30 471.23,341.30 471.33,341.30 471.43,341.30 471.53,341.30 471.63,341.30 471.73,341.30 471.83,341.30 471.93,341.30 472.02,341.30 472.12,341.30 472.22,341.30 472.32,341.30 472.42,341.30 472.52,341.30 472.62,341.30 472.72,341.30 472.82,341.30 472.92,341.30 473.02,341.30 473.12,341.30 473.22,341.30 473.32,341.30 473.41,341.30 473.51,341.30 473.61,341.30 473.71,341.30 473.81,341.30 473.91,341.30 474.01,341.30 474.11,341.30 474.21,341.30 474.31,341.30 474.41,341.30 474.51,341.30 474.61,341.30 474.71,341.30 474.81,341.30 474.90,341.30 475.00,341.30 475.10,341.30 475.20,341.30 475.30,341.30 475.40,341.30 475.50,341.30 475.60,341.30 475.70,341.30 475.80,341.30 475.90,341.30 476.00,341.30 476.10,341.30 476.20,341.30 476.29,341.30 476.39,341.30 476.49,341.30 476.59,341.30 476.69,341.30 476.79,341.30 476.89,341.30 476.99,341.30 477.09,341.30 477.19,341.30 477.29,341.30 477.39,341.30 477.49,341.30 477.59,341.30 477.69,341.30 477.78,341.30 477.88,341.30 477.98,341.30 478.08,341.30 478.18,341.30 478.28,341.30 478.38,341.30 478.48,341.30 478.58,341.30 478.68,341.30 478.78,341.30 478.88,341.30 478.98,341.30 479.08,341.30 479.17,341.30 479.27,341.30 479.37,341.30 479.47,341.30 479.57,341.30 479.67,341.30 479.77,341.30 479.87,341.30 479.97,341.30 480.07,341.30 480.17,341.30 480.27,341.30 480.37,341.30 480.47,341.30 480.56,341.30 480.66,341.30 480.76,341.30 480.86,341.30 480.96,341.30 481.06,341.30 481.16,341.30 481.26,341.30 481.36,341.30 481.46,341.30 481.56,341.30 481.66,341.30 481.76,341.30 481.86,341.30 481.96,341.30 482.05,341.30 482.15,341.30 482.25,341.30 482.35,341.30 482.45,341.30 482.55,341.30 482.65,341.30 482.75,341.30 482.85,341.30 482.95,341.30 483.05,341.30 483.15,341.30 483.25,341.30 483.35,341.30 483.44,341.30 483.54,341.30 483.64,341.30 483.74,341.30 483.84,341.30 483.94,341.30 484.04,341.30 484.14,341.30 484.24,341.30 484.34,341.30 484.44,341.30 484.54,341.30 484.64,341.30 484.74,341.30 484.84,341.30 484.93,341.30 485.03,341.30 485.13,341.30 485.23,341.30 485.33,341.30 485.43,341.30 485.53,341.30 485.63,341.30 485.73,341.30 485.83,341.30 485.93,341.30 486.03,341.30 486.13,341.30 486.23,341.30 486.32,341.30 486.42,341.30 486.52,341.30 486.62,341.30 486.72,341.30 486.82,341.30 486.92,341.30 487.02,341.30 487.12,341.30 487.22,341.30 487.32,341.30 487.42,341.30 487.52,341.30 487.62,341.30 487.72,341.30 487.81,341.30 487.91,341.30 488.01,341.30 488.11,341.30 488.21,341.30 488.31,341.30 488.41,341.30 488.51,341.30 488.61,341.30 488.71,341.30 488.81,341.30 488.91,341.30 489.01,341.30 489.11,341.30 489.20,341.30 489.30,341.30 489.40,341.30 489.50,341.30 489.60,341.30 489.70,341.30 489.80,341.30 489.90,341.30 490.00,341.30 490.10,341.30 490.20,341.30 490.30,341.30 490.40,341.30 490.50,341.30 490.60,341.30 490.69,341.30 490.79,341.30 490.89,341.30 490.99,341.30 491.09,341.30 491.19,341.30 491.29,341.30 491.39,341.30 491.49,341.30 491.59,341.30 491.69,341.30 491.79,341.30 491.89,341.30 491.99,341.30 492.08,341.30 492.18,341.30 492.28,341.30 492.38,341.30 492.48,341.30 492.58,341.30 492.68,341.30 492.78,341.30 492.88,341.30 492.98,341.30 493.08,341.30 493.18,341.30 493.28,341.30 493.38,341.30 493.48,341.30 493.57,341.30 493.67,341.30 493.77,341.30 493.87,341.30 493.97,341.30 494.07,341.30 494.17,341.30 494.27,341.30 494.37,341.30 494.47,341.30 494.57,341.30 494.67,341.30 494.77,341.30 494.87,341.30 494.96,341.30 495.06,341.30 495.14,295.04 495.22,247.78 495.32,294.33 495.42,339.88 495.51,340.36 495.61,340.83 495.70,341.30 495.80,341.30 495.90,341.30 496.00,341.30 496.10,341.30 496.20,341.30 496.29,341.30 496.39,341.30 496.49,341.30 496.59,341.30 496.69,341.30 496.79,341.30 496.89,341.30 496.99,341.30 497.09,341.30 497.19,341.30 497.29,341.30 497.39,341.30 497.49,341.30 497.59,341.30 497.69,341.30 497.78,341.30 497.88,341.30 497.98,341.30 498.08,341.30 498.18,341.30 498.28,341.30 498.38,341.30 498.48,341.30 498.58,341.30 498.68,341.30 498.78,341.30 498.88,341.30 498.98,341.30 499.08,341.30 499.18,341.30 499.27,341.30 499.37,341.30 499.47,341.30 499.57,341.30 499.67,341.30 499.77,341.30 499.87,341.30 499.97,341.30 500.07,341.30 500.17,341.30 500.27,341.30 500.37,341.30 500.47,341.30 500.57,341.30 500.67,341.30 500.76,341.30 500.86,341.30 500.96,341.30 501.06,341.30 501.16,341.30 501.26,341.30 501.36,341.30 501.46,341.30 501.56,341.30 501.66,341.30 501.76,341.30 501.86,341.30 501.96,341.30 502.06,341.30 502.16,341.30 502.25,341.30 502.35,341.30 502.45,341.30 502.55,341.30 502.65,341.30 502.75,341.30 502.85,341.30 502.95,341.30 503.05,341.30 503.15,341.30 503.25,341.30 503.35,341.30 503.45,341.30 503.55,341.30 503.65,341.30 503.74,341.30 503.84,341.30 503.94,341.30 504.04,341.30 504.14,341.30 504.24,341.30 504.34,341.30 504.44,341.30 504.54,341.30 504.64,341.30 504.74,341.30 504.84,341.30 504.94,341.30 505.04,341.30 505.14,341.30 505.23,341.30 505.33,341.30 505.43,341.30 505.53,341.30 505.63,341.30 505.73,341.30 505.83,341.30 505.93,341.30 506.03,341.30 506.13,341.30 506.23,341.30 506.33,341.30 506.43,341.30 506.53,341.30 506.63,341.30 506.72,341.30 506.82,341.30 506.92,341.30 507.02,341.30 507.12,341.30 507.22,341.30 507.32,341.30 507.42,341.30 507.52,341.30 507.62,341.30 507.72,341.30 507.82,341.30 507.92,341.30 508.02,341.30 508.12,341.30 508.21,341.30 508.31,341.30 508.41,341.30 508.51,341.30 508.61,341.30 508.71,341.30 508.81,341.30 508.91,341.30 509.01,341.30 509.11,341.30 509.21,341.30 509.31,341.30 509.41,341.30 509.51,341.30 509.61,341.30 509.70,341.30 509.80,341.30 509.90,341.30 510.00,341.30 510.10,341.30 510.20,341.30 510.30,341.30 510.40,341.30 510.50,341.30 510.60,341.30 510.70,341.30 510.80,341.30 510.90,341.30 511.00,341.30 511.10,341.30 511.20,341.30 511.29,341.30 511.39,341.30 511.49,341.30 511.59,341.30 511.69,341.30 511.79,341.30 511.89,341.30 511.99,341.30 512.09,341.30 512.19,341.30 512.29,341.30 512.39,341.30 512.49,341.30 512.59,341.30 512.69,341.30 512.78,341.30 512.88,341.30 512.98,341.30 513.08,341.30 513.18,341.30 513.28,341.30 513.38,341.30 513.48,341.30 513.58,341.30 513.68,341.30 513.78,341.30 513.88,341.30 513.98,341.30 514.08,341.30 514.18,341.30 514.27,341.30 514.37,341.30 514.47,341.30 514.57,341.30 514.67,341.30 514.77,341.30 514.87,341.30 514.97,341.30 515.07,341.30 515.17,341.30 515.27,341.30 515.37,341.30 515.47,341.30 515.57,341.30 515.67,341.30 515.76,341.30 515.86,341.30 515.96,341.30 516.06,341.30 516.16,341.30 516.26,341.30 516.36,341.30 516.46,341.30 516.56,341.30 516.66,341.30 516.76,341.30 516.86,341.30 516.96,341.30 517.06,341.30 517.16,341.30 517.25,341.30 517.35,341.30 517.43,293.85 517.51,245.40 517.61,282.43 517.71,318.84 517.80,326.34 517.90,333.82 517.99,341.30 518.09,341.30 518.19,341.30 518.29,341.30 518.39,341.30 518.48,341.30 518.58,341.30 518.68,341.30 518.78,341.30 518.88,341.30 518.98,341.30 519.08,341.30 519.18,341.30 519.28,341.30 519.38,341.30 519.48,341.30 519.57,341.30 519.67,341.30 519.77,341.30 519.87,341.30 519.97,341.30 520.07,341.30 520.17,341.30 520.27,341.30 520.37,341.30 520.47,341.30 520.57,341.30 520.67,341.30 520.76,341.30 520.86,341.30 520.96,341.30 521.06,341.30 521.16,341.30 521.26,341.30 521.36,341.30 521.46,341.30 521.56,341.30 521.66,341.30 521.76,341.30 521.86,341.30 521.95,341.30 522.05,341.30 522.15,341.30 522.25,341.30 522.35,341.30 522.45,341.30 522.55,341.30 522.65,341.30 522.75,341.30 522.85,341.30 522.95,341.30 523.05,341.30 523.14,341.30 523.24,341.30 523.34,341.30 523.44,341.30 523.54,341.30 523.64,341.30 523.74,341.30 523.84,341.30 523.94,341.30 524.04,341.30 524.14,341.30 524.24,341.30 524.33,341.30 524.43,341.30 524.53,341.30 524.63,341.30 524.73,341.30 524.83,341.30 524.93,341.30 525.03,341.30 525.13,341.30 525.23,341.30 525.33,341.30 525.42,341.30 525.52,341.30 525.62,341.30 525.72,341.30 525.82,341.30 525.92,341.30 526.02,341.30 526.12,341.30 526.22,341.30 526.32,341.30 526.42,341.30 526.52,341.30 526.61,341.30 526.71,341.30 526.81,341.30 526.91,341.30 527.01,341.30 527.11,341.30 527.21,341.30 527.31,341.30 527.41,341.30 527.51,341.30 527.61,341.30 527.71,341.30 527.80,341.30 527.90,341.30 528.00,341.30 528.10,341.30 528.20,341.30 528.30,341.30 528.40,341.30 528.50,341.30 528.60,341.30 528.70,341.30 528.80,341.30 528.90,341.30 528.99,341.30 529.09,341.30 529.19,341.30 529.29,341.30 529.39,341.30 529.49,341.30 529.59,341.30 529.69,341.30 529.79,341.30 529.89,341.30 529.99,341.30 530.09,341.30 530.18,341.30 530.28,341.30 530.38,341.30 530.48,341.30 530.58,341.30 530.68,341.30 530.78,341.30 530.88,341.30 530.98,341.30 531.08,341.30 531.18,341.30 531.28,341.30 531.37,341.30 531.47,341.30 531.57,341.30 531.67,341.30 531.77,341.30 531.87,341.30 531.97,341.30 532.07,341.30 532.17,341.30 532.27,341.30 532.37,341.30 532.46,341.30 532.56,341.30 532.66,341.30 532.76,341.30 532.86,341.30 532.96,341.30 533.06,341.30 533.16,341.30 533.26,341.30 533.36,341.30 533.46,341.30 533.56,341.30 533.65,341.30 533.75,341.30 533.85,341.30 533.95,341.30 534.05,341.30 534.15,341.30 534.25,341.30 534.35,341.30 534.45,341.30 534.55,341.30 534.65,341.30 534.75,341.30 534.84,341.30 534.94,341.30 535.04,341.30 535.14,341.30 535.24,341.30 535.34,341.30 535.44,341.30 535.54,341.30 535.64,341.30 535.74,341.30 535.84,341.30 535.94,341.30 536.03,341.30 536.13,341.30 536.23,341.30 536.33,341.30 536.43,341.30 536.53,341.30 536.63,341.30 536.73,341.30 536.83,341.30 536.93,341.30 537.03,341.30 537.13,341.30 537.22,341.30 537.32,341.30 537.42,341.30 537.52,341.30 537.62,341.30 537.72,341.30 537.82,341.30 537.92,341.30 538.02,341.30 538.12,341.30 538.22,341.30 538.31,341.30 538.41,341.30 538.51,341.30 538.61,341.30 538.71,341.30 538.81,341.30 538.91,341.30 539.01,341.30 539.11,341.30 539.21,341.30 539.31,341.30 539.41,341.30 539.50,341.30 539.60,341.30 539.70,341.30 539.80,341.30 539.90,341.30 540.00,341.30 540.10,341.30 540.20,341.30 540.30,341.30 540.40,341.30 540.50,341.30 540.60,341.30 540.69,341.30 540.79,341.30 540.89,341.30 540.99,341.30 541.09,341.30 541.19,341.30 541.29,341.30 541.39,341.30 541.49,341.30 541.59,341.30 541.69,341.30 541.79,341.30 541.88,341.30 541.98,341.30 542.08,341.30 542.18,341.30 542.28,341.30 542.38,341.30 542.48,341.30 542.58,341.30 542.68,341.30 542.78,341.30 542.88,341.30 542.98,341.30 543.07,341.30 543.17,341.30 543.27,341.30 543.37,341.30 543.47,341.30 543.57,341.30 543.67,341.30 543.77,341.30 543.87,341.30 543.97,341.30 544.07,341.30 544.17,341.30 544.26,341.30 544.36,341.30 544.46,341.30 544.56,341.30 544.66,341.30 544.76,341.30 544.86,341.30 544.96,341.30 545.06,341.30 545.16,341.30 545.26,341.30 545.35,341.30 545.45,341.30 545.55,341.30 545.65,341.30 545.75,341.30 545.83,296.95 545.91,251.57 546.01,286.93 546.11,321.45 546.20,328.07 546.29,334.69 546.39,341.30 546.49,341.30 546.58,341.30 546.68,341.30 546.78,341.30 546.88,341.30 546.98,341.30 547.08,341.30 547.18,341.30 547.28,341.30 547.38,341.30 547.48,341.30 547.57,341.30 547.67,341.30 547.77,341.30 547.87,341.30 547.97,341.30 548.07,341.30 548.17,341.30 548.27,341.30 548.37,341.30 548.47,341.30 548.57,341.30 548.66,341.30 548.76,341.30 548.86,341.30 548.96,341.30 549.06,341.30 549.16,341.30 549.26,341.30 549.36,341.30 549.46,341.30 549.56,341.30 549.65,341.30 549.75,341.30 549.85,341.30 549.95,341.30 550.05,341.30 550.15,341.30 550.25,341.30 550.35,341.30 550.45,341.30 550.55,341.30 550.64,341.30 550.74,341.30 550.84,341.30 550.94,341.30 551.04,341.30 551.14,341.30 551.24,341.30 551.34,341.30 551.44,341.30 551.54,341.30 551.64,341.30 551.73,341.30 551.83,341.30 551.93,341.30 552.03,341.30 552.13,341.30 552.23,341.30 552.33,341.30 552.43,341.30 552.53,341.30 552.63,341.30 552.72,341.30 552.82,341.30 552.92,341.30 553.02,341.30 553.12,341.30 553.22,341.30 553.32,341.30 553.42,341.30 553.52,341.30 553.62,341.30 553.72,341.30 553.81,341.30 553.91,341.30 554.01,341.30 554.11,341.30 554.21,341.30 554.31,341.30 554.41,341.30 554.51,341.30 554.61,341.30 554.71,341.30 554.80,341.30 554.90,341.30 555.00,341.30 555.10,341.30 555.20,341.30 555.30,341.30 555.40,341.30 555.50,341.30 555.60,341.30 555.70,341.30 555.80,341.30 555.89,341.30 555.99,341.30 556.09,341.30 556.19,341.30 556.29,341.30 556.39,341.30 556.49,341.30 556.59,341.30 556.69,341.30 556.79,341.30 556.88,341.30 556.98,341.30 557.08,341.30 557.18,341.30 557.28,341.30 557.38,341.30 557.48,341.30 557.58,341.30 557.68,341.30 557.78,341.30 557.88,341.30 557.97,341.30 558.07,341.30 558.17,341.30 558.27,341.30 558.37,341.30 558.47,341.30 558.57,341.30 558.67,341.30 558.77,341.30 558.87,341.30 558.96,341.30 559.06,341.30 559.16,341.30 559.26,341.30 559.36,341.30 559.46,341.30 559.56,341.30 559.66,341.30 559.76,341.30 559.86,341.30 559.96,341.30 560.05,341.30 560.15,341.30 560.25,341.30 560.35,341.30 560.45,341.30 560.55,341.30 560.65,341.30 560.75,341.30 560.85,341.30 560.95,341.30 561.04,341.30 561.14,341.30 561.24,341.30 561.34,341.30 561.44,341.30 561.54,341.30 561.64,341.30 561.74,341.30 561.84,341.30 561.94,341.30 562.04,341.30 562.13,341.30 562.23,341.30 562.33,341.30 562.43,341.30 562.53,341.30 562.63,341.30 562.73,341.30 562.83,341.30 562.93,341.30 563.03,341.30 563.12,341.30 563.22,341.30 563.32,341.30 563.42,341.30 563.52,341.30 563.62,341.30 563.72,341.30 563.82,341.30 563.92,341.30 564.02,341.30 564.12,341.30 564.21,341.30 564.31,341.30 564.39,298.86 564.47,255.38 564.57,283.31 564.67,310.52 564.76,320.82 564.86,331.06 564.95,341.30 565.05,341.30 565.15,341.30 565.25,341.30 565.34,341.30 565.44,341.30 565.54,341.30 565.64,341.30 565.74,341.30 565.84,341.30 565.94,341.30 566.04,341.30 566.14,341.30 566.24,341.30 566.34,341.30 566.44,341.30 566.54,341.30 566.64,341.30 566.74,341.30 566.83,341.30 566.93,341.30 567.03,341.30 567.13,341.30 567.23,341.30 567.33,341.30 567.43,341.30 567.53,341.30 567.63,341.30 567.73,341.30 567.83,341.30 567.93,341.30 568.03,341.30 568.13,341.30 568.22,341.30 568.32,341.30 568.42,341.30 568.52,341.30 568.62,341.30 568.72,341.30 568.82,341.30 568.92,341.30 569.02,341.30 569.12,341.30 569.22,341.30 569.32,341.30 569.42,341.30 569.52,341.30 569.62,341.30 569.71,341.30 569.81,341.30 569.91,341.30 570.01,341.30 570.11,341.30 570.21,341.30 570.31,341.30 570.41,341.30 570.51,341.30 570.61,341.30 570.71,341.30 570.81,341.30 570.91,341.30 571.01,341.30 571.10,341.30 571.20,341.30 571.30,341.30 571.40,341.30 571.50,341.30 571.60,341.30 571.70,341.30 571.80,341.30 571.90,341.30 572.00,341.30 572.10,341.30 572.20,341.30 572.30,341.30 572.40,341.30 572.49,341.30 572.59,341.30 572.69,341.30 572.79,341.30 572.89,341.30 572.99,341.30 573.09,341.30 573.19,341.30 573.29,341.30 573.39,341.30 573.49,341.30 573.59,341.30 573.69,341.30 573.79,341.30 573.89,341.30 573.98,341.30 574.08,341.30 574.18,341.30 574.28,341.30 574.38,341.30 574.48,341.30 574.58,341.30 574.68,341.30 574.78,341.30 574.88,341.30 574.98,341.30 575.08,341.30 575.18,341.30 575.28,341.30 575.37,341.30 575.47,341.30 575.57,341.30 575.67,341.30 575.77,341.30 575.87,341.30 575.97,341.30 576.07,341.30 576.17,341.30 576.27,341.30 576.37,341.30 576.47,341.30 576.57,341.30 576.67,341.30 576.77,341.30 576.86,341.30 576.96,341.30 577.06,341.30 577.16,341.30 577.26,341.30 577.36,341.30 577.46,341.30 577.56,341.30 577.66,341.30 577.76,341.30 577.86,341.30 577.96,341.30 578.06,341.30 578.16,341.30 578.25,341.30 578.35,341.30 578.45,341.30 578.55,341.30 578.65,341.30 578.75,341.30 578.85,341.30 578.95,341.30 579.05,341.30 579.15,341.30 579.25,341.30 579.35,341.30 579.45,341.30 579.55,341.30 579.65,341.30 579.74,341.30 579.84,341.30 579.94,341.30 580.04,341.30 580.14,341.30 580.24,341.30 580.34,341.30 580.44,341.30 580.54,341.30 580.64,341.30 580.74,341.30 580.84,341.30 580.94,341.30 581.04,341.30 581.13,341.30 581.23,341.30 581.33,341.30 581.43,341.30 581.53,341.30 581.63,341.30 581.73,341.30 581.83,341.30 581.93,341.30 582.03,341.30 582.13,341.30 582.23,341.30 582.33,341.30 582.43,341.30 582.52,341.30 582.62,341.30 582.72,341.30 582.82,341.30 582.92,341.30 583.02,341.30 583.12,341.30 583.22,341.30 583.32,341.30 583.42,341.30 583.52,341.30 583.62,341.30 583.72,341.30 583.82,341.30 583.92,341.30 584.01,341.30 584.11,341.30 584.21,341.30 584.31,341.30 584.41,341.30 584.51,341.30 584.61,341.30 584.71,341.30 584.81,341.30 584.91,341.30 585.01,341.30 585.11,341.30 585.21,341.30 585.31,341.30 585.40,341.30 585.50,341.30 585.60,341.30 585.70,341.30 585.80,341.30 585.90,341.30 586.00,341.30 586.10,341.30 586.20,341.30 586.30,341.30 586.40,341.30 586.50,341.30 586.60,341.30 586.70,341.30 586.80,341.30 586.89,341.30 586.99,341.30 587.09,341.30 587.19,341.30 587.29,341.30 587.39,341.30 587.49,341.30 587.59,341.30 587.69,341.30 587.79,341.30 587.89,341.30 587.99,341.30 588.09,341.30 588.19,341.30 588.28,341.30 588.38,341.30 588.48,341.30 588.58,341.30 588.68,341.30 588.78,341.30 588.88,341.30 588.98,341.30 589.08,341.30 589.18,341.30 589.28,341.30 589.38,341.30 589.48,341.30 589.58,341.30 589.67,341.30 589.77,341.30 589.87,341.30 589.97,341.30 590.07,341.30 590.17,341.30 590.27,341.30 590.37,341.30 590.47,341.30 590.57,341.30 590.67,341.30 590.77,341.30 590.85,296.24 590.93,250.15 591.03,292.66 591.12,334.21 591.22,336.57 591.31,338.94 591.40,341.30 591.50,341.30 591.60,341.30 591.70,341.30 591.80,341.30 591.90,341.30 592.00,341.30 592.10,341.30 592.20,341.30 592.30,341.30 592.40,341.30 592.49,341.30 592.59,341.30 592.69,341.30 592.79,341.30 592.89,341.30 592.99,341.30 593.09,341.30 593.19,341.30 593.29,341.30 593.39,341.30 593.49,341.30 593.59,341.30 593.69,341.30 593.79,341.30 593.89,341.30 593.98,341.30 594.08,341.30 594.18,341.30 594.28,341.30 594.38,341.30 594.48,341.30 594.58,341.30 594.68,341.30 594.78,341.30 594.88,341.30 594.98,341.30 595.08,341.30 595.18,341.30 595.28,341.30 595.38,341.30 595.48,341.30 595.57,341.30 595.67,341.30 595.77,341.30 595.87,341.30 595.97,341.30 596.07,341.30 596.17,341.30 596.27,341.30 596.37,341.30 596.47,341.30 596.57,341.30 596.67,341.30 596.77,341.30 596.87,341.30 596.97,341.30 597.06,341.30 597.16,341.30 597.26,341.30 597.36,341.30 597.46,341.30 597.56,341.30 597.66,341.30 597.76,341.30 597.86,341.30 597.96,341.30 598.06,341.30 598.16,341.30 598.26,341.30 598.36,341.30 598.46,341.30 598.55,341.30 598.65,341.30 598.75,341.30 598.85,341.30 598.95,341.30 599.05,341.30 599.15,341.30 599.25,341.30 599.35,341.30 599.45,341.30 599.55,341.30 599.65,341.30 599.75,341.30 599.85,341.30 599.95,341.30 600.04,341.30 600.14,341.30 600.24,341.30 600.34,341.30 600.44,341.30 600.54,341.30 600.64,341.30 600.74,341.30 600.84,341.30 600.94,341.30 601.04,341.30 601.14,341.30 601.24,341.30 601.34,341.30 601.44,341.30 601.54,341.30 601.63,341.30 601.73,341.30 601.83,341.30 601.93,341.30 602.03,341.30 602.13,341.30 602.23,341.30 602.33,341.30 602.43,341.30 602.53,341.30 602.63,341.30 602.73,341.30 602.83,341.30 602.93,341.30 603.03,341.30 603.12,341.30 603.22,341.30 603.32,341.30 603.42,341.30 603.52,341.30 603.62,341.30 603.72,341.30 603.82,341.30 603.92,341.30 604.02,341.30 604.12,341.30 604.22,341.30 604.32,341.30 604.42,341.30 604.52,341.30 604.61,341.30 604.71,341.30 604.81,341.30 604.91,341.30 605.01,341.30 605.11,341.30 605.21,341.30 605.31,341.30 605.41,341.30 605.51,341.30 605.61,341.30 605.71,341.30 605.81,341.30 605.91,341.30 606.01,341.30 606.10,341.30 606.20,341.30 606.30,341.30 606.40,341.30 606.50,341.30 606.60,341.30 606.70,341.30 606.80,341.30 606.90,341.30 607.00,341.30 607.10,341.30 607.20,341.30 607.30,341.30 607.40,341.30 607.50,341.30 607.60,341.30 607.69,341.30 607.79,341.30 607.89,341.30 607.99,341.30 608.09,341.30 608.19,341.30 608.29,341.30 608.39,341.30 608.49,341.30 608.59,341.30 608.69,341.30 608.79,341.30 608.89,341.30 608.99,341.30 609.09,341.30 609.18,341.30 609.28,341.30 609.38,341.30 609.48,341.30 609.58,341.30 609.68,341.30 609.78,341.30 609.88,341.30 609.98,341.30 610.08,341.30 610.18,341.30 610.28,341.30 610.38,341.30 610.48,341.30 610.58,341.30 610.67,341.30 610.77,341.30 610.87,341.30 610.97,341.30 611.07,341.30 611.17,341.30 611.27,341.30 611.37,341.30 611.47,341.30 611.57,341.30 611.67,341.30 611.77,341.30 611.87,341.30 611.97,341.30 612.07,341.30 612.14,303.40 612.22,264.40 612.32,300.77 612.42,336.10 612.52,337.83 612.61,339.57 612.70,341.30 612.80,341.30 612.90,341.30 613.00,341.30 613.10,341.30 613.20,341.30 613.30,341.30 613.40,341.30 613.49,341.30 613.59,341.30 613.69,341.30 613.79,341.30 613.89,341.30 613.99,341.30 614.09,341.30 614.19,341.30 614.29,341.30 614.39,341.30 614.49,341.30 614.59,341.30 614.69,341.30 614.79,341.30 614.89,341.30 614.98,341.30 615.08,341.30 615.18,341.30 615.28,341.30 615.38,341.30 615.48,341.30 615.58,341.30 615.68,341.30 615.78,341.30 615.88,341.30 615.98,341.30 616.08,341.30 616.18,341.30 616.28,341.30 616.37,341.30 616.47,341.30 616.57,341.30 616.67,341.30 616.77,341.30 616.87,341.30 616.97,341.30 617.07,341.30 617.17,341.30 617.27,341.30 617.37,341.30 617.47,341.30 617.57,341.30 617.67,341.30 617.77,341.30 617.86,341.30 617.96,341.30 618.06,341.30 618.16,341.30 618.26,341.30 618.36,341.30 618.46,341.30 618.56,341.30 618.66,341.30 618.76,341.30 618.86,341.30 618.96,341.30 619.06,341.30 619.16,341.30 619.25,341.30 619.35,341.30 619.45,341.30 619.55,341.30 619.65,341.30 619.75,341.30 619.85,341.30 619.95,341.30 620.05,341.30 620.15,341.30 620.25,341.30 620.35,341.30 620.45,341.30 620.55,341.30 620.65,341.30 620.74,341.30 620.84,341.30 620.94,341.30 621.04,341.30 621.14,341.30 621.24,341.30 621.34,341.30 621.44,341.30 621.54,341.30 621.64,341.30 621.74,341.30 621.84,341.30 621.94,341.30 622.04,341.30 622.13,341.30 622.23,341.30 622.33,341.30 622.43,341.30 622.53,341.30 622.63,341.30 622.73,341.30 622.83,341.30 622.93,341.30 623.03,341.30 623.13,341.30 623.23,341.30 623.33,341.30 623.43,341.30 623.53,341.30 623.62,341.30 623.72,341.30 623.82,341.30 623.92,341.30 624.02,341.30 624.12,341.30 624.22,341.30 624.32,341.30 624.42,341.30 624.52,341.30 624.62,341.30 624.72,341.30 624.82,341.30 624.92,341.30 625.01,341.30 625.11,341.30 625.21,341.30 625.31,341.30 625.41,341.30 625.51,341.30 625.61,341.30 625.71,341.30 625.81,341.30 625.91,341.30 626.01,341.30 626.11,341.30 626.21,341.30 626.31,341.30 626.41,341.30 626.50,341.30 626.60,341.30 626.70,341.30 626.80,341.30 626.90,341.30 627.00,341.30 627.10,341.30 627.20,341.30 627.30,341.30 627.40,341.30 627.50,341.30 627.60,341.30 627.70,341.30 627.80,341.30 627.89,341.30 627.99,341.30 628.09,341.30 628.19,341.30 628.29,341.30 628.39,341.30 628.49,341.30 628.59,341.30 628.69,341.30 628.79,341.30 628.89,341.30 628.99,341.30 629.09,341.30 629.19,341.30 629.29,341.30 629.38,341.30 629.48,341.30 629.58,341.30 629.68,341.30 629.78,341.30 629.88,341.30 629.98,341.30 630.08,341.30 630.18,341.30 630.28,341.30 630.38,341.30 630.48,341.30 630.58,341.30 630.68,341.30 630.77,341.30 630.87,341.30 630.97,341.30 631.07,341.30 631.17,341.30 631.27,341.30 631.37,341.30 631.47,341.30 631.57,341.30 631.67,341.30 631.77,341.30 631.87,341.30 631.97,341.30 632.07,341.30 632.17,341.30 632.26,341.30 632.36,341.30 632.46,341.30 632.56,341.30 632.66,341.30 632.76,341.30 632.86,341.30 632.96,341.30 633.06,341.30 633.16,341.30 633.26,341.30 633.36,341.30 633.46,341.30 633.56,341.30 633.65,341.30 633.75,341.30 633.85,341.30 633.95,341.30 634.05,341.30 634.15,341.30 634.25,341.30 634.35,341.30 634.45,341.30 634.55,341.30 634.65,341.30 634.75,341.30 634.85,341.30 634.95,341.30 635.05,341.30 635.14,341.30 635.24,341.30 635.34,341.30 635.44,341.30 635.54,341.30 635.64,341.30 635.74,341.30 635.84,341.30 635.94,341.30 636.04,341.30 636.14,341.30 636.24,341.30 636.34,341.30 636.44,341.30 636.53,341.30 636.63,341.30 636.73,341.30 636.83,341.30 636.93,341.30 637.03,341.30 637.13,341.30 637.23,341.30 637.33,341.30 637.43,341.30 637.53,341.30 637.63,341.30 637.73,341.30 637.81,314.32 637.89,287.17 637.98,313.38 638.08,339.41 638.18,340.04 638.27,340.67 638.36,341.30 638.46,341.30 638.56,341.30 638.66,341.30 638.76,341.30 638.86,341.30 638.95,341.30 639.05,341.30 639.15,341.30 639.25,341.30 639.35,341.30 639.45,341.30 639.55,341.30 639.65,341.30 639.75,341.30 639.85,341.30 639.94,341.30 640.04,341.30 640.14,341.30 640.24,341.30 640.34,341.30 640.44,341.30 640.54,341.30 640.64,341.30 640.74,341.30 640.84,341.30 640.93,341.30 641.03,341.30 641.13,341.30 641.23,341.30 641.33,341.30 641.43,341.30 641.53,341.30 641.63,341.30 641.73,341.30 641.82,341.30 641.92,341.30 642.02,341.30 642.12,341.30 642.22,341.30 642.32,341.30 642.42,341.30 642.52,341.30 642.62,341.30 642.72,341.30 642.81,341.30 642.91,341.30 643.01,341.30 643.11,341.30 643.21,341.30 643.31,341.30 643.41,341.30 643.51,341.30 643.61,341.30 643.70,341.30 643.80,341.30 643.90,341.30 644.00,341.30 644.10,341.30 644.20,341.30 644.30,341.30 644.40,341.30 644.50,341.30 644.60,341.30 644.69,341.30 644.79,341.30 644.89,341.30 644.99,341.30 645.09,341.30 645.19,341.30 645.29,341.30 645.39,341.30 645.49,341.30 645.58,341.30 645.68,341.30 645.78,341.30 645.88,341.30 645.98,341.30 646.08,341.30 646.18,341.30 646.28,341.30 646.38,341.30 646.48,341.30 646.57,341.30 646.67,341.30 646.77,341.30 646.87,341.30 646.97,341.30 647.07,341.30 647.17,341.30 647.27,341.30 647.37,341.30 647.47,341.30 647.56,341.30 647.66,341.30 647.76,341.30 647.86,341.30 647.96,341.30 648.06,341.30 648.16,341.30 648.26,341.30 648.36,341.30 648.45,341.30 648.55,341.30 648.65,341.30 648.75,341.30 648.85,341.30 648.95,341.30 649.05,341.30 649.15,341.30 649.25,341.30 649.35,341.30 649.44,341.30 649.54,341.30 649.64,341.30 649.74,341.30 649.84,341.30 649.94,341.30 650.04,341.30 650.14,341.30 650.24,341.30 650.33,341.30 650.43,341.30 650.53,341.30 650.63,341.30 650.73,341.30 650.83,341.30 650.93,341.30 651.03,341.30 651.13,341.30 651.23,341.30 651.32,341.30 651.42,341.30 651.52,341.30 651.62,341.30 651.72,341.30 651.82,341.30 651.92,341.30 652.02,341.30 652.12,341.30 652.21,341.30 652.31,341.30 652.41,341.30 652.51,341.30 652.61,341.30 652.71,341.30 652.81,341.30 652.91,341.30 653.01,341.30 653.11,341.30 653.20,341.30 653.30,341.30 653.40,341.30 653.50,341.30 653.60,341.30 653.70,341.30 653.80,341.30 653.90,341.30 654.00,341.30 654.10,341.30 654.19,341.30 654.29,341.30 654.39,341.30 654.49,341.30 654.59,341.30 654.69,341.30 654.79,341.30 654.89,341.30 654.99,341.30 655.08,341.30 655.18,341.30 655.28,341.30 655.38,341.30 655.48,341.30 655.58,341.30 655.68,341.30 655.78,341.30 655.88,341.30 655.98,341.30 656.07,341.30 656.17,341.30 656.27,341.30 656.37,341.30 656.47,341.30 656.57,341.30 656.67,341.30 656.77,341.30 656.87,341.30 656.96,341.30 657.06,341.30 657.16,341.30 657.26,341.30 657.36,341.30 657.46,341.30 657.56,341.30 657.66,341.30 657.76,341.30 657.86,341.30 657.95,341.30 658.05,341.30 658.15,341.30" fill="none" stroke="#ebc01e" stroke-width="1.25" stroke-linejoin="round" stroke-linecap="round" opacity="1.0"/>
<line x1="614.9" y1="213" x2="631" y2="213" stroke="#c8cf5a" stroke-width="1.3"/>
<text x="632.90" y="216.20" text-anchor="start" font-family="'Liberation Sans', 'DejaVu Sans', sans-serif" font-size="8.2" fill="#333" font-weight="bold" textLength="38.4" lengthAdjust="spacingAndGlyphs">Nox. Ряд 2</text>
<line x1="614.9" y1="224.2" x2="631" y2="224.2" stroke="#dccf6c" stroke-width="1.3"/>
<text x="632.90" y="227.40" text-anchor="start" font-family="'Liberation Sans', 'DejaVu Sans', sans-serif" font-size="8.2" fill="#333" font-weight="bold" textLength="38.4" lengthAdjust="spacingAndGlyphs">Nox. Ряд 1</text>
<text x="547.10" y="367.10" text-anchor="middle" font-family="'Liberation Sans', 'DejaVu Sans', sans-serif" font-size="8.6" fill="#595959" font-weight="normal" textLength="33" lengthAdjust="spacingAndGlyphs">Время, с</text>
<text x="31.6" y="11.9" font-family="'Liberation Serif', 'DejaVu Serif', serif" font-size="17.6" fill="#1e1e1e" stroke="#1e1e1e" stroke-width="0.12" style="font-variant-ligatures:none" textLength="62.3" lengthAdjust="spacingAndGlyphs">Catalytic</text>
<text x="99.5" y="11.9" font-family="'Liberation Serif', 'DejaVu Serif', serif" font-size="17.6" fill="#1e1e1e" stroke="#1e1e1e" stroke-width="0.12" style="font-variant-ligatures:none" textLength="29.3" lengthAdjust="spacingAndGlyphs">unit</text>
<text x="132.3" y="11.9" font-family="'Liberation Serif', 'DejaVu Serif', serif" font-size="17.6" fill="#1e1e1e" stroke="#1e1e1e" stroke-width="0.12" style="font-variant-ligatures:none" textLength="31.5" lengthAdjust="spacingAndGlyphs">with</text>
<text x="169.6" y="11.9" font-family="'Liberation Serif', 'DejaVu Serif', serif" font-size="17.6" fill="#1e1e1e" stroke="#1e1e1e" stroke-width="0.12" style="font-variant-ligatures:none" font-style="italic" textLength="28.1" lengthAdjust="spacingAndGlyphs">OSC</text>
<text x="204.0" y="12.9" font-family="'Liberation Serif', 'DejaVu Serif', serif" font-size="17.6" fill="#1e1e1e" stroke="#1e1e1e" stroke-width="0.12" style="font-variant-ligatures:none" textLength="11.4" lengthAdjust="spacingAndGlyphs">−</text>
<text x="220.7" y="11.9" font-family="'Liberation Serif', 'DejaVu Serif', serif" font-size="17.6" fill="#1e1e1e" stroke="#1e1e1e" stroke-width="0.12" style="font-variant-ligatures:none" textLength="26.6" lengthAdjust="spacingAndGlyphs">650</text>
<text x="252.6" y="11.9" font-family="'Liberation Serif', 'DejaVu Serif', serif" font-size="17.6" fill="#1e1e1e" stroke="#1e1e1e" stroke-width="0.12" style="font-variant-ligatures:none" textLength="3.9" lengthAdjust="spacingAndGlyphs">(</text>
<text x="257.8" y="11.9" font-family="'Liberation Serif', 'DejaVu Serif', serif" font-size="17.6" fill="#1e1e1e" stroke="#1e1e1e" stroke-width="0.12" style="font-variant-ligatures:none" font-style="italic" textLength="19.2" lengthAdjust="spacingAndGlyphs">IC</text>
<text x="277.5" y="11.9" font-family="'Liberation Serif', 'DejaVu Serif', serif" font-size="17.6" fill="#1e1e1e" stroke="#1e1e1e" stroke-width="0.12" style="font-variant-ligatures:none" textLength="25.9" lengthAdjust="spacingAndGlyphs">719</text>
<text x="303.6" y="11.9" font-family="'Liberation Serif', 'DejaVu Serif', serif" font-size="17.6" fill="#1e1e1e" stroke="#1e1e1e" stroke-width="0.12" style="font-variant-ligatures:none" textLength="6.0" lengthAdjust="spacingAndGlyphs">)</text>
<text x="403.5" y="11.9" font-family="'Liberation Serif', 'DejaVu Serif', serif" font-size="17.6" fill="#1e1e1e" stroke="#1e1e1e" stroke-width="0.12" style="font-variant-ligatures:none" textLength="32.1" lengthAdjust="spacingAndGlyphs">RPM</text>
<text x="441.2" y="12.9" font-family="'Liberation Serif', 'DejaVu Serif', serif" font-size="17.6" fill="#1e1e1e" stroke="#1e1e1e" stroke-width="0.12" style="font-variant-ligatures:none" textLength="11.4" lengthAdjust="spacingAndGlyphs">−</text>
<text x="458.4" y="11.9" font-family="'Liberation Serif', 'DejaVu Serif', serif" font-size="17.6" fill="#1e1e1e" stroke="#1e1e1e" stroke-width="0.12" style="font-variant-ligatures:none" textLength="39.6" lengthAdjust="spacingAndGlyphs">1800,</text>
<text x="512.0" y="11.9" font-family="'Liberation Serif', 'DejaVu Serif', serif" font-size="17.6" fill="#1e1e1e" stroke="#1e1e1e" stroke-width="0.1" style="font-variant-ligatures:none" font-style="italic" textLength="25.2" lengthAdjust="spacing">Air</text>
<text x="540.6" y="11.9" font-family="'Liberation Serif', 'DejaVu Serif', serif" font-size="17.6" fill="#1e1e1e" stroke="#1e1e1e" stroke-width="0.1" style="font-variant-ligatures:none" font-style="italic" textLength="34.4" lengthAdjust="spacing">flow</text>
<text x="581.7" y="12.9" font-family="'Liberation Serif', 'DejaVu Serif', serif" font-size="17.6" fill="#1e1e1e" stroke="#1e1e1e" stroke-width="0.12" style="font-variant-ligatures:none" textLength="11.3" lengthAdjust="spacingAndGlyphs">−</text>
<text x="598.4" y="11.9" font-family="'Liberation Serif', 'DejaVu Serif', serif" font-size="17.6" fill="#1e1e1e" stroke="#1e1e1e" stroke-width="0.12" style="font-variant-ligatures:none" textLength="25.9" lengthAdjust="spacingAndGlyphs">100</text>
<text x="630.1" y="11.9" font-family="'Liberation Serif', 'DejaVu Serif', serif" font-size="17.6" fill="#1e1e1e" stroke="#1e1e1e" stroke-width="0.1" style="font-variant-ligatures:none" font-style="italic" textLength="36.2" lengthAdjust="spacing">kg/h</text>
<text x="162.7" y="10.8" transform="rotate(-90) translate(-325.4,0)" font-family="'Liberation Serif', 'DejaVu Serif', serif" font-size="15.5" fill="#1e1e1e" stroke="#1e1e1e" stroke-width="0.15" textLength="126.3" lengthAdjust="spacingAndGlyphs">Contents of CO, ppm</text>
<text x="160.4" y="372.2" transform="rotate(-90) translate(-320.8,0)" font-family="'Liberation Serif', 'DejaVu Serif', serif" font-size="15.5" fill="#1e1e1e" stroke="#1e1e1e" stroke-width="0.15" textLength="128.4" lengthAdjust="spacingAndGlyphs">Contents of O2, ppm</text>
<text x="325.6" y="10.8" transform="rotate(-90) translate(-651.2,0)" font-family="'Liberation Serif', 'DejaVu Serif', serif" font-size="15.5" fill="#1e1e1e" stroke="#1e1e1e" stroke-width="0.15" textLength="127.6" lengthAdjust="spacingAndGlyphs">Contents of CH, ppm</text>
<text x="348.0" y="372.3" transform="rotate(-90) translate(-696.0,0)" font-family="'Liberation Serif', 'DejaVu Serif', serif" font-size="15.5" fill="#1e1e1e" stroke="#1e1e1e" stroke-width="0.15" textLength="137.5" lengthAdjust="spacingAndGlyphs">Contents of NOx, ppm</text>
</svg>
</body></html>
